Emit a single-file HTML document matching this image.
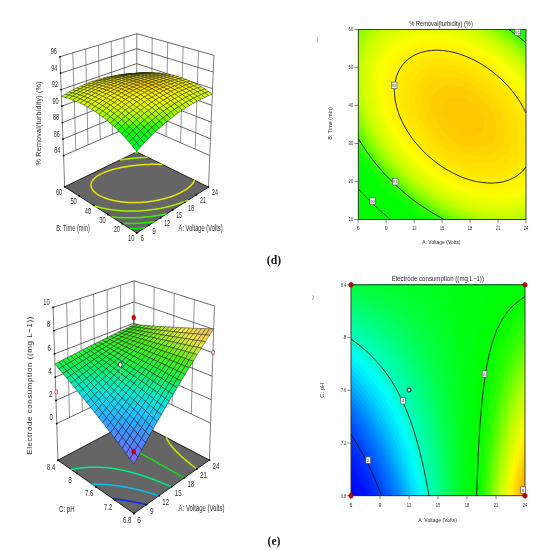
<!DOCTYPE html>
<html><head><meta charset="utf-8"><style>html,body{margin:0;padding:0;background:#fff;overflow:hidden}svg{display:block}</style></head>
<body>
<svg width="537" height="550" viewBox="0 0 537 550">
<rect width="537" height="550" fill="#fff"/>
<line x1="75.8" y1="150.3" x2="72.8" y2="52.8" stroke="#707070" stroke-width="0.75"/>
<line x1="88" y1="144.9" x2="85.6" y2="49" stroke="#707070" stroke-width="0.75"/>
<line x1="100.2" y1="139.6" x2="98.4" y2="45.2" stroke="#707070" stroke-width="0.75"/>
<line x1="112.4" y1="134.2" x2="111.2" y2="41.3" stroke="#707070" stroke-width="0.75"/>
<line x1="124.6" y1="128.9" x2="124" y2="37.5" stroke="#707070" stroke-width="0.75"/>
<line x1="195.2" y1="149.1" x2="198.5" y2="50.9" stroke="#707070" stroke-width="0.75"/>
<line x1="180.6" y1="142.7" x2="183.1" y2="46.6" stroke="#707070" stroke-width="0.75"/>
<line x1="166" y1="136.3" x2="167.7" y2="42.3" stroke="#707070" stroke-width="0.75"/>
<line x1="151.4" y1="129.9" x2="152.2" y2="38" stroke="#707070" stroke-width="0.75"/>
<line x1="63.6" y1="155.6" x2="136.8" y2="123.6" stroke="#262626" stroke-width="0.7"/>
<line x1="63" y1="139.1" x2="136.8" y2="108.6" stroke="#262626" stroke-width="0.7"/>
<line x1="62.4" y1="122.6" x2="136.8" y2="93.6" stroke="#262626" stroke-width="0.7"/>
<line x1="61.8" y1="106.1" x2="136.8" y2="78.6" stroke="#262626" stroke-width="0.7"/>
<line x1="61.2" y1="89.6" x2="136.8" y2="63.6" stroke="#262626" stroke-width="0.7"/>
<line x1="60.6" y1="73.1" x2="136.8" y2="48.7" stroke="#262626" stroke-width="0.7"/>
<line x1="60" y1="56.7" x2="136.8" y2="33.7" stroke="#262626" stroke-width="0.7"/>
<line x1="209.8" y1="155.5" x2="136.8" y2="123.6" stroke="#262626" stroke-width="0.7"/>
<line x1="210.5" y1="138.8" x2="136.8" y2="108.6" stroke="#262626" stroke-width="0.7"/>
<line x1="211.2" y1="122.1" x2="136.8" y2="93.6" stroke="#262626" stroke-width="0.7"/>
<line x1="211.9" y1="105.4" x2="136.8" y2="78.6" stroke="#262626" stroke-width="0.7"/>
<line x1="212.6" y1="88.7" x2="136.8" y2="63.6" stroke="#262626" stroke-width="0.7"/>
<line x1="213.2" y1="72" x2="136.8" y2="48.7" stroke="#262626" stroke-width="0.7"/>
<line x1="213.9" y1="55.3" x2="136.8" y2="33.7" stroke="#262626" stroke-width="0.7"/>
<line x1="64.7" y1="186.8" x2="60" y2="56.7" stroke="#555" stroke-width="0.75"/>
<line x1="136.7" y1="151.9" x2="136.8" y2="33.7" stroke="#555" stroke-width="0.75"/>
<line x1="208.5" y1="187.1" x2="213.9" y2="55.3" stroke="#555" stroke-width="0.75"/>
<polygon points="136.8,233 208.5,187.1 136.7,151.9 64.7,186.8" fill="#656565" stroke="#111" stroke-width="0.9"/>
<polyline points="129.9,228.6 130.6,228.6 130.6,228.6 131.3,228.6 131.4,228.6 132,228.6 132.2,228.6 132.7,228.5 132.9,228.5 133.4,228.5 133.7,228.5 134,228.5 134.5,228.5 134.7,228.5 135.3,228.4 135.4,228.4 136.1,228.4 136.1,228.4 136.7,228.4 136.8,228.4 137.4,228.3 137.6,228.3 138.1,228.3 138.4,228.3 138.7,228.3 139.2,228.2 139.4,228.2 140,228.2 140,228.2 140.7,228.1 140.8,228.1 141.3,228.1 141.6,228.1 142,228 142.5,228 142.6,228 143.3,227.9 143.3,227.9 143.9,227.9 144.1,227.9 144.6,227.8 144.9,227.8" fill="none" stroke="#10e800" stroke-width="1.5"/>
<polyline points="121.9,223.5 122,223.5 122.6,223.5 122.7,223.5 123.4,223.5 123.4,223.5 124.1,223.5 124.1,223.5 124.8,223.5 124.9,223.5 125.5,223.5 125.6,223.5 126.3,223.5 126.3,223.5 127,223.5 127.1,223.5 127.7,223.5 127.8,223.5 128.4,223.5 128.5,223.5 129.1,223.5 129.3,223.5 129.8,223.5 130,223.5 130.5,223.5 130.8,223.5 131.2,223.5 131.5,223.5 131.9,223.5 132.3,223.5 132.5,223.5 133.1,223.4 133.2,223.4 133.8,223.4 133.9,223.4 134.6,223.4 134.6,223.4 135.3,223.4 135.4,223.4 135.9,223.3 136.2,223.3 136.6,223.3 136.9,223.3 137.3,223.3 137.7,223.2 137.9,223.2 138.5,223.2 138.6,223.2 139.3,223.2 139.3,223.2 139.9,223.1 140.1,223.1 140.6,223.1 140.9,223.1 141.2,223 141.7,223 141.9,223 142.5,222.9 142.6,222.9 143.2,222.9 143.4,222.9 143.8,222.8 144.2,222.8 144.5,222.8 145,222.7 145.1,222.7 145.7,222.7 145.9,222.7 146.4,222.6 146.7,222.6 147,222.5 147.5,222.5 147.6,222.5 148.3,222.4 148.4,222.4 148.9,222.3 149.3,222.3 149.5,222.3 150.1,222.2 150.1,222.2 150.7,222.1 151,222.1 151.4,222.1 151.9,222 152,222 152.6,221.9 152.7,221.9 153.2,221.8 153.6,221.8 153.8,221.8 154.4,221.7 154.5,221.7" fill="none" stroke="#20ee00" stroke-width="1.5"/>
<polyline points="111.7,216.9 111.9,216.9 112.5,217 112.5,217 113.2,217.1 113.4,217.1 113.8,217.1 114.2,217.2 114.5,217.2 115,217.2 115.1,217.2 115.8,217.3 115.8,217.3 116.5,217.3 116.6,217.3 117.1,217.4 117.3,217.4 117.8,217.4 118.1,217.5 118.5,217.5 118.9,217.5 119.2,217.5 119.7,217.5 119.9,217.6 120.4,217.6 120.5,217.6 121.2,217.6 121.2,217.6 121.9,217.7 121.9,217.7 122.6,217.7 122.7,217.7 123.3,217.7 123.4,217.7 124,217.7 124.2,217.7 124.8,217.7 124.9,217.8 125.5,217.8 125.6,217.8 126.2,217.8 126.4,217.8 126.9,217.8 127.1,217.8 127.6,217.8 127.8,217.8 128.4,217.8 128.5,217.8 129.1,217.8 129.2,217.8 129.8,217.8 129.9,217.8 130.6,217.8 130.6,217.8 131.3,217.8 131.3,217.8 132,217.8 132.1,217.8 132.7,217.8 132.8,217.8 133.4,217.7 133.6,217.7 134.1,217.7 134.3,217.7 134.8,217.7 135.1,217.7 135.5,217.7 135.9,217.7 136.1,217.7 136.7,217.6 136.8,217.6 137.4,217.6 137.5,217.6 138.2,217.6 138.2,217.6 138.8,217.5 139,217.5 139.5,217.5 139.8,217.5 140.1,217.4 140.6,217.4 140.8,217.4 141.4,217.4 141.4,217.4 142.1,217.3 142.2,217.3 142.7,217.3 143.1,217.2 143.4,217.2 143.9,217.2 144,217.2 144.7,217.1 144.7,217.1 145.3,217.1 145.5,217 145.9,217 146.4,217 146.6,216.9 147.2,216.9 147.2,216.9 147.8,216.8 148.1,216.8 148.5,216.7 148.9,216.7 149.1,216.7 149.7,216.6 149.8,216.6 150.3,216.5 150.7,216.5 150.9,216.5 151.5,216.4 151.6,216.4 152.1,216.3 152.4,216.3 152.7,216.2 153.3,216.1 153.4,216.1 154,216.1 154.2,216 154.6,216 155.2,215.9 155.2,215.9 155.7,215.8 156.1,215.8 156.3,215.7 156.9,215.6 157,215.6 157.5,215.5 157.9,215.5 158.1,215.4 158.7,215.3 158.9,215.3 159.3,215.2 159.8,215.1 159.9,215.1 160.4,215 160.8,215 161,214.9 161.6,214.8 161.7,214.8 162.2,214.7 162.7,214.6 162.7,214.6 163.3,214.5 163.7,214.4 163.9,214.4 164.4,214.3 164.7,214.2 165,214.2 165.6,214.1 165.7,214 166.1,214 166.7,213.8 166.8,213.8" fill="none" stroke="#40f000" stroke-width="1.5"/>
<polyline points="138.1,152.5 137.5,152.6 137.5,152.6 136.8,152.6 136.6,152.6 136.2,152.7 135.7,152.7 135.6,152.7 135,152.8 134.9,152.8" fill="none" stroke="#40f000" stroke-width="1.5"/>
<polyline points="94.8,206 94.8,206.1 95.3,206.2 95.8,206.4 96,206.4 96.3,206.5 96.8,206.7 97.3,206.8 97.4,206.8 97.9,207 98.4,207.1 98.5,207.1 98.9,207.2 99.5,207.4 99.6,207.4 100,207.5 100.5,207.6 100.7,207.7 101.1,207.8 101.6,207.9 101.8,207.9 102.2,208 102.7,208.2 102.8,208.2 103.3,208.3 103.8,208.4 103.9,208.4 104.4,208.5 104.9,208.6 104.9,208.6 105.5,208.7 105.9,208.8 106.1,208.9 106.7,209 106.9,209 107.2,209.1 107.8,209.2 107.8,209.2 108.4,209.3 108.8,209.3 109,209.4 109.6,209.5 109.7,209.5 110.2,209.6 110.6,209.6 110.8,209.7 111.4,209.7 111.5,209.8 112,209.8 112.4,209.9 112.6,209.9 113.2,210 113.3,210 113.9,210.1 114.1,210.1 114.5,210.1 115,210.2 115.1,210.2 115.7,210.3 115.8,210.3 116.4,210.4 116.7,210.4 117,210.4 117.5,210.5 117.7,210.5 118.3,210.5 118.3,210.5 118.9,210.6 119.1,210.6 119.6,210.7 119.9,210.7 120.3,210.7 120.7,210.7 120.9,210.8 121.5,210.8 121.6,210.8 122.3,210.8 122.3,210.8 122.9,210.9 123.1,210.9 123.6,210.9 123.8,210.9 124.3,211 124.6,211 125,211 125.4,211 125.7,211 126.1,211 126.4,211 126.9,211.1 127.1,211.1 127.6,211.1 127.8,211.1 128.3,211.1 128.5,211.1 129.1,211.1 129.2,211.1 129.8,211.1 129.9,211.1 130.5,211.1 130.7,211.1 131.2,211.1 131.4,211.1 131.9,211.1 132.1,211.1 132.6,211.1 132.9,211.1 133.3,211.1 133.6,211.1 134,211.1 134.4,211.1 134.7,211.1 135.1,211.1 135.4,211.1 135.9,211 136.1,211 136.7,211 136.8,211 137.4,211 137.5,211 138.1,211 138.2,211 138.8,210.9 139,210.9 139.5,210.9 139.8,210.9 140.1,210.9 140.6,210.8 140.8,210.8 141.4,210.8 141.4,210.8 142.1,210.7 142.2,210.7 142.7,210.7 143,210.7 143.4,210.6 143.9,210.6 144,210.6 144.7,210.5 144.7,210.5 145.3,210.5 145.5,210.4 145.9,210.4 146.4,210.4 146.6,210.3 147.2,210.3 147.2,210.3 147.8,210.2 148.1,210.2 148.4,210.1 149,210.1 149,210.1 149.6,210 149.8,210 150.3,209.9 150.7,209.9 150.9,209.9 151.5,209.8 151.6,209.8 152.1,209.7 152.5,209.6 152.7,209.6 153.3,209.5 153.4,209.5 153.9,209.4 154.3,209.4 154.5,209.4 155,209.3 155.3,209.2 155.6,209.2 156.2,209.1 156.2,209.1 156.8,209 157.2,208.9 157.4,208.9 157.9,208.8 158.1,208.8 158.5,208.7 159.1,208.6 159.1,208.6 159.7,208.5 160.1,208.4 160.2,208.4 160.8,208.3 161.1,208.2 161.4,208.2 161.9,208 162.1,208 162.5,207.9 163,207.8 163.2,207.8 163.6,207.7 164.1,207.6 164.2,207.6 164.7,207.5 165.2,207.3 165.3,207.3 165.8,207.2 166.3,207.1 166.4,207.1 166.8,207 167.4,206.8 167.5,206.8 167.9,206.7 168.4,206.6 168.6,206.5 169,206.4 169.5,206.3 169.7,206.2 170,206.2 170.5,206 170.9,205.9 171,205.9 171.6,205.8 172.1,205.6 172.1,205.6 172.6,205.5 173.1,205.3 173.3,205.3 173.6,205.2 174.1,205 174.6,204.9 174.6,204.9 175.1,204.8 175.6,204.6 175.9,204.5 176.1,204.4 176.6,204.3 177.1,204.1 177.2,204.1 177.6,204 178.1,203.8 178.6,203.7 178.6,203.7 179.1,203.5 179.6,203.3 180,203.2 180,203.2 180.5,203 181,202.8 181.5,202.7 181.5,202.7 181.9,202.5 182.4,202.3 182.9,202.2 183,202.1 183.3,202 183.8,201.8 184.3,201.6 184.6,201.5 184.7,201.5 185.2,201.3 185.6,201.1 186.1,200.9 186.4,200.8 186.5,200.8 187,200.6 187.4,200.4 187.9,200.2 188.2,200" fill="none" stroke="#a8f000" stroke-width="1.5"/>
<polyline points="147.7,157.3 147.3,157.3 147.1,157.3 146.6,157.3 146.4,157.3 145.8,157.4 145.7,157.4 145.1,157.4 145,157.4 144.4,157.4 144.2,157.5 143.8,157.5 143.3,157.5 143.1,157.5 142.5,157.6 142.5,157.6 141.9,157.6 141.7,157.6 141.2,157.6 140.9,157.7 140.6,157.7 140,157.7 140,157.7 139.3,157.8 139.2,157.8 138.7,157.8 138.3,157.9 138.1,157.9 137.5,157.9 137.4,157.9 136.8,158 136.6,158 136.2,158 135.7,158.1 135.6,158.1 135,158.2 134.8,158.2 134.4,158.2 133.9,158.3 133.8,158.3 133.2,158.3 133,158.4 132.6,158.4 132.1,158.4 132,158.4 131.4,158.5 131.1,158.5 130.8,158.6 130.2,158.6 130.2,158.6 129.7,158.7 129.2,158.7 129.1,158.8 128.5,158.8 128.3,158.9 127.9,158.9 127.4,159 127.3,159 126.8,159 126.3,159.1 126.2,159.1 125.6,159.2 125.3,159.2 125.1,159.3 124.5,159.3 124.3,159.4 124,159.4 123.4,159.5 123.3,159.5 122.9,159.5 122.3,159.6 122.2,159.6 121.8,159.7 121.2,159.8 121.2,159.8 120.7,159.9 120.1,159.9 120.1,159.9" fill="none" stroke="#a8f000" stroke-width="1.5"/>
<polyline points="162.4,164.5 162.3,164.5 161.6,164.4 161.6,164.4 161,164.4 160.8,164.4 160.4,164.4 159.9,164.4 159.7,164.4 159.1,164.3 159,164.3 158.4,164.3 158.4,164.3 157.7,164.3 157.6,164.3 157,164.3 156.8,164.3 156.4,164.3 156,164.3 155.7,164.3 155.3,164.3 155,164.3 154.5,164.3 154.3,164.3 153.8,164.3 153.6,164.3 153.1,164.3 152.9,164.3 152.3,164.3 152.1,164.3 151.6,164.3 151.4,164.3 150.9,164.3 150.7,164.3 150.2,164.4 149.9,164.4 149.5,164.4 149.2,164.4 148.8,164.4 148.4,164.4 148.1,164.4 147.7,164.4 147.4,164.4 146.9,164.5 146.8,164.5 146.1,164.5 146.1,164.5 145.4,164.5 145.3,164.6 144.8,164.6 144.5,164.6 144.1,164.6 143.7,164.6 143.5,164.7 142.9,164.7 142.8,164.7 142.2,164.7 142.1,164.8 141.5,164.8 141.2,164.8 140.9,164.8 140.4,164.9 140.3,164.9 139.7,164.9 139.5,165 139,165 138.6,165 138.4,165.1 137.8,165.1 137.8,165.1 137.2,165.2 136.9,165.2 136.6,165.2 136,165.3 136,165.3 135.4,165.4 135,165.4 134.8,165.4 134.2,165.5 134.1,165.5 133.6,165.6 133.2,165.6 133.1,165.6 132.5,165.7 132.2,165.7 131.9,165.8 131.3,165.8 131.2,165.9 130.8,165.9 130.2,166 130.2,166 129.6,166.1 129.2,166.1 129.1,166.2 128.5,166.2 128.1,166.3 128,166.3 127.4,166.4 127.1,166.5 126.9,166.5 126.4,166.6 126,166.6 125.8,166.7 125.3,166.8 124.8,166.8 124.8,166.9 124.2,166.9 123.7,167 123.7,167 123.2,167.1 122.7,167.2 122.5,167.3 122.1,167.3 121.6,167.4 121.3,167.5 121.1,167.5 120.6,167.6 120.1,167.7 120,167.8 119.6,167.9 119.1,168 118.7,168.1 118.6,168.1 118.1,168.2 117.6,168.3 117.3,168.4 117.2,168.4 116.7,168.5 116.2,168.6 115.8,168.7 115.7,168.8 115.2,168.9 114.8,169 114.3,169.1 114.3,169.1 113.8,169.2 113.4,169.4 112.9,169.5 112.6,169.6 112.5,169.6 112,169.8 111.6,169.9 111.1,170 110.7,170.1 110.7,170.2 110.2,170.3 109.8,170.4 109.4,170.6 108.9,170.7 108.5,170.8 108.5,170.9 108.1,171 107.7,171.1 107.3,171.3 106.8,171.4 106.4,171.6 106,171.7 105.6,171.9 105.6,171.9 105.2,172.1 104.8,172.2 104.4,172.4 104,172.5 103.7,172.7 103.3,172.9 102.9,173 102.5,173.2 102.1,173.4 101.8,173.6 101.4,173.7 101,173.9 100.7,174.1 100.3,174.3 100,174.5 99.6,174.6 99.3,174.8 99,175 98.6,175.2 98.3,175.4 98,175.6 97.7,175.8 97.6,175.9 97.3,176 97,176.2 96.7,176.5 96.4,176.7 96.1,176.9 95.8,177.1 95.8,177.1 95.6,177.3 95.3,177.6 95,177.8 94.7,178 94.7,178.1 94.5,178.3 94.2,178.5 94,178.8 93.8,178.9 93.7,179 93.5,179.3 93.3,179.5 93.2,179.6 93.1,179.8 92.8,180.1 92.7,180.3 92.6,180.3 92.4,180.6 92.3,180.9 92.3,180.9 92.1,181.2 92,181.4 91.9,181.5 91.8,181.8 91.7,182 91.6,182.1 91.5,182.4 91.5,182.5 91.4,182.8 91.3,183 91.3,183.1 91.2,183.4 91.2,183.4 91.1,183.8 91.1,183.9 91,184.2 91,184.3 91,184.5 91,184.7 91,184.9 91,185.1 91,185.3 91,185.5 91,185.8 91,185.9 91,186.2 91.1,186.3 91.1,186.6 91.1,186.7 91.2,187 91.3,187.1 91.3,187.4 91.4,187.6 91.5,187.7 91.6,188.1 91.6,188.2 91.7,188.4 91.9,188.7 91.9,188.8 92.1,189 92.3,189.3 92.3,189.4 92.5,189.7 92.7,190 92.8,190.1 92.9,190.3 93.1,190.5 93.4,190.8 93.4,190.9 93.6,191.1 93.9,191.4 94.1,191.7 94.4,191.9 94.4,191.9 94.7,192.2 95,192.5 95.3,192.7 95.6,193 95.9,193.2 96.2,193.5 96.2,193.5 96.5,193.7 96.9,193.9 97.2,194.2 97.6,194.4 97.9,194.6 98.3,194.8 98.7,195.1 99,195.3 99.4,195.5 99.8,195.7 100.2,195.9 100.2,195.9 100.6,196.1 101,196.3 101.4,196.5 101.8,196.7 102.2,196.9 102.7,197.1 103,197.2 103.1,197.3 103.5,197.5 104,197.6 104.4,197.8 104.9,198 104.9,198 105.3,198.2 105.8,198.3 106.3,198.5 106.6,198.6 106.8,198.6 107.2,198.8 107.7,199 108,199 108.2,199.1 108.7,199.3 109.2,199.4 109.3,199.4 109.7,199.5 110.2,199.7 110.6,199.8 110.7,199.8 111.3,200 111.8,200.1 111.8,200.1 112.3,200.2 112.8,200.3 112.9,200.4 113.4,200.5 113.9,200.6 114,200.6 114.5,200.7 115,200.8 115,200.8 115.6,200.9 116,201 116.2,201 116.7,201.1 117,201.2 117.3,201.2 117.9,201.3 118,201.3 118.5,201.4 118.9,201.5 119.1,201.5 119.7,201.6 119.8,201.6 120.3,201.7 120.7,201.7 120.9,201.8 121.5,201.8 121.6,201.9 122.1,201.9 122.5,202 122.7,202 123.3,202 123.3,202 124,202.1 124.2,202.1 124.6,202.2 125,202.2 125.2,202.2 125.8,202.3 125.9,202.3 126.6,202.3 126.6,202.3 127.2,202.4 127.4,202.4 127.9,202.4 128.2,202.4 128.6,202.4 129,202.5 129.2,202.5 129.8,202.5 129.9,202.5 130.5,202.5 130.6,202.5 131.3,202.6 131.3,202.6 132,202.6 132,202.6 132.7,202.6 132.7,202.6 133.4,202.6 133.5,202.6 134.2,202.6 134.2,202.6 134.9,202.6 134.9,202.6 135.6,202.6 135.6,202.6 136.3,202.6 136.4,202.6 137,202.6 137.1,202.6 137.7,202.5 137.9,202.5 138.4,202.5 138.7,202.5 139.1,202.5 139.4,202.5 139.7,202.5 140.2,202.4 140.4,202.4 141,202.4 141.1,202.4 141.7,202.3 141.8,202.3 142.4,202.3 142.6,202.3 143,202.3 143.4,202.2 143.7,202.2 144.3,202.2 144.3,202.2 144.9,202.1 145.1,202.1 145.6,202 146,202 146.2,202 146.8,201.9 146.8,201.9 147.4,201.8 147.7,201.8 148,201.8 148.6,201.7 148.6,201.7 149.2,201.6 149.5,201.6 149.8,201.5 150.4,201.5 150.4,201.5 151,201.4 151.3,201.3 151.6,201.3 152.2,201.2 152.3,201.2 152.8,201.1 153.2,201 153.4,201 153.9,200.9 154.2,200.9 154.5,200.8 155.1,200.7 155.2,200.7 155.6,200.6 156.2,200.5 156.2,200.5 156.8,200.4 157.2,200.3 157.3,200.3 157.9,200.2 158.3,200.1 158.4,200.1 158.9,200 159.4,199.9 159.5,199.8 160,199.7 160.5,199.6 160.6,199.6 161.1,199.5 161.6,199.4 161.6,199.4 162.1,199.2 162.7,199.1 162.8,199.1 163.2,199 163.7,198.8 164,198.8 164.2,198.7 164.7,198.6 165.2,198.4 165.2,198.4 165.7,198.3 166.2,198.1 166.5,198.1 166.7,198 167.2,197.8 167.7,197.7 167.8,197.6 168.2,197.5 168.7,197.4 169.2,197.2 169.3,197.2 169.6,197.1 170.1,196.9 170.6,196.8 170.8,196.7 171.1,196.6 171.5,196.4 172,196.3 172.4,196.1 172.5,196.1 172.9,195.9 173.4,195.8 173.8,195.6 174.1,195.5 174.3,195.4 174.7,195.2 175.1,195.1 175.6,194.9 176,194.7 176.1,194.7 176.5,194.5 176.9,194.3 177.3,194.1 177.7,194 178.2,193.8 178.5,193.6 178.6,193.6 179,193.4 179.4,193.2 179.8,193 180.2,192.8 180.6,192.6 181,192.4 181.4,192.2 181.8,192 182,191.8 182.2,191.8 182.6,191.5 182.9,191.3 183.3,191.1 183.7,190.9 184.1,190.7 184.4,190.5 184.8,190.2 185.1,190 185.5,189.8 185.8,189.6 186.2,189.3 186.5,189.1 186.9,188.9 187,188.8 187.2,188.6 187.5,188.4 187.8,188.1 188.2,187.9 188.5,187.7 188.8,187.4 189.1,187.2 189.4,186.9 189.5,186.8 189.7,186.6 190,186.4 190.3,186.1 190.5,185.9 190.8,185.6 190.8,185.6 191.1,185.3 191.3,185.1 191.6,184.8 191.7,184.6 191.8,184.5 192.1,184.2 192.3,183.9 192.4,183.8 192.6,183.6 192.8,183.4 193,183.1 193,183.1 193.2,182.8 193.4,182.5 193.4,182.4 193.6,182.2 193.8,181.8 193.8,181.8 193.9,181.5 194.1,181.2 194.1,181.2 194.2,180.9 194.3,180.6 194.4,180.5 194.5,180.2" fill="none" stroke="#e8e400" stroke-width="1.5"/>
<g stroke="#0a0a0a" stroke-width="0.42" stroke-linejoin="round">
<polygon points="136.8,73.3 140.6,73.1 136.8,73.5 133,73.6" fill="#76fc00"/>
<polygon points="133,73.5 136.8,73.3 133,73.6 129.3,73.8" fill="#92fc00"/>
<polygon points="140.6,73 144.3,72.8 140.6,73.1 136.8,73.3" fill="#9afc00"/>
<polygon points="129.3,73.9 133,73.5 129.3,73.8 125.5,74.1" fill="#a5fc00"/>
<polygon points="136.8,73.4 140.6,73 136.8,73.3 133,73.5" fill="#affc00"/>
<polygon points="144.4,72.9 148.1,72.6 144.3,72.8 140.6,73" fill="#b6fc00"/>
<polygon points="140.6,73.3 144.4,72.9 140.6,73 136.8,73.4" fill="#c9fc00"/>
<polygon points="148.1,73 151.9,72.6 148.1,72.6 144.4,72.9" fill="#cefc00"/>
<polygon points="125.5,74.4 129.3,73.9 125.5,74.1 121.7,74.5" fill="#b6fc00"/>
<polygon points="133,73.8 136.8,73.4 133,73.5 129.3,73.9" fill="#c1fc00"/>
<polygon points="144.4,73.4 148.1,73 144.4,72.9 140.6,73.3" fill="#dafc00"/>
<polygon points="121.7,74.9 125.5,74.4 121.7,74.5 117.9,75.1" fill="#c6fc00"/>
<polygon points="129.2,74.3 133,73.8 129.3,73.9 125.5,74.4" fill="#d2fc00"/>
<polygon points="136.8,73.8 140.6,73.3 136.8,73.4 133,73.8" fill="#d7fc00"/>
<polygon points="151.9,73.2 155.7,72.8 151.9,72.6 148.1,73" fill="#dcfb00"/>
<polygon points="125.5,75 129.2,74.3 125.5,74.4 121.7,74.9" fill="#dafc00"/>
<polygon points="148.2,73.7 151.9,73.2 148.1,73 144.4,73.4" fill="#e6fb00"/>
<polygon points="117.9,75.6 121.7,74.9 117.9,75.1 114.2,75.7" fill="#d3fc00"/>
<polygon points="133,74.4 136.8,73.8 133,73.8 129.2,74.3" fill="#e0fb00"/>
<polygon points="140.6,74 144.4,73.4 140.6,73.3 136.8,73.8" fill="#e4fb00"/>
<polygon points="155.7,73.5 159.5,73 155.7,72.8 151.9,73.2" fill="#e7fb00"/>
<polygon points="136.8,74.7 140.6,74 136.8,73.8 133,74.4" fill="#ecfb00"/>
<polygon points="114.1,76.4 117.9,75.6 114.2,75.7 110.4,76.4" fill="#d9fc00"/>
<polygon points="121.7,75.7 125.5,75 121.7,74.9 117.9,75.6" fill="#e1fb00"/>
<polygon points="129.2,75.1 133,74.4 129.2,74.3 125.5,75" fill="#e8fb00"/>
<polygon points="144.4,74.3 148.2,73.7 144.4,73.4 140.6,74" fill="#effb00"/>
<polygon points="152,74.1 155.7,73.5 151.9,73.2 148.2,73.7" fill="#f0fa00"/>
<polygon points="159.5,74 163.3,73.5 159.5,73 155.7,73.5" fill="#f0fb00"/>
<polygon points="110.3,77.3 114.1,76.4 110.4,76.4 106.6,77.2" fill="#defb00"/>
<polygon points="117.9,76.6 121.7,75.7 117.9,75.6 114.1,76.4" fill="#e7fb00"/>
<polygon points="133,75.5 136.8,74.7 133,74.4 129.2,75.1" fill="#f3fa00"/>
<polygon points="140.6,75.1 144.4,74.3 140.6,74 136.8,74.7" fill="#f7fa00"/>
<polygon points="148.2,74.8 152,74.1 148.2,73.7 144.4,74.3" fill="#f9fa00"/>
<polygon points="155.7,74.7 159.5,74 155.7,73.5 152,74.1" fill="#f9fa00"/>
<polygon points="125.5,76 129.2,75.1 125.5,75 121.7,75.7" fill="#eefb00"/>
<polygon points="163.3,74.7 167.1,74.1 163.3,73.5 159.5,74" fill="#f7fa00"/>
<polygon points="121.7,76.9 125.5,76 121.7,75.7 117.9,76.6" fill="#f4fa00"/>
<polygon points="129.2,76.4 133,75.5 129.2,75.1 125.5,76" fill="#f9fa00"/>
<polygon points="159.5,75.4 163.3,74.7 159.5,74 155.7,74.7" fill="#fbf600"/>
<polygon points="167.1,75.5 170.9,74.8 167.1,74.1 163.3,74.7" fill="#faf800"/>
<polygon points="106.6,78.3 110.3,77.3 106.6,77.2 102.8,78.2" fill="#e2fb00"/>
<polygon points="114.1,77.6 117.9,76.6 114.1,76.4 110.3,77.3" fill="#ecfb00"/>
<polygon points="136.8,75.9 140.6,75.1 136.8,74.7 133,75.5" fill="#faf800"/>
<polygon points="144.4,75.7 148.2,74.8 144.4,74.3 140.6,75.1" fill="#fbf600"/>
<polygon points="152,75.5 155.7,74.7 152,74.1 148.2,74.8" fill="#fbf600"/>
<polygon points="125.5,77.4 129.2,76.4 125.5,76 121.7,76.9" fill="#fbf700"/>
<polygon points="163.3,76.3 167.1,75.5 163.3,74.7 159.5,75.4" fill="#fbf300"/>
<polygon points="102.8,79.5 106.6,78.3 102.8,78.2 99,79.2" fill="#e5fb00"/>
<polygon points="110.3,78.6 114.1,77.6 110.3,77.3 106.6,78.3" fill="#effb00"/>
<polygon points="117.9,77.9 121.7,76.9 117.9,76.6 114.1,77.6" fill="#f8fa00"/>
<polygon points="133,76.9 136.8,75.9 133,75.5 129.2,76.4" fill="#fbf400"/>
<polygon points="140.6,76.6 144.4,75.7 140.6,75.1 136.8,75.9" fill="#fcf200"/>
<polygon points="148.2,76.4 152,75.5 148.2,74.8 144.4,75.7" fill="#fcf200"/>
<polygon points="155.8,76.3 159.5,75.4 155.7,74.7 152,75.5" fill="#fcf200"/>
<polygon points="170.9,76.5 174.7,75.7 170.9,74.8 167.1,75.5" fill="#fbf600"/>
<polygon points="106.5,79.9 110.3,78.6 106.6,78.3 102.8,79.5" fill="#f2fa00"/>
<polygon points="129.2,78 133,76.9 129.2,76.4 125.5,77.4" fill="#fcf200"/>
<polygon points="144.4,77.4 148.2,76.4 144.4,75.7 140.6,76.6" fill="#fbeb00"/>
<polygon points="167.1,77.4 170.9,76.5 167.1,75.5 163.3,76.3" fill="#fcf100"/>
<polygon points="99,80.7 102.8,79.5 99,79.2 95.2,80.4" fill="#e7fb00"/>
<polygon points="114.1,79.1 117.9,77.9 114.1,77.6 110.3,78.6" fill="#fafa00"/>
<polygon points="121.7,78.5 125.5,77.4 121.7,76.9 117.9,77.9" fill="#fbf500"/>
<polygon points="136.8,77.6 140.6,76.6 136.8,75.9 133,76.9" fill="#fcee00"/>
<polygon points="152,77.2 155.8,76.3 152,75.5 148.2,76.4" fill="#fbea00"/>
<polygon points="159.6,77.2 163.3,76.3 159.5,75.4 155.8,76.3" fill="#fced00"/>
<polygon points="174.7,77.6 178.5,76.8 174.7,75.7 170.9,76.5" fill="#fbf400"/>
<polygon points="155.8,78.3 159.6,77.2 155.8,76.3 152,77.2" fill="#fbe400"/>
<polygon points="170.9,78.6 174.7,77.6 170.9,76.5 167.1,77.4" fill="#fcef00"/>
<polygon points="178.5,78.9 182.3,78 178.5,76.8 174.7,77.6" fill="#fbf400"/>
<polygon points="95.2,82.1 99,80.7 95.2,80.4 91.5,81.7" fill="#e7fb00"/>
<polygon points="102.8,81.2 106.5,79.9 102.8,79.5 99,80.7" fill="#f3fa00"/>
<polygon points="110.3,80.4 114.1,79.1 110.3,78.6 106.5,79.9" fill="#faf800"/>
<polygon points="117.9,79.7 121.7,78.5 117.9,77.9 114.1,79.1" fill="#fbf400"/>
<polygon points="125.4,79.2 129.2,78 125.5,77.4 121.7,78.5" fill="#fcef00"/>
<polygon points="133,78.8 136.8,77.6 133,76.9 129.2,78" fill="#fbe800"/>
<polygon points="140.6,78.5 144.4,77.4 140.6,76.6 136.8,77.6" fill="#fbe400"/>
<polygon points="148.2,78.3 152,77.2 148.2,76.4 144.4,77.4" fill="#fbe200"/>
<polygon points="163.3,78.4 167.1,77.4 163.3,76.3 159.6,77.2" fill="#fbe800"/>
<polygon points="91.4,83.6 95.2,82.1 91.5,81.7 87.7,83.1" fill="#e7fb00"/>
<polygon points="99,82.6 102.8,81.2 99,80.7 95.2,82.1" fill="#f3fa00"/>
<polygon points="114.1,81.1 117.9,79.7 114.1,79.1 110.3,80.4" fill="#fbf300"/>
<polygon points="121.7,80.5 125.4,79.2 121.7,78.5 117.9,79.7" fill="#fcec00"/>
<polygon points="129.2,80 133,78.8 129.2,78 125.4,79.2" fill="#fbe400"/>
<polygon points="136.8,79.7 140.6,78.5 136.8,77.6 133,78.8" fill="#fade00"/>
<polygon points="152,79.4 155.8,78.3 152,77.2 148.2,78.3" fill="#fadc00"/>
<polygon points="159.6,79.5 163.3,78.4 159.6,77.2 155.8,78.3" fill="#fadf00"/>
<polygon points="167.1,79.7 170.9,78.6 167.1,77.4 163.3,78.4" fill="#fbe600"/>
<polygon points="174.7,80 178.5,78.9 174.7,77.6 170.9,78.6" fill="#fcef00"/>
<polygon points="106.5,81.8 110.3,80.4 106.5,79.9 102.8,81.2" fill="#faf800"/>
<polygon points="144.4,79.5 148.2,78.3 144.4,77.4 140.6,78.5" fill="#fadc00"/>
<polygon points="182.3,80.4 186.1,79.4 182.3,78 178.5,78.9" fill="#fbf400"/>
<polygon points="102.7,83.3 106.5,81.8 102.8,81.2 99,82.6" fill="#faf800"/>
<polygon points="110.3,82.6 114.1,81.1 110.3,80.4 106.5,81.8" fill="#fbf300"/>
<polygon points="117.9,81.9 121.7,80.5 117.9,79.7 114.1,81.1" fill="#fbeb00"/>
<polygon points="140.6,80.8 144.4,79.5 140.6,78.5 136.8,79.7" fill="#f7d400"/>
<polygon points="148.2,80.7 152,79.4 148.2,78.3 144.4,79.5" fill="#f7d300"/>
<polygon points="163.4,80.9 167.1,79.7 163.3,78.4 159.6,79.5" fill="#fade00"/>
<polygon points="170.9,81.1 174.7,80 170.9,78.6 167.1,79.7" fill="#fbe600"/>
<polygon points="178.5,81.5 182.3,80.4 178.5,78.9 174.7,80" fill="#fcf000"/>
<polygon points="186.1,82 189.8,81 186.1,79.4 182.3,80.4" fill="#fbf600"/>
<polygon points="87.7,85.2 91.4,83.6 87.7,83.1 83.9,84.7" fill="#e5fb00"/>
<polygon points="95.2,84.2 99,82.6 95.2,82.1 91.4,83.6" fill="#f2fa00"/>
<polygon points="125.4,81.4 129.2,80 125.4,79.2 121.7,80.5" fill="#fbe100"/>
<polygon points="133,81.1 136.8,79.7 133,78.8 129.2,80" fill="#f9da00"/>
<polygon points="155.8,80.7 159.6,79.5 155.8,78.3 152,79.4" fill="#f8d700"/>
<polygon points="83.9,86.9 87.7,85.2 83.9,84.7 80.2,86.3" fill="#e2fb00"/>
<polygon points="91.4,85.9 95.2,84.2 91.4,83.6 87.7,85.2" fill="#effb00"/>
<polygon points="99,84.9 102.7,83.3 99,82.6 95.2,84.2" fill="#fafa00"/>
<polygon points="106.5,84.2 110.3,82.6 106.5,81.8 102.7,83.3" fill="#fbf300"/>
<polygon points="114.1,83.5 117.9,81.9 114.1,81.1 110.3,82.6" fill="#fcec00"/>
<polygon points="121.7,82.9 125.4,81.4 121.7,80.5 117.9,81.9" fill="#fbe100"/>
<polygon points="129.2,82.5 133,81.1 129.2,80 125.4,81.4" fill="#f9d800"/>
<polygon points="136.8,82.2 140.6,80.8 136.8,79.7 133,81.1" fill="#f6cf00"/>
<polygon points="144.4,82.1 148.2,80.7 144.4,79.5 140.6,80.8" fill="#f5cc00"/>
<polygon points="152,82.1 155.8,80.7 152,79.4 148.2,80.7" fill="#f5ce00"/>
<polygon points="159.6,82.2 163.4,80.9 159.6,79.5 155.8,80.7" fill="#f8d600"/>
<polygon points="167.1,82.4 170.9,81.1 167.1,79.7 163.4,80.9" fill="#fae000"/>
<polygon points="174.7,82.7 178.5,81.5 174.7,80 170.9,81.1" fill="#fbea00"/>
<polygon points="182.3,83.2 186.1,82 182.3,80.4 178.5,81.5" fill="#fcf200"/>
<polygon points="189.8,83.9 193.6,82.7 189.8,81 186.1,82" fill="#faf800"/>
<polygon points="87.7,87.7 91.4,85.9 87.7,85.2 83.9,86.9" fill="#ecfb00"/>
<polygon points="110.3,85.2 114.1,83.5 110.3,82.6 106.5,84.2" fill="#fcef00"/>
<polygon points="125.4,84.1 129.2,82.5 125.4,81.4 121.7,82.9" fill="#f9d900"/>
<polygon points="148.2,83.5 152,82.1 148.2,80.7 144.4,82.1" fill="#f4ca00"/>
<polygon points="163.3,83.8 167.1,82.4 163.4,80.9 159.6,82.2" fill="#f9da00"/>
<polygon points="80.1,88.8 83.9,86.9 80.2,86.3 76.4,88.1" fill="#defb00"/>
<polygon points="95.2,86.7 99,84.9 95.2,84.2 91.4,85.9" fill="#f8fa00"/>
<polygon points="102.7,85.9 106.5,84.2 102.7,83.3 99,84.9" fill="#fbf500"/>
<polygon points="117.9,84.6 121.7,82.9 117.9,81.9 114.1,83.5" fill="#fbe300"/>
<polygon points="133,83.8 136.8,82.2 133,81.1 129.2,82.5" fill="#f6cf00"/>
<polygon points="140.6,83.6 144.4,82.1 140.6,80.8 136.8,82.2" fill="#f4ca00"/>
<polygon points="155.8,83.6 159.6,82.2 155.8,80.7 152,82.1" fill="#f6cf00"/>
<polygon points="170.9,84.1 174.7,82.7 170.9,81.1 167.1,82.4" fill="#fbe400"/>
<polygon points="178.5,84.6 182.3,83.2 178.5,81.5 174.7,82.7" fill="#fcf000"/>
<polygon points="186,85.1 189.8,83.9 186.1,82 182.3,83.2" fill="#fbf500"/>
<polygon points="193.6,85.8 197.4,84.6 193.6,82.7 189.8,83.9" fill="#f7fa00"/>
<polygon points="159.6,85.3 163.3,83.8 159.6,82.2 155.8,83.6" fill="#f8d500"/>
<polygon points="189.8,87.2 193.6,85.8 189.8,83.9 186,85.1" fill="#faf900"/>
<polygon points="197.4,88 201.1,86.7 197.4,84.6 193.6,85.8" fill="#effb00"/>
<polygon points="76.4,90.7 80.1,88.8 76.4,88.1 72.6,90" fill="#d8fc00"/>
<polygon points="83.9,89.6 87.7,87.7 83.9,86.9 80.1,88.8" fill="#e7fb00"/>
<polygon points="91.4,88.6 95.2,86.7 91.4,85.9 87.7,87.7" fill="#f4fa00"/>
<polygon points="99,87.7 102.7,85.9 99,84.9 95.2,86.7" fill="#fbf700"/>
<polygon points="106.5,87 110.3,85.2 106.5,84.2 102.7,85.9" fill="#fcf100"/>
<polygon points="114.1,86.3 117.9,84.6 114.1,83.5 110.3,85.2" fill="#fbe700"/>
<polygon points="121.6,85.8 125.4,84.1 121.7,82.9 117.9,84.6" fill="#fadd00"/>
<polygon points="129.2,85.5 133,83.8 129.2,82.5 125.4,84.1" fill="#f7d200"/>
<polygon points="136.8,85.2 140.6,83.6 136.8,82.2 133,83.8" fill="#f4cb00"/>
<polygon points="144.4,85.1 148.2,83.5 144.4,82.1 140.6,83.6" fill="#f4c900"/>
<polygon points="152,85.1 155.8,83.6 152,82.1 148.2,83.5" fill="#f5cd00"/>
<polygon points="167.1,85.6 170.9,84.1 167.1,82.4 163.3,83.8" fill="#fae000"/>
<polygon points="174.7,86 178.5,84.6 174.7,82.7 170.9,84.1" fill="#fbeb00"/>
<polygon points="182.3,86.5 186,85.1 182.3,83.2 178.5,84.6" fill="#fbf300"/>
<polygon points="72.6,92.9 76.4,90.7 72.6,90 68.9,92" fill="#d1fc00"/>
<polygon points="80.1,91.7 83.9,89.6 80.1,88.8 76.4,90.7" fill="#e1fb00"/>
<polygon points="87.7,90.6 91.4,88.6 87.7,87.7 83.9,89.6" fill="#eefb00"/>
<polygon points="95.2,89.7 99,87.7 95.2,86.7 91.4,88.6" fill="#fafa00"/>
<polygon points="102.7,88.9 106.5,87 102.7,85.9 99,87.7" fill="#fbf400"/>
<polygon points="110.3,88.2 114.1,86.3 110.3,85.2 106.5,87" fill="#fcec00"/>
<polygon points="117.9,87.7 121.6,85.8 117.9,84.6 114.1,86.3" fill="#fbe200"/>
<polygon points="133,87 136.8,85.2 133,83.8 129.2,85.5" fill="#f6cf00"/>
<polygon points="140.6,86.8 144.4,85.1 140.6,83.6 136.8,85.2" fill="#f5cc00"/>
<polygon points="148.2,86.8 152,85.1 148.2,83.5 144.4,85.1" fill="#f5cd00"/>
<polygon points="155.8,86.9 159.6,85.3 155.8,83.6 152,85.1" fill="#f7d400"/>
<polygon points="170.9,87.5 174.7,86 170.9,84.1 167.1,85.6" fill="#fbe800"/>
<polygon points="186,88.7 189.8,87.2 186,85.1 182.3,86.5" fill="#faf800"/>
<polygon points="193.6,89.5 197.4,88 193.6,85.8 189.8,87.2" fill="#f3fa00"/>
<polygon points="125.4,87.3 129.2,85.5 125.4,84.1 121.6,85.8" fill="#f9d800"/>
<polygon points="163.3,87.2 167.1,85.6 163.3,83.8 159.6,85.3" fill="#fade00"/>
<polygon points="178.5,88.1 182.3,86.5 178.5,84.6 174.7,86" fill="#fcf200"/>
<polygon points="201.1,90.4 204.9,89 201.1,86.7 197.4,88" fill="#e6fb00"/>
<polygon points="68.9,95.1 72.6,92.9 68.9,92 65.2,94.2" fill="#c4fc00"/>
<polygon points="83.9,92.8 87.7,90.6 83.9,89.6 80.1,91.7" fill="#e8fb00"/>
<polygon points="91.4,91.8 95.2,89.7 91.4,88.6 87.7,90.6" fill="#f4fa00"/>
<polygon points="99,90.9 102.7,88.9 99,87.7 95.2,89.7" fill="#fbf700"/>
<polygon points="121.6,89.2 125.4,87.3 121.6,85.8 117.9,87.7" fill="#fadf00"/>
<polygon points="129.2,88.9 133,87 129.2,85.5 125.4,87.3" fill="#f8d700"/>
<polygon points="136.8,88.7 140.6,86.8 136.8,85.2 133,87" fill="#f7d200"/>
<polygon points="152,88.7 155.8,86.9 152,85.1 148.2,86.8" fill="#f8d600"/>
<polygon points="159.5,88.9 163.3,87.2 159.6,85.3 155.8,86.9" fill="#fadf00"/>
<polygon points="167.1,89.2 170.9,87.5 167.1,85.6 163.3,87.2" fill="#fbe700"/>
<polygon points="174.7,89.7 178.5,88.1 174.7,86 170.9,87.5" fill="#fcf100"/>
<polygon points="189.8,91 193.6,89.5 189.8,87.2 186,88.7" fill="#f5fa00"/>
<polygon points="197.3,91.9 201.1,90.4 197.4,88 193.6,89.5" fill="#e9fb00"/>
<polygon points="204.8,92.9 208.6,91.4 204.9,89 201.1,90.4" fill="#dbfc00"/>
<polygon points="76.4,93.9 80.1,91.7 76.4,90.7 72.6,92.9" fill="#dafc00"/>
<polygon points="106.5,90.2 110.3,88.2 106.5,87 102.7,88.9" fill="#fcf200"/>
<polygon points="114.1,89.6 117.9,87.7 114.1,86.3 110.3,88.2" fill="#fbe800"/>
<polygon points="144.4,88.6 148.2,86.8 144.4,85.1 140.6,86.8" fill="#f6d100"/>
<polygon points="182.2,90.3 186,88.7 182.3,86.5 178.5,88.1" fill="#fbf600"/>
<polygon points="65.2,97.5 68.9,95.1 65.2,94.2 61.4,96.4" fill="#b4fc00"/>
<polygon points="72.6,96.2 76.4,93.9 72.6,92.9 68.9,95.1" fill="#d1fc00"/>
<polygon points="80.1,95 83.9,92.8 80.1,91.7 76.4,93.9" fill="#e0fb00"/>
<polygon points="87.7,94 91.4,91.8 87.7,90.6 83.9,92.8" fill="#edfb00"/>
<polygon points="95.2,93.1 99,90.9 95.2,89.7 91.4,91.8" fill="#f8fa00"/>
<polygon points="102.7,92.4 106.5,90.2 102.7,88.9 99,90.9" fill="#fbf500"/>
<polygon points="117.9,91.2 121.6,89.2 117.9,87.7 114.1,89.6" fill="#fbe700"/>
<polygon points="125.4,90.9 129.2,88.9 125.4,87.3 121.6,89.2" fill="#fae000"/>
<polygon points="133,90.6 136.8,88.7 133,87 129.2,88.9" fill="#fadb00"/>
<polygon points="140.6,90.5 144.4,88.6 140.6,86.8 136.8,88.7" fill="#f9d900"/>
<polygon points="155.7,90.7 159.5,88.9 155.8,86.9 152,88.7" fill="#fae100"/>
<polygon points="163.3,91 167.1,89.2 163.3,87.2 159.5,88.9" fill="#fbe800"/>
<polygon points="170.9,91.5 174.7,89.7 170.9,87.5 167.1,89.2" fill="#fcf100"/>
<polygon points="178.4,92 182.2,90.3 178.5,88.1 174.7,89.7" fill="#fbf600"/>
<polygon points="193.5,93.6 197.3,91.9 193.6,89.5 189.8,91" fill="#ebfb00"/>
<polygon points="201.1,94.5 204.8,92.9 201.1,90.4 197.3,91.9" fill="#defb00"/>
<polygon points="208.6,95.6 212.3,94.1 208.6,91.4 204.8,92.9" fill="#ccfc00"/>
<polygon points="110.3,91.7 114.1,89.6 110.3,88.2 106.5,90.2" fill="#fcf000"/>
<polygon points="148.2,90.6 152,88.7 148.2,86.8 144.4,88.6" fill="#fadc00"/>
<polygon points="186,92.7 189.8,91 186,88.7 182.2,90.3" fill="#f7fa00"/>
<polygon points="91.4,95.4 95.2,93.1 91.4,91.8 87.7,94" fill="#f1fa00"/>
<polygon points="106.5,94 110.3,91.7 106.5,90.2 102.7,92.4" fill="#fbf400"/>
<polygon points="129.2,92.7 133,90.6 129.2,88.9 125.4,90.9" fill="#fbe300"/>
<polygon points="144.4,92.6 148.2,90.6 144.4,88.6 140.6,90.5" fill="#fbe100"/>
<polygon points="167.1,93.4 170.9,91.5 167.1,89.2 163.3,91" fill="#fcf200"/>
<polygon points="197.3,96.3 201.1,94.5 197.3,91.9 193.5,93.6" fill="#dffb00"/>
<polygon points="204.8,97.4 208.6,95.6 204.8,92.9 201.1,94.5" fill="#d0fc00"/>
<polygon points="68.9,98.6 72.6,96.2 68.9,95.1 65.2,97.5" fill="#c0fc00"/>
<polygon points="76.4,97.4 80.1,95 76.4,93.9 72.6,96.2" fill="#d7fc00"/>
<polygon points="83.9,96.4 87.7,94 83.9,92.8 80.1,95" fill="#e5fb00"/>
<polygon points="99,94.6 102.7,92.4 99,90.9 95.2,93.1" fill="#fafa00"/>
<polygon points="114.1,93.4 117.9,91.2 114.1,89.6 110.3,91.7" fill="#fcf000"/>
<polygon points="121.6,93 125.4,90.9 121.6,89.2 117.9,91.2" fill="#fbe800"/>
<polygon points="136.8,92.6 140.6,90.5 136.8,88.7 133,90.6" fill="#fae100"/>
<polygon points="151.9,92.7 155.7,90.7 152,88.7 148.2,90.6" fill="#fbe500"/>
<polygon points="159.5,93 163.3,91 159.5,88.9 155.7,90.7" fill="#fceb00"/>
<polygon points="174.7,93.9 178.4,92 174.7,89.7 170.9,91.5" fill="#fbf600"/>
<polygon points="182.2,94.5 186,92.7 182.2,90.3 178.4,92" fill="#f7fa00"/>
<polygon points="189.7,95.3 193.5,93.6 189.8,91 186,92.7" fill="#ecfb00"/>
<polygon points="72.6,100 76.4,97.4 72.6,96.2 68.9,98.6" fill="#c9fc00"/>
<polygon points="80.1,98.9 83.9,96.4 80.1,95 76.4,97.4" fill="#dbfc00"/>
<polygon points="87.7,97.9 91.4,95.4 87.7,94 83.9,96.4" fill="#e8fb00"/>
<polygon points="102.7,96.3 106.5,94 102.7,92.4 99,94.6" fill="#faf900"/>
<polygon points="125.4,95 129.2,92.7 125.4,90.9 121.6,93" fill="#fcec00"/>
<polygon points="133,94.8 136.8,92.6 133,90.6 129.2,92.7" fill="#fbe900"/>
<polygon points="140.6,94.7 144.4,92.6 140.6,90.5 136.8,92.6" fill="#fbe900"/>
<polygon points="163.3,95.4 167.1,93.4 163.3,91 159.5,93" fill="#fbf300"/>
<polygon points="170.9,95.9 174.7,93.9 170.9,91.5 167.1,93.4" fill="#faf800"/>
<polygon points="186,97.3 189.7,95.3 186,92.7 182.2,94.5" fill="#ebfb00"/>
<polygon points="193.5,98.2 197.3,96.3 193.5,93.6 189.7,95.3" fill="#dffb00"/>
<polygon points="201,99.2 204.8,97.4 201.1,94.5 197.3,96.3" fill="#d1fc00"/>
<polygon points="95.2,97 99,94.6 95.2,93.1 91.4,95.4" fill="#f3fa00"/>
<polygon points="110.3,95.7 114.1,93.4 110.3,91.7 106.5,94" fill="#fbf400"/>
<polygon points="117.9,95.3 121.6,93 117.9,91.2 114.1,93.4" fill="#fcf100"/>
<polygon points="148.1,94.8 151.9,92.7 148.2,90.6 144.4,92.6" fill="#fceb00"/>
<polygon points="155.7,95 159.5,93 155.7,90.7 151.9,92.7" fill="#fcf000"/>
<polygon points="178.4,96.5 182.2,94.5 178.4,92 174.7,93.9" fill="#f5fa00"/>
<polygon points="76.4,101.5 80.1,98.9 76.4,97.4 72.6,100" fill="#d0fc00"/>
<polygon points="83.9,100.5 87.7,97.9 83.9,96.4 80.1,98.9" fill="#defb00"/>
<polygon points="106.5,98.2 110.3,95.7 106.5,94 102.7,96.3" fill="#faf900"/>
<polygon points="114.1,97.7 117.9,95.3 114.1,93.4 110.3,95.7" fill="#fbf600"/>
<polygon points="151.9,97.2 155.7,95 151.9,92.7 148.1,94.8" fill="#fbf300"/>
<polygon points="189.7,100.2 193.5,98.2 189.7,95.3 186,97.3" fill="#defb00"/>
<polygon points="91.4,99.6 95.2,97 91.4,95.4 87.7,97.9" fill="#e9fb00"/>
<polygon points="99,98.8 102.7,96.3 99,94.6 95.2,97" fill="#f3fa00"/>
<polygon points="121.6,97.3 125.4,95 121.6,93 117.9,95.3" fill="#fbf300"/>
<polygon points="129.2,97.1 133,94.8 129.2,92.7 125.4,95" fill="#fcf100"/>
<polygon points="136.8,97 140.6,94.7 136.8,92.6 133,94.8" fill="#fcf100"/>
<polygon points="159.5,97.5 163.3,95.4 159.5,93 155.7,95" fill="#fbf600"/>
<polygon points="167.1,98 170.9,95.9 167.1,93.4 163.3,95.4" fill="#faf900"/>
<polygon points="174.6,98.6 178.4,96.5 174.7,93.9 170.9,95.9" fill="#f3fa00"/>
<polygon points="182.2,99.3 186,97.3 182.2,94.5 178.4,96.5" fill="#e9fb00"/>
<polygon points="197.2,101.2 201,99.2 197.3,96.3 193.5,98.2" fill="#d0fc00"/>
<polygon points="144.4,97 148.1,94.8 144.4,92.6 140.6,94.7" fill="#fcf100"/>
<polygon points="80.2,103.2 83.9,100.5 80.1,98.9 76.4,101.5" fill="#d3fc00"/>
<polygon points="87.7,102.2 91.4,99.6 87.7,97.9 83.9,100.5" fill="#dffb00"/>
<polygon points="95.2,101.4 99,98.8 95.2,97 91.4,99.6" fill="#e9fb00"/>
<polygon points="102.8,100.7 106.5,98.2 102.7,96.3 99,98.8" fill="#f2fa00"/>
<polygon points="110.3,100.2 114.1,97.7 110.3,95.7 106.5,98.2" fill="#f8fa00"/>
<polygon points="117.9,99.8 121.6,97.3 117.9,95.3 114.1,97.7" fill="#faf800"/>
<polygon points="140.6,99.4 144.4,97 140.6,94.7 136.8,97" fill="#fbf500"/>
<polygon points="148.1,99.5 151.9,97.2 148.1,94.8 144.4,97" fill="#fbf600"/>
<polygon points="155.7,99.8 159.5,97.5 155.7,95 151.9,97.2" fill="#faf900"/>
<polygon points="178.4,101.5 182.2,99.3 178.4,96.5 174.6,98.6" fill="#e7fb00"/>
<polygon points="185.9,102.3 189.7,100.2 186,97.3 182.2,99.3" fill="#dcfc00"/>
<polygon points="193.4,103.2 197.2,101.2 193.5,98.2 189.7,100.2" fill="#cdfc00"/>
<polygon points="125.4,99.5 129.2,97.1 125.4,95 121.6,97.3" fill="#fbf600"/>
<polygon points="133,99.4 136.8,97 133,94.8 129.2,97.1" fill="#fbf500"/>
<polygon points="163.3,100.2 167.1,98 163.3,95.4 159.5,97.5" fill="#f7fa00"/>
<polygon points="170.8,100.8 174.6,98.6 170.9,95.9 167.1,98" fill="#f0fb00"/>
<polygon points="182.1,104.5 185.9,102.3 182.2,99.3 178.4,101.5" fill="#d8fc00"/>
<polygon points="83.9,105 87.7,102.2 83.9,100.5 80.2,103.2" fill="#d3fc00"/>
<polygon points="91.5,104.2 95.2,101.4 91.4,99.6 87.7,102.2" fill="#defb00"/>
<polygon points="99,103.5 102.8,100.7 99,98.8 95.2,101.4" fill="#e7fb00"/>
<polygon points="106.5,102.9 110.3,100.2 106.5,98.2 102.8,100.7" fill="#effb00"/>
<polygon points="114.1,102.4 117.9,99.8 114.1,97.7 110.3,100.2" fill="#f4fa00"/>
<polygon points="121.6,102.1 125.4,99.5 121.6,97.3 117.9,99.8" fill="#f8fa00"/>
<polygon points="136.8,101.9 140.6,99.4 136.8,97 133,99.4" fill="#fafa00"/>
<polygon points="144.3,102 148.1,99.5 144.4,97 140.6,99.4" fill="#f9fa00"/>
<polygon points="151.9,102.2 155.7,99.8 151.9,97.2 148.1,99.5" fill="#f6fa00"/>
<polygon points="159.5,102.6 163.3,100.2 159.5,97.5 155.7,99.8" fill="#f1fa00"/>
<polygon points="174.6,103.7 178.4,101.5 174.6,98.6 170.8,100.8" fill="#e3fb00"/>
<polygon points="189.6,105.5 193.4,103.2 189.7,100.2 185.9,102.3" fill="#c9fc00"/>
<polygon points="129.2,101.9 133,99.4 129.2,97.1 125.4,99.5" fill="#fafa00"/>
<polygon points="167,103.1 170.8,100.8 167.1,98 163.3,100.2" fill="#ebfb00"/>
<polygon points="125.4,104.6 129.2,101.9 125.4,99.5 121.6,102.1" fill="#f1fa00"/>
<polygon points="148.1,104.8 151.9,102.2 148.1,99.5 144.3,102" fill="#effb00"/>
<polygon points="178.3,106.9 182.1,104.5 178.4,101.5 174.6,103.7" fill="#d4fc00"/>
<polygon points="185.8,107.8 189.6,105.5 185.9,102.3 182.1,104.5" fill="#c2fc00"/>
<polygon points="87.7,107.1 91.5,104.2 87.7,102.2 83.9,105" fill="#d1fc00"/>
<polygon points="95.2,106.3 99,103.5 95.2,101.4 91.5,104.2" fill="#dbfc00"/>
<polygon points="102.8,105.7 106.5,102.9 102.8,100.7 99,103.5" fill="#e4fb00"/>
<polygon points="110.3,105.2 114.1,102.4 110.3,100.2 106.5,102.9" fill="#eafb00"/>
<polygon points="117.9,104.8 121.6,102.1 117.9,99.8 114.1,102.4" fill="#eefb00"/>
<polygon points="133,104.5 136.8,101.9 133,99.4 129.2,101.9" fill="#f2fa00"/>
<polygon points="140.5,104.6 144.3,102 140.6,99.4 136.8,101.9" fill="#f2fa00"/>
<polygon points="155.7,105.1 159.5,102.6 155.7,99.8 151.9,102.2" fill="#ebfb00"/>
<polygon points="163.2,105.6 167,103.1 163.3,100.2 159.5,102.6" fill="#e5fb00"/>
<polygon points="170.8,106.2 174.6,103.7 170.8,100.8 167,103.1" fill="#ddfb00"/>
<polygon points="91.5,109.3 95.2,106.3 91.5,104.2 87.7,107.1" fill="#ccfc00"/>
<polygon points="99,108.6 102.8,105.7 99,103.5 95.2,106.3" fill="#d7fc00"/>
<polygon points="106.5,108.1 110.3,105.2 106.5,102.9 102.8,105.7" fill="#defb00"/>
<polygon points="114.1,107.7 117.9,104.8 114.1,102.4 110.3,105.2" fill="#e3fb00"/>
<polygon points="121.6,107.4 125.4,104.6 121.6,102.1 117.9,104.8" fill="#e7fb00"/>
<polygon points="129.2,107.3 133,104.5 129.2,101.9 125.4,104.6" fill="#e9fb00"/>
<polygon points="144.3,107.5 148.1,104.8 144.3,102 140.5,104.6" fill="#e7fb00"/>
<polygon points="151.9,107.7 155.7,105.1 151.9,102.2 148.1,104.8" fill="#e3fb00"/>
<polygon points="167,108.7 170.8,106.2 167,103.1 163.2,105.6" fill="#d7fc00"/>
<polygon points="174.5,109.5 178.3,106.9 174.6,103.7 170.8,106.2" fill="#cbfc00"/>
<polygon points="182,110.3 185.8,107.8 182.1,104.5 178.3,106.9" fill="#b9fc00"/>
<polygon points="136.8,107.3 140.5,104.6 136.8,101.9 133,104.5" fill="#e9fb00"/>
<polygon points="159.4,108.2 163.2,105.6 159.5,102.6 155.7,105.1" fill="#defb00"/>
<polygon points="95.3,111.7 99,108.6 95.2,106.3 91.5,109.3" fill="#c4fc00"/>
<polygon points="102.8,111.1 106.5,108.1 102.8,105.7 99,108.6" fill="#d1fc00"/>
<polygon points="125.4,110.2 129.2,107.3 125.4,104.6 121.6,107.4" fill="#defb00"/>
<polygon points="133,110.2 136.8,107.3 133,104.5 129.2,107.3" fill="#defb00"/>
<polygon points="170.7,112.1 174.5,109.5 170.8,106.2 167,108.7" fill="#bffc00"/>
<polygon points="110.3,110.7 114.1,107.7 110.3,105.2 106.5,108.1" fill="#d7fc00"/>
<polygon points="117.9,110.4 121.6,107.4 117.9,104.8 114.1,107.7" fill="#dbfc00"/>
<polygon points="140.5,110.3 144.3,107.5 140.5,104.6 136.8,107.3" fill="#ddfb00"/>
<polygon points="148.1,110.5 151.9,107.7 148.1,104.8 144.3,107.5" fill="#dafc00"/>
<polygon points="155.6,110.9 159.4,108.2 155.7,105.1 151.9,107.7" fill="#d6fc00"/>
<polygon points="163.2,111.4 167,108.7 163.2,105.6 159.4,108.2" fill="#cdfc00"/>
<polygon points="178.2,112.9 182,110.3 178.3,106.9 174.5,109.5" fill="#aefc00"/>
<polygon points="99,114.3 102.8,111.1 99,108.6 95.3,111.7" fill="#b9fc00"/>
<polygon points="106.6,113.8 110.3,110.7 106.5,108.1 102.8,111.1" fill="#c4fc00"/>
<polygon points="114.1,113.5 117.9,110.4 114.1,107.7 110.3,110.7" fill="#cdfc00"/>
<polygon points="121.7,113.3 125.4,110.2 121.6,107.4 117.9,110.4" fill="#d2fc00"/>
<polygon points="129.2,113.2 133,110.2 129.2,107.3 125.4,110.2" fill="#d3fc00"/>
<polygon points="136.7,113.2 140.5,110.3 136.8,107.3 133,110.2" fill="#d2fc00"/>
<polygon points="151.8,113.8 155.6,110.9 151.9,107.7 148.1,110.5" fill="#c8fc00"/>
<polygon points="159.4,114.3 163.2,111.4 159.4,108.2 155.6,110.9" fill="#befc00"/>
<polygon points="166.9,114.9 170.7,112.1 167,108.7 163.2,111.4" fill="#b1fc00"/>
<polygon points="174.4,115.7 178.2,112.9 174.5,109.5 170.7,112.1" fill="#a1fc00"/>
<polygon points="144.3,113.4 148.1,110.5 144.3,107.5 140.5,110.3" fill="#cffc00"/>
<polygon points="163.1,117.9 166.9,114.9 163.2,111.4 159.4,114.3" fill="#a1fc00"/>
<polygon points="102.8,117.1 106.6,113.8 102.8,111.1 99,114.3" fill="#abfc00"/>
<polygon points="110.4,116.7 114.1,113.5 110.3,110.7 106.6,113.8" fill="#b4fc00"/>
<polygon points="117.9,116.5 121.7,113.3 117.9,110.4 114.1,113.5" fill="#bbfc00"/>
<polygon points="133,116.3 136.7,113.2 133,110.2 129.2,113.2" fill="#befc00"/>
<polygon points="140.5,116.5 144.3,113.4 140.5,110.3 136.7,113.2" fill="#bbfc00"/>
<polygon points="148.1,116.8 151.8,113.8 148.1,110.5 144.3,113.4" fill="#b5fc00"/>
<polygon points="155.6,117.3 159.4,114.3 155.6,110.9 151.8,113.8" fill="#acfc00"/>
<polygon points="170.6,118.6 174.4,115.7 170.7,112.1 166.9,114.9" fill="#92fc00"/>
<polygon points="125.4,116.3 129.2,113.2 125.4,110.2 121.7,113.3" fill="#befc00"/>
<polygon points="144.3,120 148.1,116.8 144.3,113.4 140.5,116.5" fill="#a1fc00"/>
<polygon points="166.9,121.6 170.6,118.6 166.9,114.9 163.1,117.9" fill="#7dfc00"/>
<polygon points="106.6,120.1 110.4,116.7 106.6,113.8 102.8,117.1" fill="#9afc00"/>
<polygon points="114.1,119.8 117.9,116.5 114.1,113.5 110.4,116.7" fill="#a2fc00"/>
<polygon points="121.7,119.6 125.4,116.3 121.7,113.3 117.9,116.5" fill="#a6fc00"/>
<polygon points="136.7,119.7 140.5,116.5 136.7,113.2 133,116.3" fill="#a6fc00"/>
<polygon points="159.3,120.9 163.1,117.9 159.4,114.3 155.6,117.3" fill="#8efc00"/>
<polygon points="129.2,119.6 133,116.3 129.2,113.2 125.4,116.3" fill="#a7fc00"/>
<polygon points="151.8,120.4 155.6,117.3 151.8,113.8 148.1,116.8" fill="#99fc00"/>
<polygon points="110.4,123.3 114.1,119.8 110.4,116.7 106.6,120.1" fill="#87fc00"/>
<polygon points="117.9,123.1 121.7,119.6 117.9,116.5 114.1,119.8" fill="#8cfc00"/>
<polygon points="125.4,123 129.2,119.6 125.4,116.3 121.7,119.6" fill="#8ffc00"/>
<polygon points="133,123.1 136.7,119.7 133,116.3 129.2,119.6" fill="#8efc00"/>
<polygon points="140.5,123.3 144.3,120 140.5,116.5 136.7,119.7" fill="#8afc00"/>
<polygon points="148,123.7 151.8,120.4 148.1,116.8 144.3,120" fill="#82fc00"/>
<polygon points="163.1,124.8 166.9,121.6 163.1,117.9 159.3,120.9" fill="#5efc00"/>
<polygon points="155.5,124.2 159.3,120.9 155.6,117.3 151.8,120.4" fill="#72fc00"/>
<polygon points="144.2,127.1 148,123.7 144.3,120 140.5,123.3" fill="#5dfc00"/>
<polygon points="151.8,127.5 155.5,124.2 151.8,120.4 148,123.7" fill="#4ffc00"/>
<polygon points="114.2,126.7 117.9,123.1 114.1,119.8 110.4,123.3" fill="#63fc00"/>
<polygon points="121.7,126.5 125.4,123 121.7,119.6 117.9,123.1" fill="#69fc00"/>
<polygon points="129.2,126.6 133,123.1 129.2,119.6 125.4,123" fill="#6afc00"/>
<polygon points="136.7,126.8 140.5,123.3 136.7,119.7 133,123.1" fill="#66fc00"/>
<polygon points="159.3,128.2 163.1,124.8 159.3,120.9 155.5,124.2" fill="#3dfc00"/>
<polygon points="125.4,130.2 129.2,126.6 125.4,123 121.7,126.5" fill="#3efc00"/>
<polygon points="133,130.4 136.7,126.8 133,123.1 129.2,126.6" fill="#3cfc00"/>
<polygon points="155.5,131.6 159.3,128.2 155.5,124.2 151.8,127.5" fill="#1ffc02"/>
<polygon points="117.9,130.2 121.7,126.5 117.9,123.1 114.2,126.7" fill="#3cfc00"/>
<polygon points="140.5,130.6 144.2,127.1 140.5,123.3 136.7,126.8" fill="#35fc00"/>
<polygon points="148,131.1 151.8,127.5 148,123.7 144.2,127.1" fill="#29fc00"/>
<polygon points="121.7,134 125.4,130.2 121.7,126.5 117.9,130.2" fill="#1bfc05"/>
<polygon points="129.2,134.1 133,130.4 129.2,126.6 125.4,130.2" fill="#1bfc05"/>
<polygon points="136.7,134.4 140.5,130.6 136.7,126.8 133,130.4" fill="#19fc06"/>
<polygon points="144.2,134.7 148,131.1 144.2,127.1 140.5,130.6" fill="#15fc08"/>
<polygon points="151.7,135.3 155.5,131.6 151.8,127.5 148,131.1" fill="#0ffc0c"/>
<polygon points="125.5,138 129.2,134.1 125.4,130.2 121.7,134" fill="#07fc10"/>
<polygon points="133,138.2 136.7,134.4 133,130.4 129.2,134.1" fill="#06fc11"/>
<polygon points="140.5,138.6 144.2,134.7 140.5,130.6 136.7,134.4" fill="#03fc13"/>
<polygon points="148,139 151.7,135.3 148,131.1 144.2,134.7" fill="#00fc15"/>
<polygon points="129.2,142.2 133,138.2 129.2,134.1 125.5,138" fill="#00fc19"/>
<polygon points="136.7,142.5 140.5,138.6 136.7,134.4 133,138.2" fill="#00fc1a"/>
<polygon points="144.2,143 148,139 144.2,134.7 140.5,138.6" fill="#00fc1b"/>
<polygon points="133,146.7 136.7,142.5 133,138.2 129.2,142.2" fill="#00fc21"/>
<polygon points="140.4,147.1 144.2,143 140.5,138.6 136.7,142.5" fill="#00fc22"/>
<polygon points="136.7,151.3 140.4,147.1 136.7,142.5 133,146.7" fill="#00fb2c"/>
</g>
<circle cx="63.6" cy="155.6" r="0.95" fill="#000"/>
<circle cx="63" cy="139.1" r="0.95" fill="#000"/>
<circle cx="62.4" cy="122.6" r="0.95" fill="#000"/>
<circle cx="61.8" cy="106.1" r="0.95" fill="#000"/>
<circle cx="61.2" cy="89.6" r="0.95" fill="#000"/>
<circle cx="60.6" cy="73.1" r="0.95" fill="#000"/>
<circle cx="60" cy="56.7" r="0.95" fill="#000"/>
<circle cx="136.8" cy="233" r="0.95" fill="#000"/>
<circle cx="122.4" cy="223.8" r="0.95" fill="#000"/>
<circle cx="108" cy="214.5" r="0.95" fill="#000"/>
<circle cx="93.6" cy="205.3" r="0.95" fill="#000"/>
<circle cx="79.2" cy="196" r="0.95" fill="#000"/>
<circle cx="64.7" cy="186.8" r="0.95" fill="#000"/>
<circle cx="136.8" cy="233" r="0.95" fill="#000"/>
<circle cx="148.7" cy="225.3" r="0.95" fill="#000"/>
<circle cx="160.7" cy="217.7" r="0.95" fill="#000"/>
<circle cx="172.6" cy="210" r="0.95" fill="#000"/>
<circle cx="184.6" cy="202.4" r="0.95" fill="#000"/>
<circle cx="196.5" cy="194.7" r="0.95" fill="#000"/>
<circle cx="208.5" cy="187.1" r="0.95" fill="#000"/>
<text x="57.3" y="153.4" font-family="Liberation Sans, Arial, sans-serif" font-size="8.6" fill="#2a2a2a" text-anchor="middle" textLength="6.1" lengthAdjust="spacingAndGlyphs">84</text>
<text x="56.7" y="136.9" font-family="Liberation Sans, Arial, sans-serif" font-size="8.6" fill="#2a2a2a" text-anchor="middle" textLength="6.1" lengthAdjust="spacingAndGlyphs">86</text>
<text x="56.1" y="120.4" font-family="Liberation Sans, Arial, sans-serif" font-size="8.6" fill="#2a2a2a" text-anchor="middle" textLength="6.1" lengthAdjust="spacingAndGlyphs">88</text>
<text x="55.5" y="103.9" font-family="Liberation Sans, Arial, sans-serif" font-size="8.6" fill="#2a2a2a" text-anchor="middle" textLength="6.1" lengthAdjust="spacingAndGlyphs">90</text>
<text x="54.9" y="87.4" font-family="Liberation Sans, Arial, sans-serif" font-size="8.6" fill="#2a2a2a" text-anchor="middle" textLength="6.1" lengthAdjust="spacingAndGlyphs">92</text>
<text x="54.3" y="70.9" font-family="Liberation Sans, Arial, sans-serif" font-size="8.6" fill="#2a2a2a" text-anchor="middle" textLength="6.1" lengthAdjust="spacingAndGlyphs">94</text>
<text x="53.7" y="54.4" font-family="Liberation Sans, Arial, sans-serif" font-size="8.6" fill="#2a2a2a" text-anchor="middle" textLength="6.1" lengthAdjust="spacingAndGlyphs">96</text>
<text x="131.2" y="241.3" font-family="Liberation Sans, Arial, sans-serif" font-size="8.6" fill="#2a2a2a" text-anchor="middle" textLength="6.3" lengthAdjust="spacingAndGlyphs">10</text>
<text x="116.8" y="232" font-family="Liberation Sans, Arial, sans-serif" font-size="8.6" fill="#2a2a2a" text-anchor="middle" textLength="6.3" lengthAdjust="spacingAndGlyphs">20</text>
<text x="102.4" y="222.8" font-family="Liberation Sans, Arial, sans-serif" font-size="8.6" fill="#2a2a2a" text-anchor="middle" textLength="6.3" lengthAdjust="spacingAndGlyphs">30</text>
<text x="88" y="213.5" font-family="Liberation Sans, Arial, sans-serif" font-size="8.6" fill="#2a2a2a" text-anchor="middle" textLength="6.3" lengthAdjust="spacingAndGlyphs">40</text>
<text x="73.6" y="204.3" font-family="Liberation Sans, Arial, sans-serif" font-size="8.6" fill="#2a2a2a" text-anchor="middle" textLength="6.3" lengthAdjust="spacingAndGlyphs">50</text>
<text x="59.1" y="195" font-family="Liberation Sans, Arial, sans-serif" font-size="8.6" fill="#2a2a2a" text-anchor="middle" textLength="6.3" lengthAdjust="spacingAndGlyphs">60</text>
<text x="142.3" y="241.3" font-family="Liberation Sans, Arial, sans-serif" font-size="8.6" fill="#2a2a2a" text-anchor="middle" textLength="3.2" lengthAdjust="spacingAndGlyphs">6</text>
<text x="154.2" y="233.6" font-family="Liberation Sans, Arial, sans-serif" font-size="8.6" fill="#2a2a2a" text-anchor="middle" textLength="3.2" lengthAdjust="spacingAndGlyphs">9</text>
<text x="167.1" y="225.9" font-family="Liberation Sans, Arial, sans-serif" font-size="8.6" fill="#2a2a2a" text-anchor="middle" textLength="5.9" lengthAdjust="spacingAndGlyphs">12</text>
<text x="179" y="218.3" font-family="Liberation Sans, Arial, sans-serif" font-size="8.6" fill="#2a2a2a" text-anchor="middle" textLength="5.9" lengthAdjust="spacingAndGlyphs">15</text>
<text x="191" y="210.6" font-family="Liberation Sans, Arial, sans-serif" font-size="8.6" fill="#2a2a2a" text-anchor="middle" textLength="5.9" lengthAdjust="spacingAndGlyphs">18</text>
<text x="202.9" y="203" font-family="Liberation Sans, Arial, sans-serif" font-size="8.6" fill="#2a2a2a" text-anchor="middle" textLength="5.9" lengthAdjust="spacingAndGlyphs">21</text>
<text x="214.9" y="195.3" font-family="Liberation Sans, Arial, sans-serif" font-size="8.6" fill="#2a2a2a" text-anchor="middle" textLength="5.9" lengthAdjust="spacingAndGlyphs">24</text>
<text x="73" y="231.1" font-family="Liberation Sans, Arial, sans-serif" font-size="8.2" fill="#2a2a2a" text-anchor="middle" textLength="33.6" lengthAdjust="spacingAndGlyphs">B: Time (min)</text>
<text x="200.6" y="230.8" font-family="Liberation Sans, Arial, sans-serif" font-size="8.2" fill="#2a2a2a" text-anchor="middle" textLength="44" lengthAdjust="spacingAndGlyphs">A: Voltage (Volts)</text>
<text x="0" y="2.6" font-family="Liberation Sans, Arial, sans-serif" font-size="7.2" fill="#2a2a2a" text-anchor="middle" textLength="84" lengthAdjust="spacing" transform="translate(37.9 123.4) rotate(-90)">% Removal(turbidity) (%)</text>
<rect x="358.3" y="29.5" width="167.7" height="190" fill="#00fd00"/>
<path d="M359.7,219.5 526,219.5 526,29.5 358.3,29.5 358.3,219.5 359.7,219.5Z" fill="#00fd00"/>
<path d="M359.7,219.5 526,219.5 526,29.5 358.3,29.5 358.3,219.2 359.7,219.5Z" fill="#00fd00"/>
<path d="M359.7,218.8 360.4,219.5 526,219.5 526,29.5 358.3,29.5 358.3,217.5 359.7,218.8Z" fill="#00fd00"/>
<path d="M361.1,218.4 362.3,219.5 526,219.5 526,29.5 358.3,29.5 358.3,215.7 361.1,218.4Z" fill="#00fd00"/>
<path d="M363.9,219.2 364.2,219.5 526,219.5 526,29.5 358.3,29.5 358.3,213.9 363.9,219.2Z" fill="#00fd00"/>
<path d="M365.3,218.7 366.2,219.5 526,219.5 526,29.5 358.3,29.5 358.3,212 365.3,218.7Z" fill="#00fd00"/>
<path d="M366.8,218.2 368.1,219.5 526,219.5 526,29.5 358.3,29.5 358.3,210.1 366.8,218.2Z" fill="#00fd00"/>
<path d="M369.6,219 370.1,219.5 526,219.5 526,29.5 358.3,29.5 358.3,208.3 369.6,219Z" fill="#00fd00"/>
<path d="M371,218.4 372.2,219.5 526,219.5 526,29.5 358.3,29.5 358.3,206.3 371,218.4Z" fill="#00fd00"/>
<path d="M373.8,219.1 374.2,219.5 526,219.5 526,29.5 358.3,29.5 358.3,204.4 373.8,219.1Z" fill="#00fe00"/>
<path d="M375.2,218.5 376.3,219.5 526,219.5 526,29.5 358.3,29.5 358.3,202.4 375.2,218.5Z" fill="#00fe00"/>
<path d="M376.6,217.9 378.4,219.5 526,219.5 526,29.5 358.3,29.5 358.3,200.4 367.9,209.9 376.6,217.9Z" fill="#00fe00"/>
<path d="M379.4,218.5 380.6,219.5 526,219.5 526,29.5 358.3,29.5 358.3,198.3 368.2,208.3 379.4,218.5Z" fill="#00fe00"/>
<path d="M382.3,219 382.8,219.5 526,219.5 526,29.5 358.3,29.5 358.3,196.3 370.3,208.3 382.3,219Z" fill="#00fe00"/>
<path d="M383.7,218.4 385,219.5 526,219.5 526,29.5 358.3,29.5 358.3,194.1 370.7,206.7 383.7,218.4Z" fill="#00fe00"/>
<path d="M386.5,218.8 387.3,219.5 526,219.5 526,29.5 358.3,29.5 358.3,192 372.4,206.3 386.5,218.8Z" fill="#00fe00"/>
<path d="M387.9,218.1 389.6,219.5 526,219.5 526,29.5 358.3,29.5 358.3,189.8 372.4,204.3 387.9,218.1Z" fill="#00fe00"/>
<path d="M390.7,218.5 392,219.5 526,219.5 526,29.5 358.3,29.5 358.3,187.6 373.8,203.5 390.7,218.5Z" fill="#00fe00"/>
<path d="M393.5,218.8 394.4,219.5 526,219.5 526,29.5 358.3,29.5 358.3,185.3 366.3,194 375.2,202.8 384.8,211.5 393.5,218.8Z" fill="#00fe00"/>
<path d="M394.9,218 396.9,219.5 526,219.5 526,29.5 358.3,29.5 358.3,182.9 366.9,192.4 376.5,201.9 385.3,209.9 394.9,218Z" fill="#00fe00"/>
<path d="M397.8,218.2 399.4,219.5 526,219.5 526,29.5 358.3,29.5 358.3,180.5 367.5,190.8 377.1,200.3 387.6,209.9 397.8,218.2Z" fill="#00fe00"/>
<path d="M400.6,218.4 402,219.5 526,219.5 526,29.5 358.3,29.5 358.3,178.1 368.2,189.2 378,199.1 389.3,209.3 400.6,218.4Z" fill="#00ff00"/>
<path d="M403.4,218.5 404.7,219.5 526,219.5 526,29.5 358.3,29.5 358.3,175.6 368.9,187.6 379.4,198.2 390.7,208.4 403.4,218.5Z" fill="#00ff00"/>
<path d="M406.2,218.6 407.4,219.5 526,219.5 526,29.5 358.3,29.5 358.3,173 369.6,186 380.6,197.1 393.1,208.3 406.2,218.6Z" fill="#00ff00"/>
<path d="M409,218.6 410.2,219.5 526,219.5 526,29.5 358.3,29.5 358.3,170.4 369.6,183.5 382.3,196.4 395.7,208.3 409,218.6Z" fill="#00ff00"/>
<path d="M411.9,218.6 413.1,219.5 526,219.5 526,29.5 358.3,29.5 358.3,167.6 371,182.6 383.7,195.5 397.8,207.9 411.9,218.6Z" fill="#00ff00"/>
<path d="M414.7,218.5 416.1,219.5 526,219.5 526,29.5 358.3,29.5 358.3,164.8 370.5,179.6 384.5,194 399.2,206.9 414.7,218.5Z" fill="#00ff00"/>
<path d="M417.5,218.3 419.2,219.5 526,219.5 526,29.5 358.3,29.5 358.3,161.9 371.4,178 385.3,192.4 400.6,205.8 417.5,218.3Z" fill="#04ff00"/>
<path d="M420.3,218.1 422.4,219.5 526,219.5 526,29.5 358.3,29.5 358.3,158.9 371,174.9 378.2,182.8 386.5,191.1 402.5,205.1 410.8,211.5 420.3,218.1Z" fill="#0aff00"/>
<path d="M424.5,218.7 425.8,219.5 526,219.5 526,31.3 523.8,29.5 358.3,29.5 358.3,155.8 365.3,165.2 372.4,173.8 380.6,182.8 388.7,190.8 397.6,198.7 406.2,205.8 416.1,213.1 424.5,218.7Z" fill="#0fff00"/>
<path d="M427.4,218.3 429.2,219.5 526,219.5 526,33.6 520.9,29.5 358.3,29.5 358.3,152.6 365.1,162 372.9,171.6 380.8,180.4 389.3,188.9 398.4,197.1 407.6,204.6 417.5,211.9 427.4,218.3Z" fill="#15ff00"/>
<path d="M431.6,218.7 432.9,219.5 526,219.5 526,36 517.9,29.5 358.3,29.5 358.3,149.2 365.3,159.2 373.8,169.8 382.3,179.2 390.7,187.7 400.6,196.6 410.4,204.5 420.3,211.6 431.6,218.7Z" fill="#1bff00"/>
<path d="M434.4,218.2 436.7,219.5 526,219.5 526,38.4 514.8,29.5 358.3,29.5 358.3,145.6 365.3,156 373.7,166.8 382.3,176.5 391.6,186 402,195.3 412.3,203.5 423.1,211.2 434.4,218.2Z" fill="#27ff00"/>
<path d="M438.6,218.3 440.8,219.5 526,219.5 526,40.9 511.6,29.5 358.3,29.5 358.3,141.9 365.3,152.6 373.8,163.8 383.3,174.8 393.5,185.2 404.8,195.2 415.5,203.5 427.1,211.5 438.6,218.3Z" fill="#3aff00"/>
<path d="M442.9,218.3 445.1,219.5 526,219.5 526,43.5 517.5,36.4 508.3,29.5 358.3,29.5 358.3,137.9 366.5,150.8 374.8,162 384.4,173.2 394.9,183.9 406.3,194 418.8,203.5 430.9,211.5 442.9,218.3Z" fill="#4dff00"/>
<path d="M447.1,218.2 449.8,219.5 526,219.5 526,46.1 515.7,37.5 504.8,29.5 358.3,29.5 358.3,133.6 365.8,146.1 374.9,158.8 385.1,171 396.3,182.5 407.6,192.5 420.3,202.2 433,210.5 447.1,218.2Z" fill="#60ff00"/>
<path d="M452.7,218.5 454.9,219.5 526,219.5 526,48.8 514.5,39.1 501.2,29.5 358.3,29.5 358.3,129 366.2,142.9 375.2,155.9 385.5,168.4 397.9,181.2 410.4,192.2 423.5,201.9 438.6,211.4 452.7,218.5Z" fill="#73ff00"/>
<path d="M456.9,218 460.6,219.5 526,219.5 526,51.6 511.9,39.7 497.3,29.5 359,29.5 358.3,30.5 358.3,123.9 361.4,130.1 369.6,144.1 378.9,157.2 389.7,170 402,182.2 414.7,192.9 428.8,202.9 442.9,211.2 456.9,218Z" fill="#85ff00"/>
<path d="M464,218.4 467.1,219.5 526,219.5 526,54.5 517.7,47.1 510.5,41.3 502,35.2 493.3,29.5 363.1,29.5 358.3,36.2 358.3,118.2 363.9,130.1 372.4,144.5 382.3,158 393.5,171 406.2,183.2 419.5,194 433.7,203.5 448.5,211.7 464,218.4Z" fill="#94ff00"/>
<path d="M471,218.3 475,219.5 526,219.5 526,57.4 517.5,49.8 508.2,42.3 499.2,35.9 488.9,29.5 367.4,29.5 362.4,35.9 358.3,42.8 358.3,111.6 362.6,122.1 367.4,131.7 376.2,146.1 387,160.4 398.7,173.2 411.9,185.2 425.9,195.9 440.8,205.1 455.5,212.5 471,218.3Z" fill="#a2ff00"/>
<path d="M479.5,218.1 485.7,219.5 526,219.4 526,60.5 516.6,51.9 506.3,43.6 495.1,35.9 484.3,29.5 372.1,29.5 367.7,34.3 364.2,39.1 361.1,44.5 358.3,51.1 358.3,103.3 360.7,110.9 363.9,118.9 371,133.3 380.1,147.7 391.3,162 403.5,174.8 417.5,186.9 433,197.8 448.5,206.6 464,213.3 479.5,218.1Z" fill="#b1ff00"/>
<path d="M493.6,218 502,218.7 510.5,218.6 519,217.7 526,216.2 526,63.7 515,53.4 503.5,44.3 490.8,35.9 479.2,29.5 377.2,29.5 370.8,35.9 365.3,43.9 360.9,53.4 358.3,63.7 358.3,90.7 360.1,99.8 362.9,109.3 366.6,118.9 371.1,128.5 376.6,138.1 386.5,152.5 393,160.4 399.2,167.2 406.2,174.2 413.3,180.5 420.3,186.2 428.8,192.3 444.6,201.9 452.7,206 461.2,209.6 476.7,214.8 485.1,216.7 493.6,218Z" fill="#bfff00"/>
<path d="M490.8,214.9 500.6,215.7 509.1,215.7 517.5,214.8 526,212.9 526,67.1 513.3,55.1 501,45.5 488,37 473.5,29.5 382.8,29.5 378,33.5 373.8,37.9 369.6,43.6 366.7,48.7 364,55 362.1,61.4 360.9,67.8 360.3,74.2 360.3,80.6 360.9,88.6 362.3,96.6 364.2,104.5 369.6,119.3 373.2,126.9 377.5,134.9 387.1,149.2 393.4,157.2 399.2,163.8 412.1,176.4 419.7,182.8 427.4,188.5 442.9,198.2 458.4,205.8 466.8,209 474.7,211.5 482.3,213.4 490.8,214.9Z" fill="#cdff00"/>
<path d="M488,211.6 497.8,212.6 507.7,212.6 517.5,211.5 526,209.4 526,70.6 513.2,58.2 499,47.1 483.7,37.4 475.3,33.1 467.1,29.5 389.3,29.5 384.6,32.7 379.4,37.1 375.2,41.9 371.7,47.1 369.1,51.9 366.6,58.2 364.9,64.6 363.8,71 363.4,77.4 363.6,85.4 364.4,91.8 365.9,99.8 368.1,107.7 371,115.7 377.8,130.1 386.7,144.5 397.9,158.8 410.4,171.7 417.6,178 425.8,184.4 440.4,194 455.9,201.9 464,205.2 472.4,208.1 479.5,209.9 488,211.6Z" fill="#d6ff00"/>
<path d="M486.5,208.4 497.8,209.6 507.7,209.4 517.5,208.1 526,205.7 526,74.3 519,66.9 511.3,59.8 503.5,53.4 495,47.3 486.5,42 478.1,37.4 468.2,32.8 459.8,29.7 397.1,29.5 394.9,30.5 389.3,33.9 384.6,37.5 379.8,42.3 376.6,46.3 373.8,50.8 371,56.7 368.9,63 367.5,69.4 366.8,75.8 366.7,82.2 367.1,88.6 368.3,96.6 370.2,104.5 372.4,111.5 375.3,118.9 379.1,126.9 383.5,134.9 387.9,141.7 393.3,149.2 399.2,156.4 411.9,169.6 425.7,181.2 440,190.8 448.5,195.5 455.5,198.9 462.9,201.9 471,204.8 478.2,206.7 486.5,208.4Z" fill="#deff00"/>
<path d="M486.5,205.3 497.8,206.4 507.7,206.1 517.5,204.5 526,201.7 526,78.2 519,70.6 511,63 503.4,56.6 495,50.5 486.5,45.1 478.1,40.4 468.4,35.9 459.8,32.6 448.8,29.5 407.6,29.5 402,31.4 396.3,34 390.8,37.5 386.8,40.7 382.3,45.4 379.4,49 376.6,53.6 373.8,59.8 372.2,64.6 370.8,71 370.2,77.4 370.1,83.8 370.5,90.2 371.8,98.2 373.8,106.1 375.9,112.5 379.1,120.5 382.3,127 390.8,141.3 396.3,148.9 401.9,155.6 414.4,168.4 427.4,179.2 434.7,184.4 442.5,189.2 456.9,196.5 471.6,201.9 479.5,204 486.5,205.3Z" fill="#e7ff00"/>
<path d="M485.1,202 496.4,203 507.7,202.6 517.5,200.7 526,197.5 526,82.4 519,74.4 512.3,67.8 504.9,61.3 496.8,55 488,49.1 479.5,44.2 471,40.1 462.6,36.7 454.1,34 445.7,32 437.2,30.7 428.8,30.3 420.3,30.7 413.3,31.9 406.2,33.9 399.2,37 393.5,40.4 389.3,43.9 386.1,47.1 382.4,51.9 379.5,56.6 377.3,61.4 375.7,66.2 374.3,72.6 373.6,79 373.6,85.4 374.1,91.8 375.1,98.2 376.6,104.7 379.1,112.5 382.3,120.3 385.5,126.9 389.3,133.8 394.2,141.3 404.1,154 414.8,165.2 428.1,176.4 441.4,185.4 455.5,192.8 462.6,195.8 471,198.7 485.1,202Z" fill="#f0ff00"/>
<path d="M486.5,198.8 497.8,199.6 507.7,198.9 517.5,196.6 526,193 526,86.9 519.4,79 513.3,72.6 506.3,66.1 497.8,59.2 489.5,53.4 481.6,48.7 472.4,44 464,40.4 455.5,37.6 447.1,35.5 438.6,34.2 430.2,33.7 421.7,34.2 414.7,35.4 407.7,37.5 402,40.1 397.8,42.5 393.5,45.7 389.3,49.8 386.4,53.4 383.3,58.2 381.1,63 379.4,67.8 378,74.2 377.3,80.6 377.2,87 377.7,93.4 378.8,99.8 382.4,112.5 385.1,119.1 388.8,126.9 396.6,139.7 406.4,152.4 417.5,163.9 430.6,174.8 444.3,183.8 458.4,190.8 472.4,195.9 479.5,197.6 486.5,198.8Z" fill="#f8ff00"/>
<path d="M489.4,195.7 499.2,195.9 509.1,194.7 517.5,192.3 526,188.1 526,91.8 519.7,83.8 513.3,76.8 505.7,69.4 498,63 490.8,57.8 482.3,52.5 473.9,48 465.4,44.3 456.9,41.4 448.5,39.2 440,37.9 431.6,37.4 423.1,37.9 416.1,39.1 409,41.4 403.4,44.1 398.8,47.1 395,50.3 391.9,53.4 388.4,58.2 385.7,63 383.8,67.8 382.3,73.3 381.3,79 381,85.4 381.2,91.8 382.1,98.2 383.5,104.5 387.8,117.3 394.1,130.1 402.5,142.9 411.9,154.1 423.3,165.2 435.8,174.9 448.6,182.8 462.6,189.2 469.6,191.7 476.7,193.6 489.4,195.7Z" fill="#fbfc00"/>
<path d="M480.9,190.9 488,191.9 493.6,192.2 500.6,191.9 506.3,191.1 511.9,189.7 517.5,187.6 521.8,185.4 526,182.6 526,97.4 520.4,89.5 514.2,82.2 507.7,75.4 500.6,69.1 492.9,63 485.1,57.8 476.7,53 468.2,49 459.8,45.8 451.3,43.4 442.9,41.9 435.8,41.2 427.4,41.4 420.3,42.4 413.3,44.4 407.6,46.9 400.1,51.9 396.7,55 393.5,58.8 390.8,63 388.5,67.8 386.9,72.6 385.8,77.4 385.1,82.2 384.9,88.6 386.1,99.8 387.6,106.1 389.6,112.5 394.9,124.8 401.8,136.5 410.4,147.9 420.8,158.8 431.6,168.1 443.7,176.4 455.5,182.7 468.2,187.7 480.9,190.9Z" fill="#fdf700"/>
<path d="M485.1,187.7 492.2,188.1 497.8,188 503.5,187.2 508.8,186 513.3,184.4 517.5,182.4 522,179.6 526,176.3 526,103.7 521.5,96.6 515.4,88.6 509.1,81.4 501.7,74.2 494,67.8 486.5,62.6 478.1,57.5 469.6,53.3 461.2,50 452.7,47.5 444.3,45.9 437.2,45.2 428.8,45.5 421.7,46.6 414.9,48.7 409,51.5 402,56.6 398.9,59.8 395.4,64.6 391.7,72.6 390.3,77.4 389.5,82.2 389.1,87 389.3,93.4 391.1,104.5 394.7,115.7 400.6,128.1 407.6,139 416.1,149.5 425.9,159.2 437.5,168.4 449.9,176.1 461.2,181.5 473.9,185.6 485.1,187.7Z" fill="#fef300"/>
<path d="M479.5,182.9 486.5,183.7 493.6,183.8 500.6,183.1 506.3,181.8 512.2,179.6 517.5,176.5 521.8,173.2 526,168.5 526,111.4 525,109.3 520.4,101.3 516,95 510.5,88 503.5,80.6 496.5,74.2 489.4,68.6 480.9,63.1 473.9,59.2 465.4,55.4 456.9,52.5 448.5,50.6 441.4,49.7 434.4,49.5 427.4,50.1 420.3,51.8 414.7,54.1 410.2,56.6 406.2,59.7 402.9,63 400.6,66.1 398.5,69.4 396.3,74.2 394.2,82.2 393.6,91.8 394.9,102.9 397.8,113 402.4,123.7 409,134.9 416.3,144.5 425.3,154 434.6,162 445.7,169.7 456.9,175.7 468.2,180.1 479.5,182.9Z" fill="#ffee00"/>
<path d="M476.7,178.1 483.7,179.1 490.8,179.3 497.8,178.7 503.5,177.4 509.1,175.2 514.7,171.9 519,168.3 522.8,163.6 526,157.8 526,122.2 521.4,110.9 517.5,104 512.6,96.6 507.5,90.2 501.6,83.8 495,77.7 488.6,72.6 481.6,67.8 473.9,63.4 466,59.8 458.4,57.2 451.3,55.4 444.3,54.3 437.2,54 430.2,54.6 424.5,55.8 418.1,58.2 411.9,62.1 408.9,64.6 406.1,67.8 403.4,71.8 401.4,75.8 399,83.8 398.3,91.8 399.2,101.9 401.9,112.5 405.9,122.1 411.4,131.7 418.4,141.3 427.2,150.8 435.8,158.4 445.4,165.2 455.5,170.8 465.4,175 476.7,178.1Z" fill="#ffe900"/>
<path d="M475.3,173.2 482.3,174.2 488,174.5 495,173.9 500.6,172.6 506.3,170.3 510.5,167.8 514.7,164.2 517.9,160.4 520.7,155.6 522.5,150.8 523.8,144.5 524.1,138.1 523.5,131.7 522.2,125.3 520.2,118.9 517.5,112.5 514.1,106.1 509.9,99.8 505.1,93.4 499.3,87 492.4,80.6 486.5,75.9 479.5,71.2 473.9,68 466.8,64.7 459.8,62.1 452.7,60.2 445.7,59.2 438.6,58.9 433,59.4 427.4,60.6 421.7,62.8 416.1,66.2 413.3,68.7 410.4,71.8 407,77.4 404.3,85.4 403.4,93.4 404.2,102.9 406.7,112.5 410.4,121.6 416.1,131.4 422.2,139.7 429.5,147.7 438.6,155.6 447.8,162 456.9,167 465.4,170.5 475.3,173.2Z" fill="#ffe400"/>
<path d="M476.7,168.4 482.3,169 488,169 493.6,168.3 499.2,166.7 503.5,164.8 507.7,161.9 510.9,158.8 514.3,154 516.5,149.2 517.8,144.5 518.4,139.7 518.4,134.9 517.9,130.1 516.6,123.7 514.4,117.3 511.5,110.9 507.8,104.5 504.5,99.8 499.4,93.4 494.8,88.6 489.4,83.6 483.4,79 476.7,74.6 471,71.6 465.4,69 458.4,66.6 451.3,65 445.7,64.3 440,64.3 434.4,64.9 429.4,66.2 424.5,68.3 418.9,72.2 414.3,77.4 411.1,83.8 409.4,90.2 409,98.2 410.1,106.1 412.4,114.1 416.1,122.6 420.5,130.1 426.5,138.1 434,146.1 441.5,152.4 449.9,158.2 458.4,162.7 468.2,166.4 476.7,168.4Z" fill="#ffdf00"/>
<path d="M473.9,162.3 479.5,163 483.7,163.1 489.4,162.6 493.6,161.6 497.8,159.9 502,157.3 505.5,154 508,150.8 509.7,147.7 511.3,142.9 512.1,138.1 512.2,133.3 511.8,128.5 510.8,123.7 509.1,118.4 506.5,112.5 503.5,106.9 499.7,101.3 491.3,91.8 481.9,83.8 476.7,80.3 471,77.1 465.4,74.5 459.8,72.5 454.1,71.1 448.5,70.4 442.9,70.2 438.6,70.7 434.4,71.6 430.2,73.2 424.5,76.8 420.9,80.6 418,85.4 415.9,91.8 415.2,98.2 415.9,106.1 417.6,112.5 420.8,120.5 424.5,127.2 430.1,134.9 435.9,141.3 443.1,147.7 449.9,152.5 458.4,157.2 466.5,160.4 473.9,162.3Z" fill="#ffda00"/>
<path d="M473.9,155.8 482.3,156.2 486.5,155.6 490.8,154.4 493.6,153.1 497,150.8 500.1,147.7 502,144.8 503.6,141.3 504.5,138.1 505,134.9 505.1,130.1 503.5,121.3 499.9,112.5 497.2,107.7 493.9,102.9 486.8,95 479.1,88.6 469.6,82.8 460.2,79 451.3,77.2 447.1,77.1 442.6,77.4 438.6,78.3 434.4,80 430.2,82.8 426.4,87 424,91.8 422.7,96.6 422.4,101.3 423,107.7 424.7,114.1 427.4,120.5 431.1,126.9 435.9,133.3 441.4,139 447.1,143.8 452.7,147.7 459.8,151.5 466.8,154.2 473.9,155.8Z" fill="#ffd400"/>
<path d="M472.4,147.7 479.5,147.8 485.1,146.5 489.4,144.2 492.2,141.5 493.6,139.6 495.1,136.5 496,133.3 496.4,126.9 495,119.9 491.9,112.5 486.5,104.5 480.9,98.6 474.3,93.4 466.8,89.1 459.8,86.6 452.7,85.4 445.7,85.9 440,88 436.9,90.2 434.1,93.4 432.5,96.6 431.3,101.3 431.1,106.1 431.8,110.9 433.3,115.7 435.4,120.5 438.3,125.3 442,130.1 446.7,134.9 451.3,138.7 455.5,141.5 461.2,144.5 466.8,146.5 472.4,147.7Z" fill="#ffcd00"/>
<path d="M464,135 469.6,136.3 473.9,136.3 478.1,135.1 480.8,133.3 483.2,130.1 484.2,126.9 484.2,122.1 483,117.3 480.6,112.5 477,107.7 472.4,103.4 468.2,100.6 462.8,98.2 458.4,97.1 454.1,97 449.9,98 447.1,99.7 445.7,101.1 443.8,104.5 443.1,109.3 443.5,112.5 444.4,115.7 447.1,121.1 451.7,126.9 457.5,131.7 464,135Z" fill="#ffc700"/>
<polyline points="358.3,188.9 366.2,197.3 374.1,205 381.9,212.2 390.5,219.5" fill="none" stroke="#151515" stroke-width="0.9"/>
<polyline points="358.3,138.8 366.2,151.1 375.2,163.1 385.3,174.8 395.4,184.9 407.2,195.3 419,204.2 431.5,212.4 444.2,219.5" fill="none" stroke="#151515" stroke-width="0.9"/>
<polyline points="526,42.9 517.5,35.9 509,29.5" fill="none" stroke="#151515" stroke-width="0.9"/>
<polyline points="526,113 523.1,107.3 520.2,102.2 516.8,97.1 512.5,91.4 508.7,86.9 503.9,81.8 499,77.2 493.9,72.9 488.8,69 483.2,65.2 477.6,61.9 471.6,58.8 465.8,56.3 459.6,54.1 454,52.4 448.3,51.3 442.7,50.5 437.1,50.2 431.5,50.4 426.2,51.2 421.3,52.4 416.8,54 412.4,56.3 408.9,58.6 405.6,61.6 402.3,65.2 399.8,69 397.8,72.9 396.4,76.7 395.2,81.8 394.6,85.6 394.4,90.7 394.6,95.8 395.3,100.9 396.6,106.8 398.3,112.4 400.2,117.5 403.2,123.9 406,129 409.2,134.1 412.8,139.2 416.9,144.3 421.5,149.4 426.6,154.5 431.5,158.7 437.1,163.2 442.7,167.1 448.3,170.5 454,173.6 459.6,176.2 465.2,178.4 470.9,180.2 476.5,181.6 482.1,182.5 487.7,183 493.4,183.1 499,182.6 503.5,181.7 508,180.3 512.5,178.4 516.5,176.1 519.9,173.6 522.7,171 526,167" fill="none" stroke="#151515" stroke-width="0.9"/>
<rect x="358.3" y="29.5" width="167.7" height="190" fill="none" stroke="#2a2a2a" stroke-width="0.9"/>
<line x1="358.3" y1="219.5" x2="358.3" y2="223.3" stroke="#555" stroke-width="0.7"/>
<text x="358.3" y="230.1" font-family="Liberation Sans, Arial, sans-serif" font-size="5.2" fill="#2a2a2a" text-anchor="middle">6</text>
<line x1="386.2" y1="219.5" x2="386.2" y2="223.3" stroke="#555" stroke-width="0.7"/>
<text x="386.2" y="230.1" font-family="Liberation Sans, Arial, sans-serif" font-size="5.2" fill="#2a2a2a" text-anchor="middle">9</text>
<line x1="414.2" y1="219.5" x2="414.2" y2="223.3" stroke="#555" stroke-width="0.7"/>
<text x="414.2" y="230.1" font-family="Liberation Sans, Arial, sans-serif" font-size="5.2" fill="#2a2a2a" text-anchor="middle" textLength="4.6" lengthAdjust="spacingAndGlyphs">12</text>
<line x1="442.1" y1="219.5" x2="442.1" y2="223.3" stroke="#555" stroke-width="0.7"/>
<text x="442.1" y="230.1" font-family="Liberation Sans, Arial, sans-serif" font-size="5.2" fill="#2a2a2a" text-anchor="middle" textLength="4.6" lengthAdjust="spacingAndGlyphs">15</text>
<line x1="470.1" y1="219.5" x2="470.1" y2="223.3" stroke="#555" stroke-width="0.7"/>
<text x="470.1" y="230.1" font-family="Liberation Sans, Arial, sans-serif" font-size="5.2" fill="#2a2a2a" text-anchor="middle" textLength="4.6" lengthAdjust="spacingAndGlyphs">18</text>
<line x1="498.1" y1="219.5" x2="498.1" y2="223.3" stroke="#555" stroke-width="0.7"/>
<text x="498.1" y="230.1" font-family="Liberation Sans, Arial, sans-serif" font-size="5.2" fill="#2a2a2a" text-anchor="middle" textLength="4.6" lengthAdjust="spacingAndGlyphs">21</text>
<line x1="526" y1="219.5" x2="526" y2="223.3" stroke="#555" stroke-width="0.7"/>
<text x="526" y="230.1" font-family="Liberation Sans, Arial, sans-serif" font-size="5.2" fill="#2a2a2a" text-anchor="middle" textLength="4.6" lengthAdjust="spacingAndGlyphs">24</text>
<line x1="354.5" y1="219.5" x2="358.3" y2="219.5" stroke="#555" stroke-width="0.7"/>
<text x="350.9" y="221.3" font-family="Liberation Sans, Arial, sans-serif" font-size="5.2" fill="#2a2a2a" text-anchor="middle" textLength="4.6" lengthAdjust="spacingAndGlyphs">10</text>
<line x1="354.5" y1="181.5" x2="358.3" y2="181.5" stroke="#555" stroke-width="0.7"/>
<text x="350.9" y="183.3" font-family="Liberation Sans, Arial, sans-serif" font-size="5.2" fill="#2a2a2a" text-anchor="middle" textLength="4.6" lengthAdjust="spacingAndGlyphs">20</text>
<line x1="354.5" y1="143.5" x2="358.3" y2="143.5" stroke="#555" stroke-width="0.7"/>
<text x="350.9" y="145.3" font-family="Liberation Sans, Arial, sans-serif" font-size="5.2" fill="#2a2a2a" text-anchor="middle" textLength="4.6" lengthAdjust="spacingAndGlyphs">30</text>
<line x1="354.5" y1="105.5" x2="358.3" y2="105.5" stroke="#555" stroke-width="0.7"/>
<text x="350.9" y="107.3" font-family="Liberation Sans, Arial, sans-serif" font-size="5.2" fill="#2a2a2a" text-anchor="middle" textLength="4.6" lengthAdjust="spacingAndGlyphs">40</text>
<line x1="354.5" y1="67.5" x2="358.3" y2="67.5" stroke="#555" stroke-width="0.7"/>
<text x="350.9" y="69.3" font-family="Liberation Sans, Arial, sans-serif" font-size="5.2" fill="#2a2a2a" text-anchor="middle" textLength="4.6" lengthAdjust="spacingAndGlyphs">50</text>
<line x1="354.5" y1="29.5" x2="358.3" y2="29.5" stroke="#555" stroke-width="0.7"/>
<text x="350.9" y="31.3" font-family="Liberation Sans, Arial, sans-serif" font-size="5.2" fill="#2a2a2a" text-anchor="middle" textLength="4.6" lengthAdjust="spacingAndGlyphs">60</text>
<text x="441.3" y="244.4" font-family="Liberation Sans, Arial, sans-serif" font-size="5.6" fill="#2a2a2a" text-anchor="middle" textLength="38" lengthAdjust="spacingAndGlyphs">A: Voltage (Volts)</text>
<text x="0" y="2" font-family="Liberation Sans, Arial, sans-serif" font-size="5.6" fill="#2a2a2a" text-anchor="middle" textLength="32.5" lengthAdjust="spacingAndGlyphs" transform="translate(330 123.5) rotate(-90)">B: Time (min)</text>
<text x="441" y="26.2" font-family="Liberation Sans, Arial, sans-serif" font-size="7" fill="#2a2a2a" text-anchor="middle" textLength="63.7" lengthAdjust="spacingAndGlyphs">% Removal(turbidity) (%)</text>
<text x="317.6" y="41" font-family="Liberation Sans, Arial, sans-serif" font-size="5.6" fill="#666" text-anchor="middle">)</text>
<rect x="391.5" y="82.1" width="5.6" height="6.4" fill="#f4f4f4" stroke="#555" stroke-width="0.6"/><text x="394.3" y="86.8" font-family="Liberation Sans, Arial, sans-serif" font-size="4.2" fill="#444" text-anchor="middle">92</text>
<rect x="392.5" y="178.6" width="5.6" height="6.4" fill="#f4f4f4" stroke="#555" stroke-width="0.6"/><text x="395.3" y="183.3" font-family="Liberation Sans, Arial, sans-serif" font-size="4.2" fill="#444" text-anchor="middle">91</text>
<rect x="369.7" y="197.9" width="5.6" height="6.4" fill="#f4f4f4" stroke="#555" stroke-width="0.6"/><text x="372.5" y="202.6" font-family="Liberation Sans, Arial, sans-serif" font-size="4.2" fill="#444" text-anchor="middle">90</text>
<rect x="514.9" y="29.3" width="5.6" height="6.4" fill="#f4f4f4" stroke="#555" stroke-width="0.6"/><text x="517.7" y="34" font-family="Liberation Sans, Arial, sans-serif" font-size="4.2" fill="#444" text-anchor="middle">91</text>
<line x1="69.5" y1="417.5" x2="66.6" y2="303" stroke="#707070" stroke-width="0.75"/>
<line x1="82.3" y1="411.3" x2="80.1" y2="298.5" stroke="#707070" stroke-width="0.75"/>
<line x1="95.1" y1="405.2" x2="93.6" y2="294.1" stroke="#707070" stroke-width="0.75"/>
<line x1="107.9" y1="399.1" x2="107.1" y2="289.7" stroke="#707070" stroke-width="0.75"/>
<line x1="120.7" y1="392.9" x2="120.6" y2="285.3" stroke="#707070" stroke-width="0.75"/>
<line x1="191.3" y1="414" x2="194.3" y2="299.6" stroke="#707070" stroke-width="0.75"/>
<line x1="172" y1="405" x2="174.3" y2="293.4" stroke="#707070" stroke-width="0.75"/>
<line x1="152.8" y1="395.9" x2="154.2" y2="287.1" stroke="#707070" stroke-width="0.75"/>
<line x1="56.7" y1="423.6" x2="133.5" y2="386.8" stroke="#262626" stroke-width="0.7"/>
<line x1="56" y1="400.4" x2="133.6" y2="365.6" stroke="#262626" stroke-width="0.7"/>
<line x1="55.3" y1="377.1" x2="133.8" y2="344.4" stroke="#262626" stroke-width="0.7"/>
<line x1="54.5" y1="353.9" x2="133.9" y2="323.2" stroke="#262626" stroke-width="0.7"/>
<line x1="53.8" y1="330.6" x2="134" y2="302" stroke="#262626" stroke-width="0.7"/>
<line x1="53.1" y1="307.4" x2="134.2" y2="280.8" stroke="#262626" stroke-width="0.7"/>
<line x1="210.6" y1="423.1" x2="133.5" y2="386.8" stroke="#262626" stroke-width="0.7"/>
<line x1="211.3" y1="399.7" x2="133.6" y2="365.6" stroke="#262626" stroke-width="0.7"/>
<line x1="212.1" y1="376.2" x2="133.8" y2="344.4" stroke="#262626" stroke-width="0.7"/>
<line x1="212.8" y1="352.8" x2="133.9" y2="323.2" stroke="#262626" stroke-width="0.7"/>
<line x1="213.6" y1="329.3" x2="134" y2="302" stroke="#262626" stroke-width="0.7"/>
<line x1="214.4" y1="305.9" x2="134.2" y2="280.8" stroke="#262626" stroke-width="0.7"/>
<line x1="57.9" y1="460.2" x2="53.1" y2="307.4" stroke="#555" stroke-width="0.75"/>
<line x1="133.3" y1="420.2" x2="134.2" y2="280.8" stroke="#555" stroke-width="0.75"/>
<line x1="209.4" y1="460.1" x2="214.4" y2="305.9" stroke="#555" stroke-width="0.75"/>
<polygon points="133.9,513.5 209.4,460.1 133.3,420.2 57.9,460.2" fill="#656565" stroke="#111" stroke-width="0.9"/>
<polyline points="113,498.9 113.5,498.9 113.9,498.9 114.2,499 114.7,499 114.8,499 115.5,499.1 115.6,499.1 116.2,499.2 116.5,499.2 116.9,499.3 117.4,499.3 117.5,499.3 118.2,499.4 118.3,499.4 118.8,499.5 119.2,499.6 119.5,499.6 120.1,499.7 120.1,499.7 120.8,499.8 121,499.8 121.4,499.9 122,499.9 122.1,499.9 122.7,500 122.9,500.1 123.4,500.1 123.8,500.2 124,500.2 124.6,500.3 124.8,500.3 125.3,500.4 125.8,500.5 125.9,500.5 126.5,500.6 126.8,500.6 127.1,500.7 127.7,500.8 127.7,500.8 128.4,500.9 128.7,501 129,501 129.6,501.1 129.7,501.1 130.2,501.2 130.8,501.3 130.8,501.3 131.4,501.4 131.8,501.5 132,501.6 132.6,501.7 132.8,501.7 133.2,501.8 133.8,501.9 133.9,501.9 134.4,502 135,502.1 135,502.1 135.6,502.2 136,502.3 136.2,502.3 136.8,502.5 137.1,502.5 137.3,502.6 137.9,502.7 138.2,502.8 138.5,502.8 139.1,503 139.4,503 139.7,503.1 140.2,503.2 140.5,503.3 140.8,503.3 141.4,503.4 141.6,503.5 141.9,503.6 142.5,503.7 142.8,503.8 143.1,503.8 143.6,504 144,504 144.2,504.1 144.8,504.2 145.2,504.3 145.3,504.4 145.9,504.5 146.4,504.6 146.4,504.6" fill="none" stroke="#0028ff" stroke-width="1.5"/>
<polyline points="92,484.2 92.5,484.1 92.7,484.1 93.4,484.1 93.5,484.1 94.2,484.1 94.2,484.1 94.9,484.2 95,484.2 95.6,484.2 95.8,484.2 96.3,484.2 96.6,484.2 97.1,484.2 97.4,484.2 97.8,484.2 98.1,484.2 98.6,484.2 98.9,484.2 99.3,484.2 99.7,484.3 100.1,484.3 100.4,484.3 100.8,484.3 101.2,484.3 101.6,484.3 102,484.4 102.4,484.4 102.7,484.4 103.2,484.4 103.4,484.4 104,484.5 104.2,484.5 104.8,484.5 104.9,484.5 105.6,484.6 105.6,484.6 106.3,484.6 106.4,484.6 107,484.7 107.2,484.7 107.7,484.7 108,484.8 108.4,484.8 108.9,484.8 109.1,484.9 109.7,484.9 109.8,484.9 110.5,485 110.6,485 111.2,485.1 111.4,485.1 111.9,485.1 112.3,485.2 112.6,485.2 113.2,485.3 113.2,485.3 113.9,485.4 114,485.4 114.6,485.4 114.9,485.5 115.2,485.5 115.9,485.6 115.9,485.6 116.5,485.7 116.8,485.7 117.2,485.8 117.7,485.8 117.8,485.9 118.5,486 118.6,486 119.1,486 119.6,486.1 119.7,486.1 120.4,486.2 120.6,486.3 121,486.3 121.5,486.4 121.6,486.4 122.2,486.5 122.5,486.6 122.9,486.6 123.5,486.7 123.5,486.7 124.1,486.8 124.5,486.9 124.7,486.9 125.3,487.1 125.5,487.1 125.9,487.2 126.5,487.3 126.6,487.3 127.1,487.4 127.6,487.5 127.7,487.5 128.3,487.6 128.7,487.7 128.9,487.7 129.5,487.8 129.8,487.9 130.1,488 130.6,488.1 130.9,488.1 131.2,488.2 131.8,488.3 132,488.4 132.4,488.5 132.9,488.6 133.1,488.6 133.5,488.7 134.1,488.8 134.3,488.9 134.7,489 135.2,489.1 135.4,489.1 135.8,489.2 136.3,489.3 136.6,489.4 136.9,489.5 137.5,489.6 137.8,489.7 138,489.7 138.6,489.9 139,490 139.1,490 139.7,490.1 140.2,490.3 140.3,490.3 140.8,490.4 141.3,490.6 141.5,490.6 141.9,490.7 142.4,490.8 142.8,491 142.9,491 143.5,491.1 144,491.3 144.1,491.3 144.6,491.4 145.1,491.6 145.5,491.7 145.6,491.7 146.2,491.9 146.7,492 146.8,492 147.2,492.1 147.7,492.3 148.2,492.4 148.3,492.4 148.8,492.6 149.3,492.7 149.6,492.8 149.8,492.9 150.3,493 150.9,493.2 151.1,493.3 151.4,493.4 151.9,493.5 152.4,493.7 152.5,493.7 152.9,493.8 153.4,494 153.9,494.1 154,494.2 154.5,494.3 155,494.4 155.5,494.6 155.6,494.6 156,494.8 156.5,494.9 157,495.1 157.1,495.1 157.5,495.2 158,495.4 158.5,495.6 158.7,495.6 159,495.7" fill="none" stroke="#00c0f0" stroke-width="1.5"/>
<polyline points="71,469.4 71.5,469.3 71.9,469.2 72.1,469.2 72.6,469.1 73.1,469 73.2,469 73.7,468.9 74.3,468.8 74.3,468.8 74.9,468.8 75.4,468.7 75.5,468.7 76,468.6 76.6,468.5 76.6,468.5 77.1,468.4 77.7,468.3 77.7,468.3 78.3,468.3 78.8,468.2 78.9,468.2 79.5,468.1 79.9,468.1 80.1,468.1 80.7,468 81,468 81.3,467.9 81.9,467.9 82,467.8 82.5,467.8 83,467.7 83.1,467.7 83.7,467.7 84,467.7 84.3,467.6 84.9,467.6 85,467.6 85.5,467.5 85.9,467.5 86.2,467.5 86.8,467.4 86.9,467.4 87.5,467.4 87.8,467.4 88.1,467.4 88.7,467.3 88.8,467.3 89.4,467.3 89.6,467.3 90.1,467.3 90.5,467.2 90.7,467.2 91.4,467.2 91.4,467.2 92.1,467.2 92.3,467.2 92.8,467.2 93.1,467.2 93.5,467.2 94,467.2 94.2,467.2 94.8,467.2 94.9,467.2 95.6,467.2 95.6,467.2 96.3,467.2 96.4,467.2 97,467.2 97.2,467.2 97.8,467.2 98,467.2 98.5,467.2 98.8,467.2 99.2,467.2 99.6,467.2 100,467.2 100.3,467.3 100.8,467.3 101.1,467.3 101.5,467.3 101.8,467.3 102.3,467.4 102.5,467.4 103.1,467.4 103.3,467.4 103.9,467.5 104,467.5 104.7,467.5 104.7,467.5 105.4,467.6 105.6,467.6 106.1,467.6 106.4,467.7 106.8,467.7 107.2,467.7 107.5,467.8 108.1,467.8 108.2,467.8 108.9,467.9 109,467.9 109.5,468 109.9,468 110.2,468.1 110.8,468.1 110.9,468.1 111.5,468.2 111.7,468.3 112.2,468.3 112.6,468.4 112.8,468.4 113.4,468.5 113.6,468.5 114.1,468.6 114.5,468.7 114.7,468.7 115.3,468.8 115.5,468.8 115.9,468.9 116.5,469 116.6,469 117.2,469.1 117.5,469.2 117.8,469.2 118.4,469.3 118.5,469.3 119,469.4 119.6,469.5 119.6,469.5 120.2,469.7 120.6,469.7 120.8,469.8 121.3,469.9 121.7,470 121.9,470 122.5,470.1 122.8,470.2 123.1,470.3 123.7,470.4 124,470.4 124.2,470.5 124.8,470.6 125.1,470.7 125.4,470.8 125.9,470.9 126.3,471 126.5,471 127,471.2 127.5,471.3 127.6,471.3 128.1,471.4 128.7,471.6 128.8,471.6 129.2,471.7 129.8,471.8 130.1,471.9 130.3,472 130.9,472.1 131.4,472.3 131.4,472.3 131.9,472.4 132.5,472.6 132.7,472.6 133,472.7 133.5,472.9 134.1,473 134.1,473 134.6,473.2 135.1,473.3 135.5,473.4 135.6,473.5 136.1,473.6 136.7,473.8 136.9,473.8 137.2,473.9 137.7,474.1 138.2,474.2 138.4,474.3 138.7,474.4 139.2,474.5 139.7,474.7 140,474.8 140.2,474.9 140.7,475 141.2,475.2 141.5,475.3 141.7,475.4 142.2,475.5 142.7,475.7 143.2,475.8 143.2,475.8 143.7,476 144.2,476.2 144.7,476.3 144.8,476.4 145.2,476.5 145.7,476.7 146.2,476.8 146.6,477 146.7,477 147.1,477.2 147.6,477.3 148.1,477.5 148.4,477.6 148.6,477.7 149.1,477.9 149.5,478 150,478.2 150.2,478.3 150.5,478.4 151,478.6 151.5,478.7 151.9,478.9 152.2,479 152.4,479.1 152.9,479.3 153.3,479.4 153.8,479.6 154.2,479.7 154.3,479.8 154.8,480 155.2,480.1 155.7,480.3 156.2,480.5 156.3,480.5 156.6,480.7 157.1,480.9 157.6,481 158,481.2 158.4,481.4 158.5,481.4 158.9,481.6 159.4,481.8 159.9,482 160.3,482.1 160.7,482.3 160.8,482.3 161.2,482.5 161.7,482.7 162.1,482.9 162.6,483.1 163,483.2 163.1,483.2 163.5,483.4 164,483.6 164.4,483.8 164.9,484 165.3,484.2 165.4,484.2 165.8,484.4 166.2,484.6 166.7,484.7 167.1,484.9 167.6,485.1 168,485.3 168,485.3 168.5,485.5 168.9,485.7 169.3,485.9 169.8,486.1 170.2,486.3 170.7,486.4 170.7,486.4 171.1,486.6 171.6,486.8" fill="none" stroke="#00f080" stroke-width="1.5"/>
<polyline points="122.1,443.2 122.5,443.4 122.9,443.6 123.3,443.8 123.7,444.1 124.1,444.3 124.5,444.5 124.9,444.7 125.3,444.9 125.7,445.1 126.1,445.3 126.5,445.5 126.9,445.8 127.3,446 127.7,446.2 128.1,446.4 128.5,446.6 128.9,446.8 129.3,447 129.5,447.1 129.7,447.3 130.1,447.5 130.5,447.7 130.9,447.9 131.3,448.1 131.7,448.3 132.1,448.6 132.5,448.8 132.9,449 133.3,449.2 133.7,449.4 134.1,449.6 134.5,449.8 134.9,450.1 135.2,450.3 135.6,450.5 136,450.7 136.4,450.9 136.8,451.1 137.2,451.4 137.6,451.6 138,451.8 138.4,452 138.8,452.2 139.2,452.5 139.6,452.7 140,452.9 140.3,453.1 140.7,453.3 141.1,453.5 141.5,453.8 141.9,454 142.3,454.2 142.4,454.3 142.7,454.4 143.1,454.6 143.5,454.8 143.9,455.1 144.3,455.3 144.6,455.5 145,455.7 145.4,455.9 145.8,456.2 146.2,456.4 146.6,456.6 147,456.8 147.4,457 147.8,457.3 148.2,457.5 148.5,457.7 148.9,457.9 149.3,458.1 149.7,458.3 150.1,458.6 150.5,458.8 150.9,459 151.3,459.2 151.7,459.4 152,459.7 152.4,459.9 152.8,460.1 153.2,460.3 153.6,460.5 154,460.8 154.4,461 154.8,461.2 155.1,461.4 155.5,461.6 155.9,461.9 156.3,462.1 156.7,462.3 157.1,462.5 157.5,462.7 157.9,463 158.3,463.2 158.6,463.4 159,463.6 159.4,463.8 159.8,464.1 160.2,464.3 160.6,464.5 161,464.7 161.4,464.9 161.7,465.1 162.1,465.4 162.5,465.6 162.9,465.8 163.3,466 163.7,466.2 164.1,466.5 164.4,466.7 164.8,466.9 165.2,467.1 165.6,467.3 165.9,467.5 166,467.6 166.4,467.8 166.8,468 167.2,468.2 167.5,468.4 167.9,468.7 168.3,468.9 168.7,469.1 169.1,469.3 169.5,469.5 169.9,469.8 170.2,470 170.6,470.2 171,470.4 171.4,470.6 171.8,470.9 172.2,471.1 172.6,471.3 173,471.5 173.3,471.8 173.7,472 174.1,472.2 174.5,472.4 174.9,472.6 175.3,472.9 175.7,473.1 176,473.3 176.4,473.5 176.8,473.7 177.2,474 177.6,474.2 178,474.4 178.4,474.6 178.7,474.8 179.1,475.1 179.5,475.3 179.9,475.5 180.3,475.7 180.7,475.9 181.1,476.2 181.4,476.4 181.8,476.6 182.2,476.8 182.6,477 183,477.3 183.4,477.5 183.8,477.7 184.1,477.9" fill="none" stroke="#10e010" stroke-width="1.5"/>
<polyline points="166.1,437.4 166.1,437.4 166.3,437.8 166.4,437.9 166.4,438.1 166.6,438.5 166.6,438.5 166.8,438.8 166.9,439.1 166.9,439.1 167.1,439.4 167.3,439.7 167.3,439.8 167.5,440.1 167.6,440.3 167.7,440.4 167.9,440.7 168,441 168,441.1 168.2,441.4 168.4,441.6 168.4,441.7 168.6,442 168.8,442.3 168.8,442.3 169,442.6 169.3,442.9 169.3,442.9 169.5,443.3 169.7,443.6 169.7,443.6 169.9,443.9 170.1,444.2 170.3,444.4 170.3,444.5 170.6,444.8 170.8,445.1 170.8,445.1 171,445.4 171.3,445.7 171.4,445.8 171.5,446 171.7,446.3 172,446.6 172,446.6 172.2,446.9 172.5,447.2 172.7,447.4 172.7,447.5 173,447.7 173.2,448 173.4,448.3 173.5,448.3 173.7,448.6 174,448.9 174.1,449.1 174.2,449.2 174.5,449.5 174.7,449.8 174.9,450 175,450 175.3,450.3 175.5,450.6 175.8,450.9 175.8,450.9 176.1,451.2 176.3,451.4 176.6,451.7 176.7,451.8 176.9,452 177.1,452.3 177.4,452.6 177.7,452.8 177.7,452.8 178,453.1 178.3,453.4 178.5,453.7 178.7,453.8 178.8,453.9 179.1,454.2 179.4,454.5 179.7,454.8 179.8,454.9 180,455 180.2,455.3 180.5,455.6 180.8,455.8 181,456 181.1,456.1 181.4,456.4 181.7,456.6 182,456.9 182.3,457.1 182.3,457.2 182.6,457.4 182.9,457.7 183.2,458 183.5,458.2 183.6,458.3 183.8,458.5 184.1,458.8 184.4,459 184.7,459.3 185,459.6 185,459.6 185.3,459.8 185.6,460.1 185.9,460.3 186.2,460.6 186.5,460.9 186.6,460.9 186.8,461.1 187.1,461.4 187.5,461.6 187.8,461.9 188.1,462.2 188.2,462.3 188.4,462.4 188.7,462.7 189,462.9 189.3,463.2 189.6,463.4 190,463.7 190,463.7 190.3,463.9 190.6,464.2 190.9,464.5 191.2,464.7 191.6,465 191.9,465.2 191.9,465.2 192.2,465.5 192.5,465.7 192.8,466 193.2,466.2 193.5,466.5 193.8,466.7 193.9,466.8 194.1,467 194.5,467.2 194.8,467.5 195.1,467.7 195.4,468 195.8,468.2 196.1,468.5 196.1,468.5 196.4,468.7 196.7,469" fill="none" stroke="#c8e800" stroke-width="1.5"/>
<g stroke="#0a0a0a" stroke-width="0.42" stroke-linejoin="round">
<polygon points="133.9,327 137.8,324.8 133.9,324.5 129.9,326.4" fill="#4bec19"/>
<polygon points="129.9,329.1 133.9,327 129.9,326.4 126,328.4" fill="#48ed1c"/>
<polygon points="137.8,327.5 141.8,325.1 137.8,324.8 133.9,327" fill="#52ec14"/>
<polygon points="125.9,331.2 129.9,329.1 126,328.4 122,330.3" fill="#45ed1f"/>
<polygon points="133.9,329.8 137.8,327.5 133.9,327 129.9,329.1" fill="#4dec17"/>
<polygon points="141.8,328 145.8,325.4 141.8,325.1 137.8,327.5" fill="#62ec19"/>
<polygon points="137.8,330.5 141.8,328 137.8,327.5 133.9,329.8" fill="#56ec15"/>
<polygon points="145.7,328.5 149.7,325.7 145.8,325.4 141.8,328" fill="#72ec1d"/>
<polygon points="122,333.4 125.9,331.2 122,330.3 118,332.2" fill="#43ed21"/>
<polygon points="129.9,332.2 133.9,329.8 129.9,329.1 125.9,331.2" fill="#49ec1b"/>
<polygon points="141.8,331.2 145.7,328.5 141.8,328 137.8,330.5" fill="#63ec19"/>
<polygon points="118,335.5 122,333.4 118,332.2 114.1,334.2" fill="#40ed24"/>
<polygon points="125.9,334.5 129.9,332.2 125.9,331.2 122,333.4" fill="#46ed1e"/>
<polygon points="133.8,333.1 137.8,330.5 133.9,329.8 129.9,332.2" fill="#4dec17"/>
<polygon points="149.7,329 153.7,326 149.7,325.7 145.7,328.5" fill="#82ec21"/>
<polygon points="122,336.9 125.9,334.5 122,333.4 118,335.5" fill="#42ed22"/>
<polygon points="145.7,332 149.7,329 145.7,328.5 141.8,331.2" fill="#70ec1c"/>
<polygon points="114.1,337.7 118,335.5 114.1,334.2 110.1,336.1" fill="#3ded27"/>
<polygon points="129.9,335.7 133.8,333.1 129.9,332.2 125.9,334.5" fill="#49ec1b"/>
<polygon points="137.8,334 141.8,331.2 137.8,330.5 133.8,333.1" fill="#54ec15"/>
<polygon points="153.7,329.5 157.7,326.3 153.7,326 149.7,329" fill="#92ec25"/>
<polygon points="133.8,336.8 137.8,334 133.8,333.1 129.9,335.7" fill="#4cec18"/>
<polygon points="110.1,339.9 114.1,337.7 110.1,336.1 106.2,338.1" fill="#3bed29"/>
<polygon points="118,339.3 122,336.9 118,335.5 114.1,337.7" fill="#3eed26"/>
<polygon points="125.9,338.3 129.9,335.7 125.9,334.5 122,336.9" fill="#44ed20"/>
<polygon points="141.8,334.9 145.7,332 141.8,331.2 137.8,334" fill="#5fec18"/>
<polygon points="149.7,332.6 153.7,329.5 149.7,329 145.7,332" fill="#7eec20"/>
<polygon points="157.6,329.9 161.6,326.5 157.7,326.3 153.7,329.5" fill="#a1ec29"/>
<polygon points="106.2,342.1 110.1,339.9 106.2,338.1 102.2,340" fill="#38ee2c"/>
<polygon points="114.1,341.7 118,339.3 114.1,337.7 110.1,339.9" fill="#3bed29"/>
<polygon points="129.9,339.6 133.8,336.8 129.9,335.7 125.9,338.3" fill="#46ed1e"/>
<polygon points="137.8,338 141.8,334.9 137.8,334 133.8,336.8" fill="#4fec15"/>
<polygon points="145.7,335.9 149.7,332.6 145.7,332 141.8,334.9" fill="#69ec1b"/>
<polygon points="153.7,333.3 157.6,329.9 153.7,329.5 149.7,332.6" fill="#8bec23"/>
<polygon points="122,340.9 125.9,338.3 122,336.9 118,339.3" fill="#3fed25"/>
<polygon points="161.6,330.4 165.6,326.8 161.6,326.5 157.6,329.9" fill="#b1ec2e"/>
<polygon points="118,343.5 122,340.9 118,339.3 114.1,341.7" fill="#3bed29"/>
<polygon points="125.9,342.4 129.9,339.6 125.9,338.3 122,340.9" fill="#41ed23"/>
<polygon points="157.6,334 161.6,330.4 157.6,329.9 153.7,333.3" fill="#98ec27"/>
<polygon points="165.6,330.8 169.6,327 165.6,326.8 161.6,330.4" fill="#bcea34"/>
<polygon points="102.2,344.2 106.2,342.1 102.2,340 98.2,342" fill="#35ee2f"/>
<polygon points="110.1,344.1 114.1,341.7 110.1,339.9 106.2,342.1" fill="#37ee2d"/>
<polygon points="133.8,341 137.8,338 133.8,336.8 129.9,339.6" fill="#48ed1c"/>
<polygon points="141.7,339.1 145.7,335.9 141.8,334.9 137.8,338" fill="#55ec15"/>
<polygon points="149.7,336.8 153.7,333.3 149.7,332.6 145.7,335.9" fill="#74ec1e"/>
<polygon points="121.9,345.3 125.9,342.4 122,340.9 118,343.5" fill="#3bed29"/>
<polygon points="161.6,334.7 165.6,330.8 161.6,330.4 157.6,334" fill="#a5ec2a"/>
<polygon points="98.2,346.4 102.2,344.2 98.2,342 94.3,344" fill="#32ee32"/>
<polygon points="106.2,346.5 110.1,344.1 106.2,342.1 102.2,344.2" fill="#33ee31"/>
<polygon points="114,346.1 118,343.5 114.1,341.7 110.1,344.1" fill="#36ee2e"/>
<polygon points="129.9,344 133.8,341 129.9,339.6 125.9,342.4" fill="#42ed22"/>
<polygon points="137.8,342.3 141.7,339.1 137.8,338 133.8,341" fill="#4aec1a"/>
<polygon points="145.7,340.2 149.7,336.8 145.7,335.9 141.7,339.1" fill="#5dec18"/>
<polygon points="153.6,337.7 157.6,334 153.7,333.3 149.7,336.8" fill="#7fec20"/>
<polygon points="169.6,331.3 173.6,327.2 169.6,327 165.6,330.8" fill="#c8e93a"/>
<polygon points="102.2,348.9 106.2,346.5 102.2,344.2 98.2,346.4" fill="#30ee34"/>
<polygon points="125.9,347.1 129.9,344 125.9,342.4 121.9,345.3" fill="#3bed29"/>
<polygon points="141.7,343.7 145.7,340.2 141.7,339.1 137.8,342.3" fill="#4cec18"/>
<polygon points="165.6,335.4 169.6,331.3 165.6,330.8 161.6,334.7" fill="#b2ec2e"/>
<polygon points="94.3,348.6 98.2,346.4 94.3,344 90.3,346" fill="#30ee34"/>
<polygon points="110.1,348.7 114,346.1 110.1,344.1 106.2,346.5" fill="#31ee33"/>
<polygon points="118,348.1 121.9,345.3 118,343.5 114,346.1" fill="#35ee2f"/>
<polygon points="133.8,345.6 137.8,342.3 133.8,341 129.9,344" fill="#43ed21"/>
<polygon points="149.6,341.3 153.6,337.7 149.7,336.8 145.7,340.2" fill="#66ec1a"/>
<polygon points="157.6,338.6 161.6,334.7 157.6,334 153.6,337.7" fill="#89ec23"/>
<polygon points="173.6,331.7 177.6,327.4 173.6,327.2 169.6,331.3" fill="#d4e83f"/>
<polygon points="153.6,342.5 157.6,338.6 153.6,337.7 149.6,341.3" fill="#6eec1c"/>
<polygon points="169.5,336 173.6,331.7 169.6,331.3 165.6,335.4" fill="#bbeb33"/>
<polygon points="177.5,332.2 181.6,327.6 177.6,327.4 173.6,331.7" fill="#dfe645"/>
<polygon points="90.4,350.8 94.3,348.6 90.3,346 86.4,347.9" fill="#2dee37"/>
<polygon points="98.3,351.3 102.2,348.9 98.2,346.4 94.3,348.6" fill="#2cee38"/>
<polygon points="106.2,351.3 110.1,348.7 106.2,346.5 102.2,348.9" fill="#2dee37"/>
<polygon points="114.1,350.9 118,348.1 114,346.1 110.1,348.7" fill="#30ee34"/>
<polygon points="121.9,350.1 125.9,347.1 121.9,345.3 118,348.1" fill="#34ee30"/>
<polygon points="129.8,348.9 133.8,345.6 129.9,344 125.9,347.1" fill="#3bed29"/>
<polygon points="137.8,347.2 141.7,343.7 137.8,342.3 133.8,345.6" fill="#44ed20"/>
<polygon points="145.7,345 149.6,341.3 145.7,340.2 141.7,343.7" fill="#4fec15"/>
<polygon points="161.6,339.5 165.6,335.4 161.6,334.7 157.6,338.6" fill="#94ec26"/>
<polygon points="86.4,353 90.4,350.8 86.4,347.9 82.4,349.9" fill="#2aef3a"/>
<polygon points="94.3,353.7 98.3,351.3 94.3,348.6 90.4,350.8" fill="#28ef3c"/>
<polygon points="110.1,353.8 114.1,350.9 110.1,348.7 106.2,351.3" fill="#2aef3a"/>
<polygon points="118,353.2 121.9,350.1 118,348.1 114.1,350.9" fill="#2eee36"/>
<polygon points="125.9,352.2 129.8,348.9 125.9,347.1 121.9,350.1" fill="#34ee30"/>
<polygon points="133.8,350.7 137.8,347.2 133.8,345.6 129.8,348.9" fill="#3bed29"/>
<polygon points="149.6,346.4 153.6,342.5 149.6,341.3 145.7,345" fill="#52ec14"/>
<polygon points="157.6,343.6 161.6,339.5 157.6,338.6 153.6,342.5" fill="#76ec1e"/>
<polygon points="165.5,340.4 169.5,336 165.6,335.4 161.6,339.5" fill="#9fec29"/>
<polygon points="173.5,336.7 177.5,332.2 173.6,331.7 169.5,336" fill="#c5e938"/>
<polygon points="102.2,354 106.2,351.3 102.2,348.9 98.3,351.3" fill="#28ef3c"/>
<polygon points="141.7,348.7 145.7,345 141.7,343.7 137.8,347.2" fill="#45ed1f"/>
<polygon points="181.5,332.6 185.6,327.8 181.6,327.6 177.5,332.2" fill="#ebe54b"/>
<polygon points="98.3,356.6 102.2,354 98.3,351.3 94.3,353.7" fill="#23ef41"/>
<polygon points="106.2,356.7 110.1,353.8 106.2,351.3 102.2,354" fill="#24ef40"/>
<polygon points="114.1,356.3 118,353.2 114.1,350.9 110.1,353.8" fill="#27ef3d"/>
<polygon points="137.7,352.5 141.7,348.7 137.8,347.2 133.8,350.7" fill="#3bed29"/>
<polygon points="145.7,350.3 149.6,346.4 145.7,345 141.7,348.7" fill="#46ed1e"/>
<polygon points="161.5,344.7 165.5,340.4 161.6,339.5 157.6,343.6" fill="#7eec20"/>
<polygon points="169.5,341.2 173.5,336.7 169.5,336 165.5,340.4" fill="#a9ec2b"/>
<polygon points="177.5,337.3 181.5,332.6 177.5,332.2 173.5,336.7" fill="#cfe83d"/>
<polygon points="185.5,333 189.6,328 185.6,327.8 181.5,332.6" fill="#f5e350"/>
<polygon points="82.5,355.3 86.4,353 82.4,349.9 78.5,351.9" fill="#27ef3d"/>
<polygon points="90.4,356.2 94.3,353.7 90.4,350.8 86.4,353" fill="#24ef40"/>
<polygon points="121.9,355.5 125.9,352.2 121.9,350.1 118,353.2" fill="#2cee38"/>
<polygon points="129.8,354.2 133.8,350.7 129.8,348.9 125.9,352.2" fill="#33ee31"/>
<polygon points="153.6,347.7 157.6,343.6 153.6,342.5 149.6,346.4" fill="#57ec16"/>
<polygon points="78.5,357.5 82.5,355.3 78.5,351.9 74.6,353.9" fill="#25ef3f"/>
<polygon points="86.4,358.6 90.4,356.2 86.4,353 82.5,355.3" fill="#21ef43"/>
<polygon points="94.3,359.3 98.3,356.6 94.3,353.7 90.4,356.2" fill="#1fef45"/>
<polygon points="102.2,359.6 106.2,356.7 102.2,354 98.3,356.6" fill="#1eef46"/>
<polygon points="110.1,359.4 114.1,356.3 110.1,353.8 106.2,356.7" fill="#20ef44"/>
<polygon points="118,358.8 121.9,355.5 118,353.2 114.1,356.3" fill="#24ef40"/>
<polygon points="125.9,357.7 129.8,354.2 125.9,352.2 121.9,355.5" fill="#2aef3a"/>
<polygon points="133.8,356.2 137.7,352.5 133.8,350.7 129.8,354.2" fill="#32ee32"/>
<polygon points="141.7,354.3 145.7,350.3 141.7,348.7 137.7,352.5" fill="#3bed29"/>
<polygon points="149.6,351.9 153.6,347.7 149.6,346.4 145.7,350.3" fill="#47ed1d"/>
<polygon points="157.5,349.1 161.5,344.7 157.6,343.6 153.6,347.7" fill="#5cec17"/>
<polygon points="165.5,345.8 169.5,341.2 165.5,340.4 161.5,344.7" fill="#85ec22"/>
<polygon points="173.5,342.1 177.5,337.3 173.5,336.7 169.5,341.2" fill="#b3ec2f"/>
<polygon points="181.5,338 185.5,333 181.5,332.6 177.5,337.3" fill="#d8e742"/>
<polygon points="189.5,333.4 193.6,328.2 189.6,328 185.5,333" fill="#f5dd50"/>
<polygon points="82.5,361.1 86.4,358.6 82.5,355.3 78.5,357.5" fill="#1def47"/>
<polygon points="106.2,362.5 110.1,359.4 106.2,356.7 102.2,359.6" fill="#1af04a"/>
<polygon points="122,361.3 125.9,357.7 121.9,355.5 118,358.8" fill="#21ef43"/>
<polygon points="145.6,356.1 149.6,351.9 145.7,350.3 141.7,354.3" fill="#3bed29"/>
<polygon points="161.5,350.4 165.5,345.8 161.5,344.7 157.5,349.1" fill="#62ec19"/>
<polygon points="74.6,359.7 78.5,357.5 74.6,353.9 70.6,355.9" fill="#22ef42"/>
<polygon points="90.4,362 94.3,359.3 90.4,356.2 86.4,358.6" fill="#1af04a"/>
<polygon points="98.3,362.5 102.2,359.6 98.3,356.6 94.3,359.3" fill="#19f04b"/>
<polygon points="114.1,362.1 118,358.8 114.1,356.3 110.1,359.4" fill="#1def47"/>
<polygon points="129.8,360 133.8,356.2 129.8,354.2 125.9,357.7" fill="#28ef3c"/>
<polygon points="137.7,358.3 141.7,354.3 137.7,352.5 133.8,356.2" fill="#31ee33"/>
<polygon points="153.6,353.5 157.5,349.1 153.6,347.7 149.6,351.9" fill="#48ed1c"/>
<polygon points="169.5,346.9 173.5,342.1 169.5,341.2 165.5,345.8" fill="#8dec24"/>
<polygon points="177.4,343 181.5,338 177.5,337.3 173.5,342.1" fill="#baeb33"/>
<polygon points="185.5,338.6 189.5,333.4 185.5,333 181.5,338" fill="#e2e647"/>
<polygon points="193.5,333.8 197.6,328.4 193.6,328.2 189.5,333.4" fill="#f5d750"/>
<polygon points="157.5,355.1 161.5,350.4 157.5,349.1 153.6,353.5" fill="#49ec1b"/>
<polygon points="189.4,339.2 193.5,333.8 189.5,333.4 185.5,338.6" fill="#ece54b"/>
<polygon points="197.5,334.2 201.6,328.5 197.6,328.4 193.5,333.8" fill="#f5d150"/>
<polygon points="70.7,362 74.6,359.7 70.6,355.9 66.7,357.9" fill="#1fef45"/>
<polygon points="78.6,363.5 82.5,361.1 78.5,357.5 74.6,359.7" fill="#19f04b"/>
<polygon points="86.5,364.7 90.4,362 86.4,358.6 82.5,361.1" fill="#15f04f"/>
<polygon points="94.4,365.4 98.3,362.5 94.3,359.3 90.4,362" fill="#14f052"/>
<polygon points="102.3,365.6 106.2,362.5 102.2,359.6 98.3,362.5" fill="#14f052"/>
<polygon points="110.1,365.5 114.1,362.1 110.1,359.4 106.2,362.5" fill="#15f04f"/>
<polygon points="118,364.8 122,361.3 118,358.8 114.1,362.1" fill="#19f04b"/>
<polygon points="125.9,363.8 129.8,360 125.9,357.7 122,361.3" fill="#1eef46"/>
<polygon points="133.8,362.3 137.7,358.3 133.8,356.2 129.8,360" fill="#26ef3e"/>
<polygon points="141.7,360.3 145.6,356.1 141.7,354.3 137.7,358.3" fill="#30ee34"/>
<polygon points="149.6,357.9 153.6,353.5 149.6,351.9 145.6,356.1" fill="#3ced28"/>
<polygon points="165.4,351.8 169.5,346.9 165.5,345.8 161.5,350.4" fill="#67ec1a"/>
<polygon points="173.4,348 177.4,343 173.5,342.1 169.5,346.9" fill="#95ec26"/>
<polygon points="181.4,343.9 185.5,338.6 181.5,338 177.4,343" fill="#c2ea36"/>
<polygon points="66.7,364.2 70.7,362 66.7,357.9 62.7,359.9" fill="#1cef48"/>
<polygon points="74.7,366 78.6,363.5 74.6,359.7 70.7,362" fill="#15f04f"/>
<polygon points="82.6,367.4 86.5,364.7 82.5,361.1 78.6,363.5" fill="#13f058"/>
<polygon points="90.5,368.3 94.4,365.4 90.4,362 86.5,364.7" fill="#12f05e"/>
<polygon points="98.3,368.8 102.3,365.6 98.3,362.5 94.4,365.4" fill="#11ef60"/>
<polygon points="106.2,368.8 110.1,365.5 106.2,362.5 102.3,365.6" fill="#12f05e"/>
<polygon points="114.1,368.4 118,364.8 114.1,362.1 110.1,365.5" fill="#13f058"/>
<polygon points="129.8,366.3 133.8,362.3 129.8,360 125.9,363.8" fill="#1cef48"/>
<polygon points="137.7,364.5 141.7,360.3 137.7,358.3 133.8,362.3" fill="#24ef40"/>
<polygon points="145.6,362.4 149.6,357.9 145.6,356.1 141.7,360.3" fill="#2fee35"/>
<polygon points="153.5,359.7 157.5,355.1 153.6,353.5 149.6,357.9" fill="#3ced28"/>
<polygon points="169.4,353.1 173.4,348 169.5,346.9 165.4,351.8" fill="#6cec1b"/>
<polygon points="185.4,344.7 189.4,339.2 185.5,338.6 181.4,343.9" fill="#cae93a"/>
<polygon points="193.4,339.9 197.5,334.2 193.5,333.8 189.4,339.2" fill="#f5e450"/>
<polygon points="122,367.6 125.9,363.8 122,361.3 118,364.8" fill="#15f04f"/>
<polygon points="161.5,356.6 165.4,351.8 161.5,350.4 157.5,355.1" fill="#4aec1a"/>
<polygon points="177.4,349.1 181.4,343.9 177.4,343 173.4,348" fill="#9dec28"/>
<polygon points="201.5,334.5 205.6,328.6 201.6,328.5 197.5,334.2" fill="#f5cb50"/>
<polygon points="62.8,366.5 66.7,364.2 62.7,359.9 58.8,362" fill="#19f04b"/>
<polygon points="78.7,370.1 82.6,367.4 78.6,363.5 74.7,366" fill="#11ef61"/>
<polygon points="86.5,371.2 90.5,368.3 86.5,364.7 82.6,367.4" fill="#10ef6a"/>
<polygon points="94.4,372 98.3,368.8 94.4,365.4 90.5,368.3" fill="#0fef6e"/>
<polygon points="118,371.4 122,367.6 118,364.8 114.1,368.4" fill="#11ef62"/>
<polygon points="125.9,370.3 129.8,366.3 125.9,363.8 122,367.6" fill="#13f056"/>
<polygon points="133.8,368.8 137.7,364.5 133.8,362.3 129.8,366.3" fill="#19f04b"/>
<polygon points="149.6,364.4 153.5,359.7 149.6,357.9 145.6,362.4" fill="#2eee36"/>
<polygon points="157.5,361.5 161.5,356.6 157.5,355.1 153.5,359.7" fill="#3ced28"/>
<polygon points="165.4,358.2 169.4,353.1 165.4,351.8 161.5,356.6" fill="#4bec19"/>
<polygon points="173.4,354.5 177.4,349.1 173.4,348 169.4,353.1" fill="#72ec1d"/>
<polygon points="189.4,345.6 193.4,339.9 189.4,339.2 185.4,344.7" fill="#d1e83e"/>
<polygon points="197.4,340.5 201.5,334.5 197.5,334.2 193.4,339.9" fill="#f5df50"/>
<polygon points="205.5,334.9 209.6,328.8 205.6,328.6 201.5,334.5" fill="#f5c650"/>
<polygon points="70.7,368.5 74.7,366 70.7,362 66.7,364.2" fill="#13f055"/>
<polygon points="102.3,372.2 106.2,368.8 102.3,365.6 98.3,368.8" fill="#0fef6e"/>
<polygon points="110.2,372 114.1,368.4 110.1,365.5 106.2,368.8" fill="#10ef6a"/>
<polygon points="141.7,366.8 145.6,362.4 141.7,360.3 137.7,364.5" fill="#22ef42"/>
<polygon points="181.4,350.2 185.4,344.7 181.4,343.9 177.4,349.1" fill="#a5ec2a"/>
<polygon points="58.9,368.7 62.8,366.5 58.8,362 54.9,364" fill="#17f04d"/>
<polygon points="66.8,371 70.7,368.5 66.7,364.2 62.8,366.5" fill="#12f05d"/>
<polygon points="74.7,372.8 78.7,370.1 74.7,366 70.7,368.5" fill="#10ef6b"/>
<polygon points="82.6,374.2 86.5,371.2 82.6,367.4 78.7,370.1" fill="#0eef76"/>
<polygon points="90.5,375.1 94.4,372 90.5,368.3 86.5,371.2" fill="#0def7c"/>
<polygon points="98.4,375.6 102.3,372.2 98.3,368.8 94.4,372" fill="#0def7e"/>
<polygon points="114.1,375.2 118,371.4 114.1,368.4 110.2,372" fill="#0eef77"/>
<polygon points="122,374.4 125.9,370.3 122,367.6 118,371.4" fill="#0fef6d"/>
<polygon points="129.8,373.1 133.8,368.8 129.8,366.3 125.9,370.3" fill="#12f05e"/>
<polygon points="137.7,371.3 141.7,366.8 137.7,364.5 133.8,368.8" fill="#16f04e"/>
<polygon points="153.5,366.5 157.5,361.5 153.5,359.7 149.6,364.4" fill="#2dee37"/>
<polygon points="161.4,363.4 165.4,358.2 161.5,356.6 157.5,361.5" fill="#3ced28"/>
<polygon points="169.4,359.8 173.4,354.5 169.4,353.1 165.4,358.2" fill="#4cec18"/>
<polygon points="177.3,355.8 181.4,350.2 177.4,349.1 173.4,354.5" fill="#77ec1e"/>
<polygon points="193.3,346.4 197.4,340.5 193.4,339.9 189.4,345.6" fill="#d9e742"/>
<polygon points="201.4,341.1 205.5,334.9 201.5,334.5 197.4,340.5" fill="#f5da50"/>
<polygon points="209.5,335.3 213.6,328.9 209.6,328.8 205.5,334.9" fill="#f5bf50"/>
<polygon points="106.3,375.7 110.2,372 106.2,368.8 102.3,372.2" fill="#0def7c"/>
<polygon points="145.6,369.1 149.6,364.4 145.6,362.4 141.7,366.8" fill="#20ef44"/>
<polygon points="185.3,351.3 189.4,345.6 185.4,344.7 181.4,350.2" fill="#adec2c"/>
<polygon points="86.6,378.3 90.5,375.1 86.5,371.2 82.6,374.2" fill="#0bee8a"/>
<polygon points="102.3,379.3 106.3,375.7 102.3,372.2 98.4,375.6" fill="#0aee8f"/>
<polygon points="125.9,377.4 129.8,373.1 125.9,370.3 122,374.4" fill="#0eef77"/>
<polygon points="141.6,373.9 145.6,369.1 141.7,366.8 137.7,371.3" fill="#14f052"/>
<polygon points="165.4,365.2 169.4,359.8 165.4,358.2 161.4,363.4" fill="#3ced28"/>
<polygon points="197.3,347.3 201.4,341.1 197.4,340.5 193.3,346.4" fill="#e1e646"/>
<polygon points="205.4,341.7 209.5,335.3 205.5,334.9 201.4,341.1" fill="#f5d550"/>
<polygon points="62.9,373.5 66.8,371 62.8,366.5 58.9,368.7" fill="#11ef65"/>
<polygon points="70.8,375.5 74.7,372.8 70.7,368.5 66.8,371" fill="#0eef75"/>
<polygon points="78.7,377.2 82.6,374.2 78.7,370.1 74.7,372.8" fill="#0cee82"/>
<polygon points="94.5,379 98.4,375.6 94.4,372 90.5,375.1" fill="#0aee8e"/>
<polygon points="110.2,379.1 114.1,375.2 110.2,372 106.3,375.7" fill="#0bee8b"/>
<polygon points="118.1,378.5 122,374.4 118,371.4 114.1,375.2" fill="#0cee83"/>
<polygon points="133.8,375.9 137.7,371.3 133.8,368.8 129.8,373.1" fill="#10ef67"/>
<polygon points="149.5,371.4 153.5,366.5 149.6,364.4 145.6,369.1" fill="#1fef45"/>
<polygon points="157.4,368.5 161.4,363.4 157.5,361.5 153.5,366.5" fill="#2cee38"/>
<polygon points="173.3,361.4 177.3,355.8 173.4,354.5 169.4,359.8" fill="#4dec17"/>
<polygon points="181.3,357.1 185.3,351.3 181.4,350.2 177.3,355.8" fill="#7cec20"/>
<polygon points="189.3,352.4 193.3,346.4 189.4,345.6 185.3,351.3" fill="#b3ec2f"/>
<polygon points="66.9,378.3 70.8,375.5 66.8,371 62.9,373.5" fill="#0cee7f"/>
<polygon points="74.8,380.1 78.7,377.2 74.7,372.8 70.8,375.5" fill="#0aee8e"/>
<polygon points="82.7,381.5 86.6,378.3 82.6,374.2 78.7,377.2" fill="#08ee98"/>
<polygon points="98.4,383 102.3,379.3 98.4,375.6 94.5,379" fill="#07eda1"/>
<polygon points="122,381.7 125.9,377.4 122,374.4 118.1,378.5" fill="#0aee8f"/>
<polygon points="129.8,380.4 133.8,375.9 129.8,373.1 125.9,377.4" fill="#0cee81"/>
<polygon points="137.7,378.6 141.6,373.9 137.7,371.3 133.8,375.9" fill="#0fef6f"/>
<polygon points="161.4,370.6 165.4,365.2 161.4,363.4 157.4,368.5" fill="#2bee39"/>
<polygon points="169.3,367 173.3,361.4 169.4,359.8 165.4,365.2" fill="#3ced28"/>
<polygon points="185.2,358.5 189.3,352.4 185.3,351.3 181.3,357.1" fill="#81ec21"/>
<polygon points="193.3,353.5 197.3,347.3 193.3,346.4 189.3,352.4" fill="#b9eb32"/>
<polygon points="201.3,348.1 205.4,341.7 201.4,341.1 197.3,347.3" fill="#e8e54a"/>
<polygon points="90.6,382.5 94.5,379 90.5,375.1 86.6,378.3" fill="#07ed9e"/>
<polygon points="106.3,383 110.2,379.1 106.3,375.7 102.3,379.3" fill="#07ed9f"/>
<polygon points="114.1,382.6 118.1,378.5 114.1,375.2 110.2,379.1" fill="#08ee99"/>
<polygon points="145.6,376.4 149.5,371.4 145.6,369.1 141.6,373.9" fill="#13f058"/>
<polygon points="153.5,373.7 157.4,368.5 153.5,366.5 149.5,371.4" fill="#1def47"/>
<polygon points="177.3,363 181.3,357.1 177.3,355.8 173.3,361.4" fill="#4eec16"/>
<polygon points="70.9,383.1 74.8,380.1 70.8,375.5 66.9,378.3" fill="#08ee9a"/>
<polygon points="78.8,384.7 82.7,381.5 78.7,377.2 74.8,380.1" fill="#06eda6"/>
<polygon points="102.4,386.9 106.3,383 102.3,379.3 98.4,383" fill="#04edb3"/>
<polygon points="110.2,386.7 114.1,382.6 110.2,379.1 106.3,383" fill="#05edaf"/>
<polygon points="149.5,379 153.5,373.7 149.5,371.4 145.6,376.4" fill="#12f05e"/>
<polygon points="189.2,359.8 193.3,353.5 189.3,352.4 185.2,358.5" fill="#87ec22"/>
<polygon points="86.7,385.9 90.6,382.5 86.6,378.3 82.7,381.5" fill="#05edaf"/>
<polygon points="94.5,386.6 98.4,383 94.5,379 90.6,382.5" fill="#04edb3"/>
<polygon points="118.1,386.1 122,381.7 118.1,378.5 114.1,382.6" fill="#06eda7"/>
<polygon points="125.9,385 129.8,380.4 125.9,377.4 122,381.7" fill="#08ee9b"/>
<polygon points="133.8,383.4 137.7,378.6 133.8,375.9 129.8,380.4" fill="#0bee8b"/>
<polygon points="157.4,376 161.4,370.6 157.4,368.5 153.5,373.7" fill="#1bf049"/>
<polygon points="165.3,372.7 169.3,367 165.4,365.2 161.4,370.6" fill="#2aef3a"/>
<polygon points="173.3,368.8 177.3,363 173.3,361.4 169.3,367" fill="#3ced28"/>
<polygon points="181.2,364.6 185.2,358.5 181.3,357.1 177.3,363" fill="#4fec15"/>
<polygon points="197.2,354.6 201.3,348.1 197.3,347.3 193.3,353.5" fill="#bfea35"/>
<polygon points="141.6,381.4 145.6,376.4 141.6,373.9 137.7,378.6" fill="#0eef77"/>
<polygon points="74.9,388 78.8,384.7 74.8,380.1 70.9,383.1" fill="#04edb4"/>
<polygon points="82.8,389.4 86.7,385.9 82.7,381.5 78.8,384.7" fill="#02ecbf"/>
<polygon points="90.7,390.3 94.5,386.6 90.6,382.5 86.7,385.9" fill="#01ecc5"/>
<polygon points="98.5,390.8 102.4,386.9 98.4,383 94.5,386.6" fill="#01ecc7"/>
<polygon points="106.3,390.9 110.2,386.7 106.3,383 102.4,386.9" fill="#01ecc5"/>
<polygon points="114.2,390.4 118.1,386.1 114.1,382.6 110.2,386.7" fill="#02ecbf"/>
<polygon points="137.7,386.5 141.6,381.4 137.7,378.6 133.8,383.4" fill="#09ee95"/>
<polygon points="145.6,384.2 149.5,379 145.6,376.4 141.6,381.4" fill="#0cee7f"/>
<polygon points="153.4,381.5 157.4,376 153.5,373.7 149.5,379" fill="#11ef65"/>
<polygon points="177.2,370.7 181.2,364.6 177.3,363 173.3,368.8" fill="#3ced28"/>
<polygon points="185.2,366.2 189.2,359.8 185.2,358.5 181.2,364.6" fill="#51ec14"/>
<polygon points="193.2,361.2 197.2,354.6 193.3,353.5 189.2,359.8" fill="#8cec24"/>
<polygon points="122,389.6 125.9,385 122,381.7 118.1,386.1" fill="#04edb5"/>
<polygon points="129.9,388.2 133.8,383.4 129.8,380.4 125.9,385" fill="#06eda7"/>
<polygon points="161.3,378.4 165.3,372.7 161.4,370.6 157.4,376" fill="#19f04b"/>
<polygon points="169.3,374.8 173.3,368.8 169.3,367 165.3,372.7" fill="#29ef3b"/>
<polygon points="181.1,372.5 185.2,366.2 181.2,364.6 177.2,370.7" fill="#3ced28"/>
<polygon points="78.9,392.8 82.8,389.4 78.8,384.7 74.9,388" fill="#00ebce"/>
<polygon points="86.8,394 90.7,390.3 86.7,385.9 82.8,389.4" fill="#03e8d1"/>
<polygon points="94.6,394.8 98.5,390.8 94.5,386.6 90.7,390.3" fill="#04e7d3"/>
<polygon points="102.5,395 106.3,390.9 102.4,386.9 98.5,390.8" fill="#04e7d3"/>
<polygon points="110.3,394.8 114.2,390.4 110.2,386.7 106.3,390.9" fill="#03e8d2"/>
<polygon points="118.1,394.2 122,389.6 118.1,386.1 114.2,390.4" fill="#01ebce"/>
<polygon points="133.8,391.5 137.7,386.5 133.8,383.4 129.9,388.2" fill="#04edb4"/>
<polygon points="141.6,389.5 145.6,384.2 141.6,381.4 137.7,386.5" fill="#07ed9f"/>
<polygon points="149.5,387 153.4,381.5 149.5,379 145.6,384.2" fill="#0bee87"/>
<polygon points="157.4,384.1 161.3,378.4 157.4,376 153.4,381.5" fill="#10ef6b"/>
<polygon points="173.2,376.8 177.2,370.7 173.3,368.8 169.3,374.8" fill="#28ef3c"/>
<polygon points="189.1,367.7 193.2,361.2 189.2,359.8 185.2,366.2" fill="#53ec15"/>
<polygon points="125.9,393.1 129.9,388.2 125.9,385 122,389.6" fill="#01ecc4"/>
<polygon points="165.3,380.7 169.3,374.8 165.3,372.7 161.3,378.4" fill="#17f04d"/>
<polygon points="122,398 125.9,393.1 122,389.6 118.1,394.2" fill="#05e5d5"/>
<polygon points="145.6,392.6 149.5,387 145.6,384.2 141.6,389.5" fill="#06edaa"/>
<polygon points="177.1,378.9 181.1,372.5 177.2,370.7 173.2,376.8" fill="#27ef3d"/>
<polygon points="185.1,374.4 189.1,367.7 185.2,366.2 181.1,372.5" fill="#3ced28"/>
<polygon points="82.9,397.8 86.8,394 82.8,389.4 78.9,392.8" fill="#08e2d9"/>
<polygon points="90.7,398.7 94.6,394.8 90.7,390.3 86.8,394" fill="#0ae0dc"/>
<polygon points="98.6,399.2 102.5,395 98.5,390.8 94.6,394.8" fill="#0adfdd"/>
<polygon points="106.4,399.3 110.3,394.8 106.3,390.9 102.5,395" fill="#0adfdc"/>
<polygon points="114.2,398.8 118.1,394.2 114.2,390.4 110.3,394.8" fill="#08e2d9"/>
<polygon points="129.9,396.6 133.8,391.5 129.9,388.2 125.9,393.1" fill="#01eacf"/>
<polygon points="137.7,394.8 141.6,389.5 137.7,386.5 133.8,391.5" fill="#02ecc0"/>
<polygon points="153.4,389.8 157.4,384.1 153.4,381.5 149.5,387" fill="#0aee8f"/>
<polygon points="161.3,386.7 165.3,380.7 161.3,378.4 157.4,384.1" fill="#0fef71"/>
<polygon points="169.2,383 173.2,376.8 169.3,374.8 165.3,380.7" fill="#15f04f"/>
<polygon points="86.9,402.7 90.7,398.7 86.8,394 82.9,397.8" fill="#0fd8e5"/>
<polygon points="94.7,403.4 98.6,399.2 94.6,394.8 90.7,398.7" fill="#10d7e6"/>
<polygon points="102.5,403.7 106.4,399.3 102.5,395 98.6,399.2" fill="#10d7e7"/>
<polygon points="110.3,403.5 114.2,398.8 110.3,394.8 106.4,399.3" fill="#0fd8e5"/>
<polygon points="118.1,402.9 122,398 118.1,394.2 114.2,398.8" fill="#0ddbe1"/>
<polygon points="126,401.7 129.9,396.6 125.9,393.1 122,398" fill="#0adfdc"/>
<polygon points="141.6,398.1 145.6,392.6 141.6,389.5 137.7,394.8" fill="#00eccc"/>
<polygon points="149.5,395.6 153.4,389.8 149.5,387 145.6,392.6" fill="#04edb4"/>
<polygon points="165.2,389.3 169.2,383 165.3,380.7 161.3,386.7" fill="#0eef77"/>
<polygon points="173.1,385.4 177.1,378.9 173.2,376.8 169.2,383" fill="#14f053"/>
<polygon points="181.1,381 185.1,374.4 181.1,372.5 177.1,378.9" fill="#26ef3e"/>
<polygon points="133.8,400.2 137.7,394.8 133.8,391.5 129.9,396.6" fill="#05e5d5"/>
<polygon points="157.3,392.7 161.3,386.7 157.4,384.1 153.4,389.8" fill="#09ee97"/>
<polygon points="90.8,407.7 94.7,403.4 90.7,398.7 86.9,402.7" fill="#16cff0"/>
<polygon points="98.6,408.2 102.5,403.7 98.6,399.2 94.7,403.4" fill="#17cef1"/>
<polygon points="122.1,406.9 126,401.7 122,398 118.1,402.9" fill="#12d4e9"/>
<polygon points="129.9,405.6 133.8,400.2 129.9,396.6 126,401.7" fill="#0ed9e3"/>
<polygon points="169.1,391.8 173.1,385.4 169.2,383 165.2,389.3" fill="#0def7d"/>
<polygon points="106.5,408.2 110.3,403.5 106.4,399.3 102.5,403.7" fill="#17cef0"/>
<polygon points="114.3,407.8 118.1,402.9 114.2,398.8 110.3,403.5" fill="#15d1ee"/>
<polygon points="137.7,403.7 141.6,398.1 137.7,394.8 133.8,400.2" fill="#09e0db"/>
<polygon points="145.5,401.5 149.5,395.6 145.6,392.6 141.6,398.1" fill="#03e8d2"/>
<polygon points="153.4,398.7 157.3,392.7 153.4,389.8 149.5,395.6" fill="#02ecbe"/>
<polygon points="161.3,395.5 165.2,389.3 161.3,386.7 157.3,392.7" fill="#07eda0"/>
<polygon points="177.1,387.7 181.1,381 177.1,378.9 173.1,385.4" fill="#13f057"/>
<polygon points="94.8,412.6 98.6,408.2 94.7,403.4 90.8,407.7" fill="#1ec5fb"/>
<polygon points="102.6,412.9 106.5,408.2 102.5,403.7 98.6,408.2" fill="#1ec5fc"/>
<polygon points="110.4,412.7 114.3,407.8 110.3,403.5 106.5,408.2" fill="#1dc6fa"/>
<polygon points="118.2,412.1 122.1,406.9 118.1,402.9 114.3,407.8" fill="#1bc9f6"/>
<polygon points="126,411 129.9,405.6 126,401.7 122.1,406.9" fill="#17cef1"/>
<polygon points="133.8,409.4 137.7,403.7 133.8,400.2 129.9,405.6" fill="#13d3ea"/>
<polygon points="149.5,404.8 153.4,398.7 149.5,395.6 145.5,401.5" fill="#07e3d7"/>
<polygon points="157.3,401.8 161.3,395.5 157.3,392.7 153.4,398.7" fill="#01ecc8"/>
<polygon points="165.2,398.4 169.1,391.8 165.2,389.3 161.3,395.5" fill="#06eda8"/>
<polygon points="173.1,394.5 177.1,387.7 173.1,385.4 169.1,391.8" fill="#0cee83"/>
<polygon points="141.6,407.3 145.5,401.5 141.6,398.1 137.7,403.7" fill="#0ddbe2"/>
<polygon points="161.2,404.9 165.2,398.4 161.3,395.5 157.3,401.8" fill="#02eacf"/>
<polygon points="98.7,417.7 102.6,412.9 98.6,408.2 94.8,412.6" fill="#25baff"/>
<polygon points="106.5,417.7 110.4,412.7 106.5,408.2 102.6,412.9" fill="#25bbff"/>
<polygon points="114.3,417.3 118.2,412.1 114.3,407.8 110.4,412.7" fill="#23bdff"/>
<polygon points="129.9,415 133.8,409.4 129.9,405.6 126,411" fill="#1cc7f9"/>
<polygon points="137.7,413.2 141.6,407.3 137.7,403.7 133.8,409.4" fill="#17cdf1"/>
<polygon points="145.5,410.9 149.5,404.8 145.5,401.5 141.6,407.3" fill="#11d5e8"/>
<polygon points="153.4,408.2 157.3,401.8 153.4,398.7 149.5,404.8" fill="#0adfdd"/>
<polygon points="169.1,401.2 173.1,394.5 169.1,391.8 165.2,398.4" fill="#05edb0"/>
<polygon points="122.1,416.4 126,411 122.1,406.9 118.2,412.1" fill="#20c2ff"/>
<polygon points="141.6,417.1 145.5,410.9 141.6,407.3 137.7,413.2" fill="#1cc7f8"/>
<polygon points="165.1,408.1 169.1,401.2 165.2,398.4 161.2,404.9" fill="#04e6d4"/>
<polygon points="102.7,422.7 106.5,417.7 102.6,412.9 98.7,417.7" fill="#2daeff"/>
<polygon points="110.5,422.5 114.3,417.3 110.4,412.7 106.5,417.7" fill="#2cb0ff"/>
<polygon points="118.2,421.9 122.1,416.4 118.2,412.1 114.3,417.3" fill="#2ab3ff"/>
<polygon points="133.8,419.1 137.7,413.2 133.8,409.4 129.9,415" fill="#21c0ff"/>
<polygon points="157.3,411.5 161.2,404.9 157.3,401.8 153.4,408.2" fill="#0ddbe2"/>
<polygon points="126,420.7 129.9,415 126,411 122.1,416.4" fill="#26b9ff"/>
<polygon points="149.4,414.5 153.4,408.2 149.5,404.8 145.5,410.9" fill="#15d0ee"/>
<polygon points="106.6,427.8 110.5,422.5 106.5,417.7 102.7,422.7" fill="#35a2ff"/>
<polygon points="114.4,427.4 118.2,421.9 114.3,417.3 110.5,422.5" fill="#33a5ff"/>
<polygon points="122.2,426.5 126,420.7 122.1,416.4 118.2,421.9" fill="#30a9ff"/>
<polygon points="129.9,425.1 133.8,419.1 129.9,415 126,420.7" fill="#2cb0ff"/>
<polygon points="137.7,423.3 141.6,417.1 137.7,413.2 133.8,419.1" fill="#27b8ff"/>
<polygon points="145.5,421 149.4,414.5 145.5,410.9 141.6,417.1" fill="#20c1ff"/>
<polygon points="161.2,414.9 165.1,408.1 161.2,404.9 157.3,411.5" fill="#11d6e7"/>
<polygon points="153.3,418.2 157.3,411.5 153.4,408.2 149.4,414.5" fill="#19cbf4"/>
<polygon points="141.6,427.4 145.5,421 141.6,417.1 137.7,423.3" fill="#2cafff"/>
<polygon points="149.4,424.8 153.3,418.2 149.4,414.5 145.5,421" fill="#25baff"/>
<polygon points="110.5,432.9 114.4,427.4 110.5,422.5 106.6,427.8" fill="#3d97ff"/>
<polygon points="118.3,432.2 122.2,426.5 118.2,421.9 114.4,427.4" fill="#3b9aff"/>
<polygon points="126.1,431.1 129.9,425.1 126,420.7 122.2,426.5" fill="#379fff"/>
<polygon points="133.8,429.5 137.7,423.3 133.8,419.1 129.9,425.1" fill="#32a7ff"/>
<polygon points="157.2,421.8 161.2,414.9 157.3,411.5 153.3,418.2" fill="#1dc6fa"/>
<polygon points="122.2,437.1 126.1,431.1 122.2,426.5 118.3,432.2" fill="#4290ff"/>
<polygon points="130,435.7 133.8,429.5 129.9,425.1 126.1,431.1" fill="#3e95ff"/>
<polygon points="153.3,428.8 157.2,421.8 153.3,418.2 149.4,424.8" fill="#2ab3ff"/>
<polygon points="114.4,438 118.3,432.2 114.4,427.4 110.5,432.9" fill="#468efe"/>
<polygon points="137.7,433.9 141.6,427.4 137.7,423.3 133.8,429.5" fill="#389dff"/>
<polygon points="145.5,431.6 149.4,424.8 145.5,421 141.6,427.4" fill="#32a7ff"/>
<polygon points="118.4,443.2 122.2,437.1 118.3,432.2 114.4,438" fill="#4f87fd"/>
<polygon points="126.1,442 130,435.7 126.1,431.1 122.2,437.1" fill="#4b8afe"/>
<polygon points="133.9,440.4 137.7,433.9 133.8,429.5 130,435.7" fill="#458efe"/>
<polygon points="141.6,438.3 145.5,431.6 141.6,427.4 137.7,433.9" fill="#3e94ff"/>
<polygon points="149.4,435.7 153.3,428.8 149.4,424.8 145.5,431.6" fill="#379fff"/>
<polygon points="122.3,448.4 126.1,442 122.2,437.1 118.4,443.2" fill="#5881fc"/>
<polygon points="130,447 133.9,440.4 130,435.7 126.1,442" fill="#5384fd"/>
<polygon points="137.7,445.1 141.6,438.3 137.7,433.9 133.9,440.4" fill="#4d89fe"/>
<polygon points="145.5,442.8 149.4,435.7 145.5,431.6 141.6,438.3" fill="#458efe"/>
<polygon points="126.1,453.6 130,447 126.1,442 122.3,448.4" fill="#627afb"/>
<polygon points="133.9,452 137.7,445.1 133.9,440.4 130,447" fill="#5c7efc"/>
<polygon points="141.6,449.8 145.5,442.8 141.6,438.3 137.7,445.1" fill="#5583fd"/>
<polygon points="130,458.8 133.9,452 130,447 126.1,453.6" fill="#6b74fb"/>
<polygon points="137.8,457 141.6,449.8 137.7,445.1 133.9,452" fill="#6578fb"/>
<polygon points="133.9,464.1 137.8,457 133.9,452 130,458.8" fill="#726ff9"/>
</g>
<circle cx="56.7" cy="423.6" r="0.95" fill="#000"/>
<circle cx="56" cy="400.4" r="0.95" fill="#000"/>
<circle cx="55.3" cy="377.1" r="0.95" fill="#000"/>
<circle cx="54.5" cy="353.9" r="0.95" fill="#000"/>
<circle cx="53.8" cy="330.6" r="0.95" fill="#000"/>
<circle cx="53.1" cy="307.4" r="0.95" fill="#000"/>
<circle cx="133.9" cy="513.5" r="0.95" fill="#000"/>
<circle cx="114.9" cy="500.2" r="0.95" fill="#000"/>
<circle cx="95.9" cy="486.9" r="0.95" fill="#000"/>
<circle cx="76.9" cy="473.5" r="0.95" fill="#000"/>
<circle cx="57.9" cy="460.2" r="0.95" fill="#000"/>
<circle cx="133.9" cy="513.5" r="0.95" fill="#000"/>
<circle cx="146.5" cy="504.6" r="0.95" fill="#000"/>
<circle cx="159.1" cy="495.7" r="0.95" fill="#000"/>
<circle cx="171.6" cy="486.8" r="0.95" fill="#000"/>
<circle cx="184.2" cy="477.9" r="0.95" fill="#000"/>
<circle cx="196.8" cy="469" r="0.95" fill="#000"/>
<circle cx="209.4" cy="460.1" r="0.95" fill="#000"/>
<text x="51.3" y="420.2" font-family="Liberation Sans, Arial, sans-serif" font-size="9" fill="#2a2a2a" text-anchor="middle" textLength="3.4" lengthAdjust="spacingAndGlyphs">0</text>
<text x="50.6" y="397" font-family="Liberation Sans, Arial, sans-serif" font-size="9" fill="#2a2a2a" text-anchor="middle" textLength="3.4" lengthAdjust="spacingAndGlyphs">2</text>
<text x="49.9" y="373.7" font-family="Liberation Sans, Arial, sans-serif" font-size="9" fill="#2a2a2a" text-anchor="middle" textLength="3.4" lengthAdjust="spacingAndGlyphs">4</text>
<text x="49.1" y="350.5" font-family="Liberation Sans, Arial, sans-serif" font-size="9" fill="#2a2a2a" text-anchor="middle" textLength="3.4" lengthAdjust="spacingAndGlyphs">6</text>
<text x="48.4" y="327.2" font-family="Liberation Sans, Arial, sans-serif" font-size="9" fill="#2a2a2a" text-anchor="middle" textLength="3.4" lengthAdjust="spacingAndGlyphs">8</text>
<text x="46.5" y="304.6" font-family="Liberation Sans, Arial, sans-serif" font-size="9" fill="#2a2a2a" text-anchor="middle" textLength="6.3" lengthAdjust="spacingAndGlyphs">10</text>
<text x="127.1" y="522.9" font-family="Liberation Sans, Arial, sans-serif" font-size="9" fill="#2a2a2a" text-anchor="middle" textLength="8" lengthAdjust="spacingAndGlyphs">6.8</text>
<text x="108.1" y="509.6" font-family="Liberation Sans, Arial, sans-serif" font-size="9" fill="#2a2a2a" text-anchor="middle" textLength="8" lengthAdjust="spacingAndGlyphs">7.2</text>
<text x="89.1" y="496.3" font-family="Liberation Sans, Arial, sans-serif" font-size="9" fill="#2a2a2a" text-anchor="middle" textLength="8" lengthAdjust="spacingAndGlyphs">7.6</text>
<text x="70.1" y="482.9" font-family="Liberation Sans, Arial, sans-serif" font-size="9" fill="#2a2a2a" text-anchor="middle" textLength="3.6" lengthAdjust="spacingAndGlyphs">8</text>
<text x="51.1" y="469.6" font-family="Liberation Sans, Arial, sans-serif" font-size="9" fill="#2a2a2a" text-anchor="middle" textLength="8" lengthAdjust="spacingAndGlyphs">8.4</text>
<text x="139.1" y="522.7" font-family="Liberation Sans, Arial, sans-serif" font-size="9" fill="#2a2a2a" text-anchor="middle" textLength="3.6" lengthAdjust="spacingAndGlyphs">6</text>
<text x="151.7" y="513.8" font-family="Liberation Sans, Arial, sans-serif" font-size="9" fill="#2a2a2a" text-anchor="middle" textLength="3.6" lengthAdjust="spacingAndGlyphs">9</text>
<text x="165.7" y="504.9" font-family="Liberation Sans, Arial, sans-serif" font-size="9" fill="#2a2a2a" text-anchor="middle" textLength="6.8" lengthAdjust="spacingAndGlyphs">12</text>
<text x="178.2" y="496" font-family="Liberation Sans, Arial, sans-serif" font-size="9" fill="#2a2a2a" text-anchor="middle" textLength="6.8" lengthAdjust="spacingAndGlyphs">15</text>
<text x="190.8" y="487.1" font-family="Liberation Sans, Arial, sans-serif" font-size="9" fill="#2a2a2a" text-anchor="middle" textLength="6.8" lengthAdjust="spacingAndGlyphs">18</text>
<text x="203.4" y="478.2" font-family="Liberation Sans, Arial, sans-serif" font-size="9" fill="#2a2a2a" text-anchor="middle" textLength="6.8" lengthAdjust="spacingAndGlyphs">21</text>
<text x="216" y="469.3" font-family="Liberation Sans, Arial, sans-serif" font-size="9" fill="#2a2a2a" text-anchor="middle" textLength="6.8" lengthAdjust="spacingAndGlyphs">24</text>
<text x="66.8" y="511.5" font-family="Liberation Sans, Arial, sans-serif" font-size="8.6" fill="#2a2a2a" text-anchor="middle" textLength="15.4" lengthAdjust="spacingAndGlyphs">C: pH</text>
<text x="201.5" y="510.7" font-family="Liberation Sans, Arial, sans-serif" font-size="8.6" fill="#2a2a2a" text-anchor="middle" textLength="45.8" lengthAdjust="spacingAndGlyphs">A: Voltage (Volts)</text>
<text x="0" y="2.8" font-family="Liberation Sans, Arial, sans-serif" font-size="8" fill="#2a2a2a" text-anchor="middle" textLength="138" lengthAdjust="spacing" transform="translate(28.8 385.7) rotate(-90)">Electrode consumption ((mg L−1))</text>
<line x1="133.7" y1="319.5" x2="133.7" y2="323.2" stroke="#333" stroke-width="0.7"/>
<line x1="120.4" y1="367" x2="120.6" y2="380" stroke="#9ad0a0" stroke-width="0.6"/>
<ellipse cx="56.3" cy="392.1" rx="1.6" ry="2.3" fill="#f4c8c8" stroke="#6a4040" stroke-width="0.6"/>
<ellipse cx="213.1" cy="352.6" rx="1.6" ry="2.3" fill="#f4c8c8" stroke="#6a4040" stroke-width="0.6"/>
<ellipse cx="120.3" cy="364.6" rx="1.8" ry="2.5" fill="#ffffff" stroke="#5a1010" stroke-width="0.8"/>
<ellipse cx="133.7" cy="317.6" rx="1.8" ry="2.4" fill="#e80000" stroke="#700000" stroke-width="0.6"/>
<ellipse cx="133.7" cy="451.7" rx="1.8" ry="2.4" fill="#e80000" stroke="#700000" stroke-width="0.6"/>
<rect x="351" y="284.8" width="174" height="210.9" fill="#0002f2"/>
<path d="M352.5,495.7 525,495.7 525,284.8 351,284.8 351,495.7 352.5,495.7Z" fill="#0005f5"/>
<path d="M353.9,495.7 525,495.7 525,284.8 351,284.8 351,490.8 353.5,495.7 353.9,495.7Z" fill="#0007f7"/>
<path d="M355.4,494.4 356,495.7 525,495.7 525,284.8 351,284.8 351,485.7 355.4,494.4Z" fill="#0009f9"/>
<path d="M358.3,495.2 358.5,495.7 525,495.7 525,284.8 351,284.8 351,480.6 358.3,495.2Z" fill="#000bfb"/>
<path d="M361.2,495.7 525,495.7 525,284.8 351,284.8 351,475.5 361.2,495.7Z" fill="#000dfd"/>
<path d="M364.2,495.7 525,495.7 525,284.8 351,284.8 351,470.4 357.8,483.3 363.6,495.7 364.2,495.7Z" fill="#000fff"/>
<path d="M365.6,494.5 366.1,495.7 525,495.7 525,284.8 351,284.8 351,465.3 358.7,479.7 365.6,494.5Z" fill="#0016ff"/>
<path d="M368.5,495.4 368.7,495.7 525,495.7 525,284.8 351,284.8 351,460.3 359.8,476.4 368.5,495.4Z" fill="#001dff"/>
<path d="M371.5,495.7 525,495.7 525,284.8 351,284.8 351,455.2 360.7,472.7 371.5,495.7Z" fill="#0023ff"/>
<path d="M374.4,495.7 525,495.7 525,284.8 351,284.8 351,450.1 361.7,469.1 367.7,481.5 373.8,495.7 374.4,495.7Z" fill="#002aff"/>
<path d="M375.9,494.6 376.3,495.7 525,495.7 525,284.8 351,284.8 351,445 358,456.7 364.2,468.3 370,480.7 375.9,494.6Z" fill="#0031ff"/>
<path d="M378.8,495.6 525,495.7 525,284.8 351,284.8 351,439.9 358.3,451.8 365.7,465.6 372.3,479.7 378.8,495.6Z" fill="#0038ff"/>
<path d="M381.7,495.7 525,495.7 525,284.8 351,284.8 351,434.8 359.1,447.8 366.8,462 373.5,476.2 381.4,495.7 381.7,495.7Z" fill="#0041ff"/>
<path d="M384.6,495.7 525,495.7 525,284.8 351,284.8 351,429.7 359.8,443.4 368,458.5 376.3,476.2 383.9,495.7 384.6,495.7Z" fill="#004bff"/>
<path d="M386.1,494.7 386.4,495.7 525,495.7 525,284.8 351,284.8 351,424.6 361.2,440.3 370,456.4 378.3,474.4 386.1,494.7Z" fill="#0056ff"/>
<path d="M389,495.7 525,495.7 525,284.8 351,284.8 351,419.5 361.6,435.4 371.5,453.2 380.3,472.7 389,495.7Z" fill="#0061ff"/>
<path d="M391.9,495.7 525,495.7 525,284.8 351,284.8 351,414.4 356.8,422.5 362.7,431.5 372.9,449.9 381.7,469.1 386.6,481.5 391.5,495.7 391.9,495.7Z" fill="#006bff"/>
<path d="M394.9,495.7 525,495.7 525,284.8 351,284.8 351,409.3 357.3,417.7 363.2,426.6 368.5,435.6 374.2,446.1 383.1,465.6 388.6,479.7 394.1,495.7 394.9,495.7Z" fill="#0076ff"/>
<path d="M396.3,494.8 396.6,495.7 525,495.7 525,284.8 351,284.8 351,404.2 358.3,413.8 364.5,423 370.9,433.7 376.5,444.3 381.7,455.3 386.7,467.3 391.9,481.4 396.3,494.8Z" fill="#0081ff"/>
<path d="M399.3,495.7 525,495.7 525,284.8 351,284.8 351,399.1 358.7,408.9 365.6,418.9 372.4,430.1 378,440.8 383.8,453.2 389,465.7 394.1,479.7 399.3,495.7Z" fill="#008fff"/>
<path d="M402.2,495.7 525,495.7 525,284.8 351,284.8 351,394 358.8,403.5 366.3,414.2 372.9,424.8 379.6,437.2 385.4,449.6 390.5,462 396.3,478.3 401.7,495.7 402.2,495.7Z" fill="#009dff"/>
<path d="M405.1,495.7 525,495.7 525,284.8 351,284.8 351,388.9 358.9,398.2 367.1,409.4 374.4,421 381.2,433.7 387,446.1 392.1,458.5 398.4,476.2 404.2,495.7 405.1,495.7Z" fill="#00abff"/>
<path d="M406.6,494.9 406.8,495.7 525,495.7 525,284.8 351,284.8 351,383.8 359.8,393.8 368.4,405.3 376.2,417.7 383.2,430.6 389.5,444.3 395.8,460.3 401.2,476.2 406.6,494.9Z" fill="#00baff"/>
<path d="M409.5,495.7 525,495.7 525,284.8 351,284.8 351,378.6 360.7,389.4 368.8,400 376.9,412.4 384.7,426.6 391.3,440.8 397.8,457.4 403.4,474.4 409.5,495.7Z" fill="#00c8ff"/>
<path d="M412.4,495.7 525,495.7 525,284.8 351,284.8 351,373.5 361.2,384.4 370.7,396.5 378.8,408.9 386.6,423 393.1,437.2 399.3,453.2 405.7,472.7 411.9,495.7 412.4,495.7Z" fill="#00d6ff"/>
<path d="M415.3,495.7 525,495.7 525,284.8 351,284.8 351,368.4 361.2,378.8 371.5,391.4 380.2,404.5 388.5,419.5 395,433.7 401.2,449.6 408,471 414.4,495.7 415.3,495.7Z" fill="#00e2fd"/>
<path d="M416.8,495.1 416.9,495.7 525,495.7 525,284.8 351,284.8 351,363.3 362.7,374.8 372.9,387.1 381.7,400 390.5,415.9 397.8,432 405,451.4 411.3,472.7 416.8,495.1Z" fill="#00eefc"/>
<path d="M419.7,495.7 525,495.7 525,284.8 351,284.8 351,358.2 363.4,369.9 374,382.3 383.8,396.5 392.7,412.4 399.8,428.4 406.9,447.8 413.2,469.1 419.7,495.7Z" fill="#00fafb"/>
<path d="M422.6,495.7 525,495.7 525,284.8 351,284.8 351,353 363.9,364.6 374.9,377 385,391.1 394,407.1 402,424.8 409,444.3 416.1,469.1 422,495.7 422.6,495.7Z" fill="#00ffef"/>
<path d="M425.6,495.7 525,495.7 525,284.8 351,284.8 351,347.9 358.3,353.8 364.2,359.1 370,365 375.9,371.7 386.2,385.8 391.6,394.7 396.3,403.5 404.2,421.3 411.2,440.8 418.3,466.3 424.6,495.7 425.6,495.7Z" fill="#00ffdb"/>
<path d="M427,495.3 427.1,495.7 525,495.7 525,284.8 351,284.8 351,342.8 358.6,348.6 365.6,354.7 372.1,361 378.3,368.1 383.9,375.2 389,382.7 394.1,391.1 398.8,400 402.9,408.9 407.3,419.5 414.5,440.8 421.2,466.4 427,495.3Z" fill="#00ffc8"/>
<path d="M430,495.7 525,495.7 525,284.8 351,284.8 351,337.7 358.3,342.9 365.6,348.8 372.9,355.6 379.5,362.8 385.2,369.9 390.5,377.3 395.7,385.8 400.7,395.1 405.1,404.5 409.5,415.3 416.8,437.3 423.1,462 429.6,495.7 430,495.7Z" fill="#00ffb9"/>
<path d="M432.9,495.7 525,495.7 525,284.8 351,284.8 351,332.5 359.1,338 367.1,344.1 374,350.4 380.2,356.8 386.1,363.7 391.9,371.7 397.5,380.5 402.4,389.4 406.6,398.2 411,408.9 414.8,419.5 418.7,431.9 425,456.7 428.9,476.2 432.2,495.7 432.9,495.7Z" fill="#00ffac"/>
<path d="M435.8,495.7 525,495.7 525,284.8 351,284.8 351,327.4 359.8,332.9 368.5,339.3 375.9,345.7 382.3,352.1 389,359.9 394.9,367.9 400.5,377 405.1,385.5 409.5,394.8 413.7,405.3 417.4,415.9 421.2,428.4 424.9,442.5 428.5,459.1 431.7,476.2 434.7,495.7 435.8,495.7Z" fill="#00ff9f"/>
<path d="M437.3,495.6 525,495.7 525,284.8 351,284.8 351,322.3 361.2,328.3 371.5,335.5 380.2,343.1 387.6,350.7 394.9,359.7 401.6,369.9 407.5,380.5 413.1,392.9 417.2,403.5 420.7,414.2 426.9,437.2 432.4,463.8 437.3,495.6Z" fill="#00ff93"/>
<path d="M440.2,495.7 525,495.7 525,284.8 351,284.8 351,317.1 361.2,322.6 371.5,329.3 380.2,336.2 389,344.7 396.3,353.4 402.9,362.8 409,373.4 414.8,385.8 419,396.5 422.5,407.1 428.7,430.1 434.1,456.7 439.8,495.7 440.2,495.7Z" fill="#00ff86"/>
<path d="M443.1,495.7 525,495.7 525,284.8 351,284.8 351,312 362.7,317.8 372.9,324.1 382.1,330.9 390.5,338.6 397.8,346.8 405.1,356.9 410.9,366.8 416.7,378.7 420.9,389.4 424.5,400 428.1,412.4 431.1,424.8 434.3,440.5 437.3,457.4 442.4,495.7 443.1,495.7Z" fill="#00ff78"/>
<path d="M446,495.7 525,495.7 525,284.8 351,284.8 351,306.9 362.7,312.1 374.1,318.5 383.2,324.7 391.9,332.2 399.3,339.9 406.6,349.4 412.7,359.2 418.3,370.4 422.4,380.5 426.1,391.1 429.8,403.5 433.2,417.7 436.5,433.7 439.7,453.2 442.3,472.7 444.9,495.7 446,495.7Z" fill="#00ff6a"/>
<path d="M447.5,495.7 525,495.7 525,284.8 351,284.8 351,301.7 362.7,306.4 374.4,312.2 384.4,318.5 393.4,325.5 400.7,332.7 408,341.5 414.9,352.1 420.4,362.8 424.9,373.4 429.2,385.8 433.1,400 436.7,415.9 439.6,431.9 442.6,451.4 447.5,495.7Z" fill="#00ff5c"/>
<path d="M450.4,495.7 525,495.7 525,284.8 351,284.8 351,296.6 364.2,301.2 375.9,306.5 386.1,312.3 396.3,319.8 404.3,327.3 410.9,335.1 417.6,345.1 423.2,355.7 427.7,366.3 431.9,378.7 435.8,392.9 439.2,408.9 442,424.8 444.8,444.3 447.5,467.9 450,495.7 450.4,495.7Z" fill="#00ff4e"/>
<path d="M453.4,495.7 525,495.7 525,284.8 351,284.8 351,291.4 365.6,296 378.8,301.3 390.5,307.5 401,314.9 408,321.4 414.7,329.1 420.8,338 425.6,346.8 430.2,357.5 434.5,369.9 438.3,384 441.7,400 444.6,417.2 447.1,435.4 450,463.8 452.5,495.7 453.4,495.7Z" fill="#00ff42"/>
<path d="M456.3,495.7 525,495.7 525,284.8 351,284.8 351,286.3 368.5,291 383.2,296.3 392.4,300.8 401.2,306.1 409.5,312.6 416.8,320.1 422.6,327.9 428.5,338 433.2,348.6 437.5,361 441.2,375.2 444.8,392.9 448,414.2 450.7,437.2 453,463.8 455.1,495.7 456.3,495.7Z" fill="#00ff38"/>
<path d="M457.7,495.7 525,495.7 525,284.8 368.2,284.8 380.7,288.3 391.9,292.5 402.2,297.6 410.9,303.4 418.1,309.6 424.4,316.7 430.3,325.6 435.5,336.2 440,348.6 443.4,361 446.5,375.2 449.3,392.9 451.7,412.4 453.9,435.4 457.7,495.7Z" fill="#00ff2f"/>
<path d="M460.7,495.7 525,495.7 525,284.8 392.6,284.8 402.2,288.4 410.9,292.7 418.3,297.5 425.6,304 431.4,311 435.8,318 440.2,327.2 443.4,336.2 446.4,346.8 449.1,359.2 451.4,373.4 453.7,391.1 457,430.1 460.2,495.7 460.7,495.7Z" fill="#00ff25"/>
<path d="M463.6,495.7 525,495.7 525,284.8 417.2,284.8 424.1,288.6 430,293 434.3,297.3 438.7,302.9 442.6,309.6 445.8,316.7 448.7,325.6 451,334.4 453.1,345.1 454.9,357.5 458,387.6 460.7,433.4 462.7,495.7 463.6,495.7Z" fill="#00ff1b"/>
<path d="M466.5,495.7 525,495.7 525,284.8 442.1,284.8 445.4,288.3 447.9,291.9 450.4,296.6 452.8,302.5 454.8,309.2 456.5,316.7 459.1,334.4 461.3,359.2 462.9,392.9 464.2,437.2 465.3,495.7 466.5,495.7Z" fill="#00ff15"/>
<path d="M468,495.7 525,495.7 525,284.8 467.3,284.8 468,495.7Z" fill="#00ff10"/>
<path d="M470.9,495.7 525,495.7 525,284.8 492.7,284.8 488.4,289.5 484.7,295.4 481.7,302.5 479.6,309.6 477.4,320.2 475.4,334.4 474,350.4 472.9,369.9 471.8,400 471,437.2 470.4,495.7 470.9,495.7Z" fill="#00ff0a"/>
<path d="M473.8,495.7 525,495.7 525,284.8 518.4,284.8 514.8,286.6 506.4,291.9 500.1,297.7 495,304.3 491.1,311.4 487.5,320.2 484.4,330.9 481.9,343.3 479.8,357.5 477.9,375.2 476.4,394.7 474.9,424.8 473.6,463.8 472.9,495.7 473.8,495.7Z" fill="#00ff05"/>
<path d="M476.7,495.7 525,495.7 525,292.5 517.7,296.9 511.8,301.6 506,307.6 501.8,313.2 497.7,320.2 494.3,327.6 491.2,336.2 488.3,346.8 485.5,359.9 483.1,375.2 481.3,391.1 479.5,410.6 477.5,442.5 475.9,483.3 475.5,495.7 476.7,495.7Z" fill="#01ff00"/>
<path d="M478.2,495.7 525,495.7 525,302.8 518.7,307.8 513.4,313.2 508.9,318.7 504.5,325.5 500.8,332.7 497.2,341.2 494.3,349.9 491.7,359.2 489.4,369.9 487,383.5 483.2,414.2 480.1,453.2 478.2,495.7Z" fill="#10ff00"/>
<path d="M481.1,495.7 525,495.7 525,313.2 519.6,318.5 514.8,324.3 510.3,330.9 506.3,338 503,345.1 499.6,353.9 494.3,372.3 489.6,396.5 485.6,426.6 482.1,469.1 480.6,495.7 481.1,495.7Z" fill="#1eff00"/>
<path d="M484.1,495.7 525,495.7 525,323.5 520.6,328.6 516.2,334.6 512,341.5 508.4,348.6 502.1,364.6 496.6,384 491.8,408.9 488,437.2 485.7,460.3 483.7,486.8 483.1,495.7 484.1,495.7Z" fill="#2fff00"/>
<path d="M487,495.7 525,495.7 525,333.9 517.3,345.1 513.4,352.1 510.1,359.2 504.1,375.2 498.8,394.7 494,419.5 490.1,447.8 487.7,470.9 485.7,495.7 487,495.7Z" fill="#48ff00"/>
<path d="M488.4,495.7 525,495.7 525,344.3 518,355.7 511.8,368.9 506.4,384 501.6,401.4 497.4,421.3 493.8,444.3 490.4,472.7 488.4,495.7Z" fill="#61ff00"/>
<path d="M491.4,495.7 525,495.7 525,354.7 518.6,366.3 513.2,378.7 508.3,392.9 503.5,410.6 499.4,430.1 495.8,452.7 491.6,486.8 490.8,495.7 491.4,495.7Z" fill="#7aff00"/>
<path d="M494.3,495.7 525,495.7 525,365.1 519.2,376.9 514.1,389.4 509.5,403.5 505.3,419.5 501.2,439 497.5,462 493.3,495.7 494.3,495.7Z" fill="#93ff00"/>
<path d="M497.2,495.7 525,495.7 525,375.5 519.5,387.6 514.9,400 510.5,414.2 506.9,428.4 502.6,449.6 498.8,472.7 495.9,495.7 497.2,495.7Z" fill="#acff00"/>
<path d="M498.7,495.7 525,495.7 525,386 520.6,396.5 516.2,408.6 512.4,421.3 509.2,433.7 503.1,464.1 499.8,485.1 498.4,495.7 498.7,495.7Z" fill="#c0fe00"/>
<path d="M501.6,495.7 525,495.7 525,396.5 520.8,407.1 517.2,417.7 510.9,440.8 507.5,456.7 504.5,472.7 501,495.7 501.6,495.7Z" fill="#d2fd00"/>
<path d="M504.5,495.7 525,495.7 525,406.9 518.2,426.6 511.8,450.7 508.3,467.3 505.2,485.1 503.5,495.7 504.5,495.7Z" fill="#e4fc00"/>
<path d="M507.5,495.7 525,495.7 525,417.4 518.6,437.2 512.8,460.3 509.1,478 506.1,495.7 507.5,495.7Z" fill="#f6fb00"/>
<path d="M508.9,495.7 525,495.7 525,427.9 520.4,442.5 515.8,460.3 511.2,481.5 508.6,495.7 508.9,495.7Z" fill="#fff200"/>
<path d="M511.8,495.7 525,495.7 525,438.4 520.6,453.3 516.2,470.9 511.2,495.7 511.8,495.7Z" fill="#ffe300"/>
<path d="M514.8,495.7 525,495.7 525,449 520.6,464.7 516.6,481.5 513.7,495.7 514.8,495.7Z" fill="#ffd400"/>
<path d="M517.7,495.7 525,495.7 525,459.5 520.6,476.2 516.3,495.7 517.7,495.7Z" fill="#ffc400"/>
<path d="M519.2,495.7 525,495.7 525,470.1 520.4,488.6 518.8,495.7 519.2,495.7Z" fill="#ffb100"/>
<path d="M522.1,495.7 525,495.7 525,480.7 521.4,495.7 522.1,495.7Z" fill="#ff9f00"/>
<path d="M525,495.7 525,491.3 523.9,495.7 525,495.7Z" fill="#ff8d00"/>
<polyline points="351,434.5 359.2,447.6 367.3,462.7 374.8,478.7 381.5,495.7" fill="none" stroke="#151515" stroke-width="0.9"/>
<polyline points="351,339 359.2,345 366.2,350.9 372.6,357 379,364 384.9,371.3 390.7,379.6 395.8,388.1 400.3,396.6 404.7,406.1 408.9,416.4 412.9,427.7 416.4,439.1 419.9,451.9 423.2,466 426.2,480.1 429,495.7" fill="none" stroke="#151515" stroke-width="0.9"/>
<polyline points="525,296.6 518,301.4 512.7,306 507.5,311.8 502.8,318.5 498.7,325.8 495.6,332.9 492.3,342.5 489.5,352.7 487.1,364.1 485,376.8 483.1,391 481.4,407.9 479.9,426.3 478.6,446.2 476.5,495.7" fill="none" stroke="#151515" stroke-width="0.9"/>
<rect x="351" y="284.8" width="174" height="210.9" fill="none" stroke="#2a2a2a" stroke-width="0.9"/>
<line x1="351" y1="495.7" x2="351" y2="499.5" stroke="#555" stroke-width="0.7"/>
<text x="351" y="507.4" font-family="Liberation Sans, Arial, sans-serif" font-size="5.2" fill="#2a2a2a" text-anchor="middle">6</text>
<line x1="380" y1="495.7" x2="380" y2="499.5" stroke="#555" stroke-width="0.7"/>
<text x="380" y="507.4" font-family="Liberation Sans, Arial, sans-serif" font-size="5.2" fill="#2a2a2a" text-anchor="middle">9</text>
<line x1="409" y1="495.7" x2="409" y2="499.5" stroke="#555" stroke-width="0.7"/>
<text x="409" y="507.4" font-family="Liberation Sans, Arial, sans-serif" font-size="5.2" fill="#2a2a2a" text-anchor="middle" textLength="4.6" lengthAdjust="spacingAndGlyphs">12</text>
<line x1="438" y1="495.7" x2="438" y2="499.5" stroke="#555" stroke-width="0.7"/>
<text x="438" y="507.4" font-family="Liberation Sans, Arial, sans-serif" font-size="5.2" fill="#2a2a2a" text-anchor="middle" textLength="4.6" lengthAdjust="spacingAndGlyphs">15</text>
<line x1="467" y1="495.7" x2="467" y2="499.5" stroke="#555" stroke-width="0.7"/>
<text x="467" y="507.4" font-family="Liberation Sans, Arial, sans-serif" font-size="5.2" fill="#2a2a2a" text-anchor="middle" textLength="4.6" lengthAdjust="spacingAndGlyphs">18</text>
<line x1="496" y1="495.7" x2="496" y2="499.5" stroke="#555" stroke-width="0.7"/>
<text x="496" y="507.4" font-family="Liberation Sans, Arial, sans-serif" font-size="5.2" fill="#2a2a2a" text-anchor="middle" textLength="4.6" lengthAdjust="spacingAndGlyphs">21</text>
<line x1="525" y1="495.7" x2="525" y2="499.5" stroke="#555" stroke-width="0.7"/>
<text x="525" y="507.4" font-family="Liberation Sans, Arial, sans-serif" font-size="5.2" fill="#2a2a2a" text-anchor="middle" textLength="4.6" lengthAdjust="spacingAndGlyphs">24</text>
<line x1="347.2" y1="495.7" x2="351" y2="495.7" stroke="#555" stroke-width="0.7"/>
<text x="343.5" y="497.5" font-family="Liberation Sans, Arial, sans-serif" font-size="5.2" fill="#2a2a2a" text-anchor="middle" textLength="5.2" lengthAdjust="spacingAndGlyphs">6.8</text>
<line x1="347.2" y1="443" x2="351" y2="443" stroke="#555" stroke-width="0.7"/>
<text x="343.5" y="444.8" font-family="Liberation Sans, Arial, sans-serif" font-size="5.2" fill="#2a2a2a" text-anchor="middle" textLength="5.2" lengthAdjust="spacingAndGlyphs">7.2</text>
<line x1="347.2" y1="390.2" x2="351" y2="390.2" stroke="#555" stroke-width="0.7"/>
<text x="343.5" y="392.1" font-family="Liberation Sans, Arial, sans-serif" font-size="5.2" fill="#2a2a2a" text-anchor="middle" textLength="5.2" lengthAdjust="spacingAndGlyphs">7.6</text>
<line x1="347.2" y1="337.5" x2="351" y2="337.5" stroke="#555" stroke-width="0.7"/>
<text x="345" y="339.4" font-family="Liberation Sans, Arial, sans-serif" font-size="5.2" fill="#2a2a2a" text-anchor="middle">8</text>
<line x1="347.2" y1="284.8" x2="351" y2="284.8" stroke="#555" stroke-width="0.7"/>
<text x="343.5" y="286.6" font-family="Liberation Sans, Arial, sans-serif" font-size="5.2" fill="#2a2a2a" text-anchor="middle" textLength="5.2" lengthAdjust="spacingAndGlyphs">8.4</text>
<text x="437.5" y="521.8" font-family="Liberation Sans, Arial, sans-serif" font-size="5.6" fill="#2a2a2a" text-anchor="middle" textLength="38.7" lengthAdjust="spacingAndGlyphs">A: Voltage (Volts)</text>
<text x="0" y="2.1" font-family="Liberation Sans, Arial, sans-serif" font-size="5.8" fill="#2a2a2a" text-anchor="middle" textLength="15" lengthAdjust="spacingAndGlyphs" transform="translate(322 390.2) rotate(-90)">C: pH</text>
<text x="437.8" y="281.4" font-family="Liberation Sans, Arial, sans-serif" font-size="7" fill="#2a2a2a" text-anchor="middle" textLength="92.3" lengthAdjust="spacingAndGlyphs">Electrode consumption ((mg L−1))</text>
<text x="313" y="298.8" font-family="Liberation Sans, Arial, sans-serif" font-size="5.6" fill="#666" text-anchor="middle">)</text>
<rect x="365.9" y="456.9" width="4.6" height="6.4" fill="#f4f4f4" stroke="#555" stroke-width="0.6"/><text x="368.2" y="461.6" font-family="Liberation Sans, Arial, sans-serif" font-size="4.2" fill="#444" text-anchor="middle">2</text>
<rect x="400.7" y="397.6" width="4.6" height="6.4" fill="#f4f4f4" stroke="#555" stroke-width="0.6"/><text x="403" y="402.3" font-family="Liberation Sans, Arial, sans-serif" font-size="4.2" fill="#444" text-anchor="middle">4</text>
<rect x="482.2" y="370.8" width="4.6" height="6.4" fill="#f4f4f4" stroke="#555" stroke-width="0.6"/><text x="484.5" y="375.5" font-family="Liberation Sans, Arial, sans-serif" font-size="4.2" fill="#444" text-anchor="middle">6</text>
<rect x="520.7" y="486.8" width="4.6" height="6.4" fill="#f4f4f4" stroke="#555" stroke-width="0.6"/><text x="523" y="491.5" font-family="Liberation Sans, Arial, sans-serif" font-size="4.2" fill="#444" text-anchor="middle">8</text>
<circle cx="351" cy="284.8" r="2.2" fill="#e00000" stroke="#600000" stroke-width="0.7"/>
<circle cx="525" cy="284.8" r="2.2" fill="#e00000" stroke="#600000" stroke-width="0.7"/>
<circle cx="351" cy="495.7" r="2.2" fill="#e00000" stroke="#600000" stroke-width="0.7"/>
<circle cx="525" cy="495.7" r="2.2" fill="#e00000" stroke="#600000" stroke-width="0.7"/>
<circle cx="409" cy="390" r="2" fill="#ffffff" stroke="#111" stroke-width="1.0"/>
<text x="274" y="264.1" font-family="Liberation Serif, Times New Roman, serif" font-size="11.7" fill="#111" text-anchor="middle" font-weight="bold">(d)</text>
<text x="274" y="545" font-family="Liberation Serif, Times New Roman, serif" font-size="11.7" fill="#111" text-anchor="middle" font-weight="bold">(e)</text>
</svg>
</body></html>
